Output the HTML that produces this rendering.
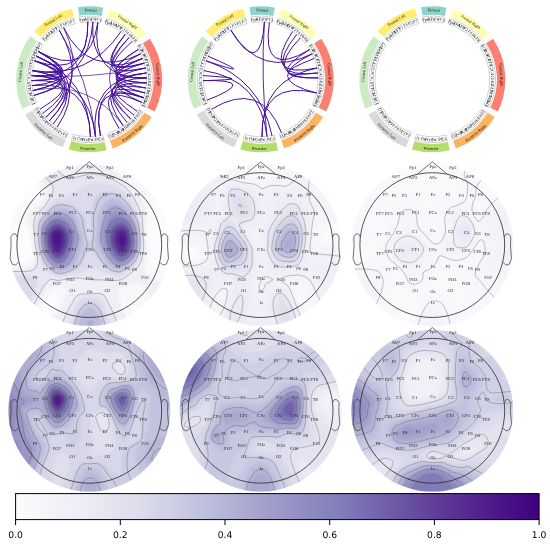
<!DOCTYPE html>
<html><head><meta charset="utf-8"><style>
html,body{margin:0;padding:0;background:#fff;}
svg{display:block;text-rendering:geometricPrecision;}
.gn{font-family:"Liberation Serif",serif;font-size:4.15px;fill:#111;text-anchor:middle;dominant-baseline:central;}
.cl{font-family:"Liberation Serif",serif;font-size:4.4px;fill:#000;text-anchor:middle;dominant-baseline:central;}
.ln{fill:none;stroke:#45109a;stroke-linecap:round;}
.el{font-family:"Liberation Serif",serif;font-size:4.6px;fill:#2a2a2a;text-anchor:middle;dominant-baseline:central;}
.cb{font-family:"DejaVu Sans","Liberation Sans",sans-serif;font-size:9.2px;fill:#000;text-anchor:middle;}
</style></head><body>
<svg width="550" height="545" viewBox="0 0 550 545">
<g><path d="M77.98,7.16A73.0,73.0 0 0 1 103.33,7.69L101.70,15.93A64.6,64.6 0 0 0 79.27,15.46Z" fill="#8dd3c7"/>
<path d="M79.47,16.75A63.3,63.3 0 0 1 101.45,17.21L100.30,22.99A57.4,57.4 0 0 0 80.37,22.58Z" fill="#fff" stroke="#9a9a9a" stroke-width="0.45"/>
<text x="90.60" y="10.12" class="gn" transform="rotate(1.2 90.60 10.12)">Frontal</text>
<text x="82.53" y="19.31" class="cl" transform="rotate(353.7 82.53 19.31)">Fpz</text>
<text x="87.78" y="18.97" class="cl" transform="rotate(358.7 87.78 18.97)">AFz</text>
<text x="93.04" y="19.08" class="cl" transform="rotate(3.7 93.04 19.08)">Fz</text>
<text x="98.28" y="19.64" class="cl" transform="rotate(8.7 98.28 19.64)">FCz</text>
<path d="M109.52,9.20A73.0,73.0 0 0 1 146.04,33.56L139.50,38.82A64.6,64.6 0 0 0 107.17,17.27Z" fill="#ffffb3"/>
<path d="M106.81,18.51A63.3,63.3 0 0 1 138.48,39.64L133.88,43.33A57.4,57.4 0 0 0 105.16,24.18Z" fill="#fff" stroke="#9a9a9a" stroke-width="0.45"/>
<text x="127.55" y="21.73" class="gn" transform="rotate(33.7 127.55 21.73)">Frontal Right</text>
<text x="108.50" y="22.14" class="cl" transform="rotate(18.7 108.50 22.14)">Fp2</text>
<text x="113.41" y="24.04" class="cl" transform="rotate(23.7 113.41 24.04)">AF4</text>
<text x="118.13" y="26.36" class="cl" transform="rotate(28.7 118.13 26.36)">AF8</text>
<text x="122.63" y="29.09" class="cl" transform="rotate(33.7 122.63 29.09)">F2</text>
<text x="126.88" y="32.20" class="cl" transform="rotate(38.7 126.88 32.20)">F4</text>
<text x="130.84" y="35.67" class="cl" transform="rotate(43.7 130.84 35.67)">F6</text>
<text x="134.49" y="39.47" class="cl" transform="rotate(48.7 134.49 39.47)">F8</text>
<path d="M149.81,38.69A73.0,73.0 0 0 1 154.65,111.53L147.11,107.82A64.6,64.6 0 0 0 142.83,43.36Z" fill="#fb8072"/>
<path d="M141.75,44.09A63.3,63.3 0 0 1 145.95,107.25L140.65,104.64A57.4,57.4 0 0 0 136.85,47.37Z" fill="#fff" stroke="#9a9a9a" stroke-width="0.45"/>
<text x="158.20" y="74.71" class="gn" transform="rotate(86.2 158.20 74.71)">Central Right</text>
<text x="140.72" y="47.95" class="cl" transform="rotate(58.7 140.72 47.95)">FC2</text>
<text x="143.25" y="52.56" class="cl" transform="rotate(63.7 143.25 52.56)">FC4</text>
<text x="145.38" y="57.38" class="cl" transform="rotate(68.7 145.38 57.38)">FC6</text>
<text x="147.07" y="62.36" class="cl" transform="rotate(73.7 147.07 62.36)">FT8</text>
<text x="148.33" y="67.47" class="cl" transform="rotate(78.7 148.33 67.47)">C2</text>
<text x="149.14" y="72.68" class="cl" transform="rotate(83.7 149.14 72.68)">C4</text>
<text x="149.48" y="77.93" class="cl" transform="rotate(88.7 149.48 77.93)">C6</text>
<text x="149.37" y="83.19" class="cl" transform="rotate(-86.3 149.37 83.19)">T8</text>
<text x="148.81" y="88.43" class="cl" transform="rotate(-81.3 148.81 88.43)">CP2</text>
<text x="147.78" y="93.59" class="cl" transform="rotate(-76.3 147.78 93.59)">CP4</text>
<text x="146.31" y="98.65" class="cl" transform="rotate(-71.3 146.31 98.65)">CP6</text>
<text x="144.41" y="103.56" class="cl" transform="rotate(-66.3 144.41 103.56)">TP8</text>
<path d="M151.59,117.12A73.0,73.0 0 0 1 112.68,148.41L109.97,140.45A64.6,64.6 0 0 0 144.41,112.76Z" fill="#fdb462"/>
<path d="M143.29,112.09A63.3,63.3 0 0 1 109.55,139.22L107.65,133.64A57.4,57.4 0 0 0 138.25,109.03Z" fill="#fff" stroke="#9a9a9a" stroke-width="0.45"/>
<text x="132.51" y="133.23" class="gn" transform="rotate(-38.8 132.51 133.23)">Posterior Right</text>
<text x="139.36" y="112.78" class="cl" transform="rotate(-56.3 139.36 112.78)">P2</text>
<text x="136.25" y="117.03" class="cl" transform="rotate(-51.3 136.25 117.03)">P4</text>
<text x="132.78" y="120.99" class="cl" transform="rotate(-46.3 132.78 120.99)">P6</text>
<text x="128.98" y="124.64" class="cl" transform="rotate(-41.3 128.98 124.64)">P8</text>
<text x="124.88" y="127.94" class="cl" transform="rotate(-36.3 124.88 127.94)">P10</text>
<text x="120.50" y="130.87" class="cl" transform="rotate(-31.3 120.50 130.87)">PO4</text>
<text x="115.89" y="133.40" class="cl" transform="rotate(-26.3 115.89 133.40)">PO8</text>
<text x="111.07" y="135.53" class="cl" transform="rotate(-21.3 111.07 135.53)">O2</text>
<path d="M106.56,150.19A73.0,73.0 0 0 1 68.78,149.40L71.13,141.33A64.6,64.6 0 0 0 104.56,142.04Z" fill="#b3de69"/>
<path d="M104.25,140.77A63.3,63.3 0 0 1 71.49,140.09L73.14,134.42A57.4,57.4 0 0 0 102.84,135.04Z" fill="#fff" stroke="#9a9a9a" stroke-width="0.45"/>
<text x="87.70" y="148.48" class="gn" transform="rotate(1.2 87.70 148.48)">Posterior</text>
<text x="100.98" y="138.48" class="cl" transform="rotate(-11.3 100.98 138.48)">Cz</text>
<text x="95.77" y="139.29" class="cl" transform="rotate(-6.3 95.77 139.29)">CPz</text>
<text x="90.52" y="139.63" class="cl" transform="rotate(-1.3 90.52 139.63)">Pz</text>
<text x="85.26" y="139.52" class="cl" transform="rotate(3.7 85.26 139.52)">POz</text>
<text x="80.02" y="138.96" class="cl" transform="rotate(8.7 80.02 138.96)">Oz</text>
<text x="74.86" y="137.93" class="cl" transform="rotate(13.7 74.86 137.93)">Iz</text>
<path d="M62.75,147.36A73.0,73.0 0 0 1 25.18,114.47L32.54,110.42A64.6,64.6 0 0 0 65.79,139.53Z" fill="#d9d9d9"/>
<path d="M66.26,138.32A63.3,63.3 0 0 1 33.68,109.80L38.85,106.95A57.4,57.4 0 0 0 68.39,132.82Z" fill="#fff" stroke="#9a9a9a" stroke-width="0.45"/>
<text x="43.57" y="131.37" class="gn" transform="rotate(41.2 43.57 131.37)">Posterior Left</text>
<text x="64.89" y="134.56" class="cl" transform="rotate(23.7 64.89 134.56)">P1</text>
<text x="60.17" y="132.24" class="cl" transform="rotate(28.7 60.17 132.24)">P3</text>
<text x="55.67" y="129.51" class="cl" transform="rotate(33.7 55.67 129.51)">P5</text>
<text x="51.42" y="126.40" class="cl" transform="rotate(38.7 51.42 126.40)">P7</text>
<text x="47.46" y="122.93" class="cl" transform="rotate(43.7 47.46 122.93)">P9</text>
<text x="43.81" y="119.13" class="cl" transform="rotate(48.7 43.81 119.13)">PO3</text>
<text x="40.51" y="115.03" class="cl" transform="rotate(53.7 40.51 115.03)">PO7</text>
<text x="37.58" y="110.65" class="cl" transform="rotate(58.7 37.58 110.65)">O1</text>
<path d="M22.36,108.76A73.0,73.0 0 0 1 30.24,36.19L37.02,41.15A64.6,64.6 0 0 0 30.04,105.37Z" fill="#ccebc5"/>
<path d="M31.23,104.84A63.3,63.3 0 0 1 38.07,41.91L42.83,45.40A57.4,57.4 0 0 0 36.63,102.46Z" fill="#fff" stroke="#9a9a9a" stroke-width="0.45"/>
<text x="20.35" y="71.83" class="gn" transform="rotate(276.2 20.35 71.83)">Central Left</text>
<text x="32.92" y="101.22" class="cl" transform="rotate(68.7 32.92 101.22)">FC1</text>
<text x="31.23" y="96.24" class="cl" transform="rotate(73.7 31.23 96.24)">FC3</text>
<text x="29.97" y="91.13" class="cl" transform="rotate(78.7 29.97 91.13)">FC5</text>
<text x="29.16" y="85.92" class="cl" transform="rotate(83.7 29.16 85.92)">FT7</text>
<text x="28.82" y="80.67" class="cl" transform="rotate(88.7 28.82 80.67)">C1</text>
<text x="28.93" y="75.41" class="cl" transform="rotate(273.7 28.93 75.41)">C3</text>
<text x="29.49" y="70.17" class="cl" transform="rotate(278.7 29.49 70.17)">C5</text>
<text x="30.52" y="65.01" class="cl" transform="rotate(283.7 30.52 65.01)">T7</text>
<text x="31.99" y="59.95" class="cl" transform="rotate(288.7 31.99 59.95)">CP1</text>
<text x="33.89" y="55.04" class="cl" transform="rotate(293.7 33.89 55.04)">CP3</text>
<text x="36.21" y="50.32" class="cl" transform="rotate(298.7 36.21 50.32)">CP5</text>
<text x="38.94" y="45.82" class="cl" transform="rotate(303.7 38.94 45.82)">TP7</text>
<path d="M34.22,31.22A73.0,73.0 0 0 1 71.74,8.41L73.74,16.56A64.6,64.6 0 0 0 40.54,36.75Z" fill="#ffed6f"/>
<path d="M41.52,37.60A63.3,63.3 0 0 1 74.05,17.83L75.46,23.56A57.4,57.4 0 0 0 45.96,41.49Z" fill="#fff" stroke="#9a9a9a" stroke-width="0.45"/>
<text x="53.20" y="20.17" class="gn" transform="rotate(328.7 53.20 20.17)">Frontal Left</text>
<text x="45.52" y="37.61" class="cl" transform="rotate(313.7 45.52 37.61)">Fp1</text>
<text x="49.32" y="33.96" class="cl" transform="rotate(318.7 49.32 33.96)">AF3</text>
<text x="53.42" y="30.66" class="cl" transform="rotate(323.7 53.42 30.66)">AF7</text>
<text x="57.80" y="27.73" class="cl" transform="rotate(328.7 57.80 27.73)">F1</text>
<text x="62.41" y="25.20" class="cl" transform="rotate(333.7 62.41 25.20)">F3</text>
<text x="67.23" y="23.07" class="cl" transform="rotate(338.7 67.23 23.07)">F5</text>
<text x="72.21" y="21.38" class="cl" transform="rotate(343.7 72.21 21.38)">F7</text>
<path d="M87.85,22.11Q89.15,79.30 32.07,75.61" class="ln" stroke-width="1.0"/>
<path d="M87.85,22.11Q89.15,79.30 34.97,60.96" class="ln" stroke-width="1.0"/>
<path d="M92.84,22.22Q89.15,79.30 33.06,90.51" class="ln" stroke-width="1.0"/>
<path d="M92.84,22.22Q89.15,79.30 144.05,63.25" class="ln" stroke-width="1.0"/>
<path d="M97.80,22.76Q89.15,79.30 146.34,78.00" class="ln" stroke-width="1.0"/>
<path d="M97.80,22.76Q89.15,79.30 38.98,51.83" class="ln" stroke-width="1.0"/>
<path d="M100.36,135.39Q89.15,79.30 146.23,82.99" class="ln" stroke-width="1.0"/>
<path d="M100.36,135.39Q89.15,79.30 143.33,97.64" class="ln" stroke-width="1.0"/>
<path d="M95.43,136.15Q89.15,79.30 32.61,70.65" class="ln" stroke-width="1.0"/>
<path d="M95.43,136.15Q89.15,79.30 146.00,73.02" class="ln" stroke-width="1.0"/>
<path d="M90.45,136.49Q89.15,79.30 32.30,85.58" class="ln" stroke-width="1.0"/>
<path d="M90.45,136.49Q89.15,79.30 36.77,56.31" class="ln" stroke-width="1.0"/>
<path d="M59.43,30.42Q89.15,79.30 49.63,120.65" class="ln" stroke-width="1.0"/>
<path d="M63.81,28.02Q89.15,79.30 140.43,53.96" class="ln" stroke-width="1.0"/>
<path d="M59.43,30.42Q89.15,79.30 95.43,136.15" class="ln" stroke-width="0.8"/>
<path d="M120.89,31.71Q89.15,79.30 32.61,70.65" class="ln" stroke-width="1.0"/>
<path d="M124.91,34.66Q89.15,79.30 142.44,58.52" class="ln" stroke-width="1.0"/>
<path d="M128.67,37.95Q89.15,79.30 144.05,63.25" class="ln" stroke-width="1.0"/>
<path d="M132.12,41.55Q89.15,79.30 145.24,68.09" class="ln" stroke-width="1.0"/>
<path d="M124.91,34.66Q89.15,79.30 146.34,78.00" class="ln" stroke-width="1.0"/>
<path d="M128.67,37.95Q89.15,79.30 130.50,118.82" class="ln" stroke-width="0.8"/>
<path d="M34.25,95.35Q89.15,79.30 34.97,60.96" class="ln" stroke-width="1.0"/>
<path d="M32.30,85.58Q89.15,79.30 36.77,56.31" class="ln" stroke-width="1.0"/>
<path d="M33.06,90.51Q89.15,79.30 38.98,51.83" class="ln" stroke-width="1.0"/>
<path d="M31.96,80.60Q89.15,79.30 36.77,56.31" class="ln" stroke-width="1.0"/>
<path d="M32.07,75.61Q89.15,79.30 34.25,95.35" class="ln" stroke-width="1.0"/>
<path d="M32.61,70.65Q89.15,79.30 38.98,51.83" class="ln" stroke-width="1.0"/>
<path d="M34.97,60.96Q89.15,79.30 31.96,80.60" class="ln" stroke-width="1.0"/>
<path d="M38.98,51.83Q89.15,79.30 32.07,75.61" class="ln" stroke-width="1.0"/>
<path d="M40.27,109.02Q89.15,79.30 31.96,80.60" class="ln" stroke-width="1.0"/>
<path d="M43.05,113.16Q89.15,79.30 32.07,75.61" class="ln" stroke-width="1.0"/>
<path d="M46.18,117.05Q89.15,79.30 34.97,60.96" class="ln" stroke-width="1.0"/>
<path d="M49.63,120.65Q89.15,79.30 36.77,56.31" class="ln" stroke-width="1.0"/>
<path d="M53.39,123.94Q89.15,79.30 32.61,70.65" class="ln" stroke-width="1.0"/>
<path d="M57.41,126.89Q89.15,79.30 38.98,51.83" class="ln" stroke-width="1.0"/>
<path d="M46.18,117.05Q89.15,79.30 63.81,28.02" class="ln" stroke-width="0.8"/>
<path d="M136.74,111.04Q89.15,79.30 145.69,87.95" class="ln" stroke-width="1.0"/>
<path d="M133.79,115.06Q89.15,79.30 144.72,92.85" class="ln" stroke-width="1.0"/>
<path d="M130.50,118.82Q89.15,79.30 143.33,97.64" class="ln" stroke-width="1.0"/>
<path d="M126.90,122.27Q89.15,79.30 146.00,73.02" class="ln" stroke-width="1.0"/>
<path d="M123.01,125.40Q89.15,79.30 146.34,78.00" class="ln" stroke-width="1.0"/>
<path d="M118.87,128.18Q89.15,79.30 141.53,102.29" class="ln" stroke-width="1.0"/>
<path d="M123.01,125.40Q89.15,79.30 33.06,90.51" class="ln" stroke-width="0.7"/>
<path d="M138.03,49.58Q89.15,79.30 145.69,87.95" class="ln" stroke-width="1.0"/>
<path d="M140.43,53.96Q89.15,79.30 144.72,92.85" class="ln" stroke-width="1.0"/>
<path d="M142.44,58.52Q89.15,79.30 143.33,97.64" class="ln" stroke-width="1.0"/>
<path d="M144.05,63.25Q89.15,79.30 146.23,82.99" class="ln" stroke-width="1.0"/>
<path d="M145.24,68.09Q89.15,79.30 141.53,102.29" class="ln" stroke-width="1.0"/>
<path d="M146.00,73.02Q89.15,79.30 143.33,97.64" class="ln" stroke-width="1.0"/>
<path d="M138.03,49.58Q89.15,79.30 146.34,78.00" class="ln" stroke-width="1.0"/>
<path d="M146.23,82.99Q89.15,79.30 142.44,58.52" class="ln" stroke-width="1.0"/>
<path d="M32.07,75.61Q89.15,79.30 145.24,68.09" class="ln" stroke-width="0.7"/></g>
<g><path d="M249.53,7.16A73.0,73.0 0 0 1 274.88,7.69L273.25,15.93A64.6,64.6 0 0 0 250.82,15.46Z" fill="#8dd3c7"/>
<path d="M251.02,16.75A63.3,63.3 0 0 1 273.00,17.21L271.85,22.99A57.4,57.4 0 0 0 251.92,22.58Z" fill="#fff" stroke="#9a9a9a" stroke-width="0.45"/>
<text x="262.15" y="10.12" class="gn" transform="rotate(1.2 262.15 10.12)">Frontal</text>
<text x="254.08" y="19.31" class="cl" transform="rotate(353.7 254.08 19.31)">Fpz</text>
<text x="259.33" y="18.97" class="cl" transform="rotate(358.7 259.33 18.97)">AFz</text>
<text x="264.59" y="19.08" class="cl" transform="rotate(3.7 264.59 19.08)">Fz</text>
<text x="269.83" y="19.64" class="cl" transform="rotate(8.7 269.83 19.64)">FCz</text>
<path d="M281.07,9.20A73.0,73.0 0 0 1 317.59,33.56L311.05,38.82A64.6,64.6 0 0 0 278.72,17.27Z" fill="#ffffb3"/>
<path d="M278.36,18.51A63.3,63.3 0 0 1 310.03,39.64L305.43,43.33A57.4,57.4 0 0 0 276.71,24.18Z" fill="#fff" stroke="#9a9a9a" stroke-width="0.45"/>
<text x="299.10" y="21.73" class="gn" transform="rotate(33.7 299.10 21.73)">Frontal Right</text>
<text x="280.05" y="22.14" class="cl" transform="rotate(18.7 280.05 22.14)">Fp2</text>
<text x="284.96" y="24.04" class="cl" transform="rotate(23.7 284.96 24.04)">AF4</text>
<text x="289.68" y="26.36" class="cl" transform="rotate(28.7 289.68 26.36)">AF8</text>
<text x="294.18" y="29.09" class="cl" transform="rotate(33.7 294.18 29.09)">F2</text>
<text x="298.43" y="32.20" class="cl" transform="rotate(38.7 298.43 32.20)">F4</text>
<text x="302.39" y="35.67" class="cl" transform="rotate(43.7 302.39 35.67)">F6</text>
<text x="306.04" y="39.47" class="cl" transform="rotate(48.7 306.04 39.47)">F8</text>
<path d="M321.36,38.69A73.0,73.0 0 0 1 326.20,111.53L318.66,107.82A64.6,64.6 0 0 0 314.38,43.36Z" fill="#fb8072"/>
<path d="M313.30,44.09A63.3,63.3 0 0 1 317.50,107.25L312.20,104.64A57.4,57.4 0 0 0 308.40,47.37Z" fill="#fff" stroke="#9a9a9a" stroke-width="0.45"/>
<text x="329.75" y="74.71" class="gn" transform="rotate(86.2 329.75 74.71)">Central Right</text>
<text x="312.27" y="47.95" class="cl" transform="rotate(58.7 312.27 47.95)">FC2</text>
<text x="314.80" y="52.56" class="cl" transform="rotate(63.7 314.80 52.56)">FC4</text>
<text x="316.93" y="57.38" class="cl" transform="rotate(68.7 316.93 57.38)">FC6</text>
<text x="318.62" y="62.36" class="cl" transform="rotate(73.7 318.62 62.36)">FT8</text>
<text x="319.88" y="67.47" class="cl" transform="rotate(78.7 319.88 67.47)">C2</text>
<text x="320.69" y="72.68" class="cl" transform="rotate(83.7 320.69 72.68)">C4</text>
<text x="321.03" y="77.93" class="cl" transform="rotate(88.7 321.03 77.93)">C6</text>
<text x="320.92" y="83.19" class="cl" transform="rotate(-86.3 320.92 83.19)">T8</text>
<text x="320.36" y="88.43" class="cl" transform="rotate(-81.3 320.36 88.43)">CP2</text>
<text x="319.33" y="93.59" class="cl" transform="rotate(-76.3 319.33 93.59)">CP4</text>
<text x="317.86" y="98.65" class="cl" transform="rotate(-71.3 317.86 98.65)">CP6</text>
<text x="315.96" y="103.56" class="cl" transform="rotate(-66.3 315.96 103.56)">TP8</text>
<path d="M323.14,117.12A73.0,73.0 0 0 1 284.23,148.41L281.52,140.45A64.6,64.6 0 0 0 315.96,112.76Z" fill="#fdb462"/>
<path d="M314.84,112.09A63.3,63.3 0 0 1 281.10,139.22L279.20,133.64A57.4,57.4 0 0 0 309.80,109.03Z" fill="#fff" stroke="#9a9a9a" stroke-width="0.45"/>
<text x="304.06" y="133.23" class="gn" transform="rotate(-38.8 304.06 133.23)">Posterior Right</text>
<text x="310.91" y="112.78" class="cl" transform="rotate(-56.3 310.91 112.78)">P2</text>
<text x="307.80" y="117.03" class="cl" transform="rotate(-51.3 307.80 117.03)">P4</text>
<text x="304.33" y="120.99" class="cl" transform="rotate(-46.3 304.33 120.99)">P6</text>
<text x="300.53" y="124.64" class="cl" transform="rotate(-41.3 300.53 124.64)">P8</text>
<text x="296.43" y="127.94" class="cl" transform="rotate(-36.3 296.43 127.94)">P10</text>
<text x="292.05" y="130.87" class="cl" transform="rotate(-31.3 292.05 130.87)">PO4</text>
<text x="287.44" y="133.40" class="cl" transform="rotate(-26.3 287.44 133.40)">PO8</text>
<text x="282.62" y="135.53" class="cl" transform="rotate(-21.3 282.62 135.53)">O2</text>
<path d="M278.11,150.19A73.0,73.0 0 0 1 240.33,149.40L242.68,141.33A64.6,64.6 0 0 0 276.11,142.04Z" fill="#b3de69"/>
<path d="M275.80,140.77A63.3,63.3 0 0 1 243.04,140.09L244.69,134.42A57.4,57.4 0 0 0 274.39,135.04Z" fill="#fff" stroke="#9a9a9a" stroke-width="0.45"/>
<text x="259.25" y="148.48" class="gn" transform="rotate(1.2 259.25 148.48)">Posterior</text>
<text x="272.53" y="138.48" class="cl" transform="rotate(-11.3 272.53 138.48)">Cz</text>
<text x="267.32" y="139.29" class="cl" transform="rotate(-6.3 267.32 139.29)">CPz</text>
<text x="262.07" y="139.63" class="cl" transform="rotate(-1.3 262.07 139.63)">Pz</text>
<text x="256.81" y="139.52" class="cl" transform="rotate(3.7 256.81 139.52)">POz</text>
<text x="251.57" y="138.96" class="cl" transform="rotate(8.7 251.57 138.96)">Oz</text>
<text x="246.41" y="137.93" class="cl" transform="rotate(13.7 246.41 137.93)">Iz</text>
<path d="M234.30,147.36A73.0,73.0 0 0 1 196.73,114.47L204.09,110.42A64.6,64.6 0 0 0 237.34,139.53Z" fill="#d9d9d9"/>
<path d="M237.81,138.32A63.3,63.3 0 0 1 205.23,109.80L210.40,106.95A57.4,57.4 0 0 0 239.94,132.82Z" fill="#fff" stroke="#9a9a9a" stroke-width="0.45"/>
<text x="215.12" y="131.37" class="gn" transform="rotate(41.2 215.12 131.37)">Posterior Left</text>
<text x="236.44" y="134.56" class="cl" transform="rotate(23.7 236.44 134.56)">P1</text>
<text x="231.72" y="132.24" class="cl" transform="rotate(28.7 231.72 132.24)">P3</text>
<text x="227.22" y="129.51" class="cl" transform="rotate(33.7 227.22 129.51)">P5</text>
<text x="222.97" y="126.40" class="cl" transform="rotate(38.7 222.97 126.40)">P7</text>
<text x="219.01" y="122.93" class="cl" transform="rotate(43.7 219.01 122.93)">P9</text>
<text x="215.36" y="119.13" class="cl" transform="rotate(48.7 215.36 119.13)">PO3</text>
<text x="212.06" y="115.03" class="cl" transform="rotate(53.7 212.06 115.03)">PO7</text>
<text x="209.13" y="110.65" class="cl" transform="rotate(58.7 209.13 110.65)">O1</text>
<path d="M193.91,108.76A73.0,73.0 0 0 1 201.79,36.19L208.57,41.15A64.6,64.6 0 0 0 201.59,105.37Z" fill="#ccebc5"/>
<path d="M202.78,104.84A63.3,63.3 0 0 1 209.62,41.91L214.38,45.40A57.4,57.4 0 0 0 208.18,102.46Z" fill="#fff" stroke="#9a9a9a" stroke-width="0.45"/>
<text x="191.90" y="71.83" class="gn" transform="rotate(276.2 191.90 71.83)">Central Left</text>
<text x="204.47" y="101.22" class="cl" transform="rotate(68.7 204.47 101.22)">FC1</text>
<text x="202.78" y="96.24" class="cl" transform="rotate(73.7 202.78 96.24)">FC3</text>
<text x="201.52" y="91.13" class="cl" transform="rotate(78.7 201.52 91.13)">FC5</text>
<text x="200.71" y="85.92" class="cl" transform="rotate(83.7 200.71 85.92)">FT7</text>
<text x="200.37" y="80.67" class="cl" transform="rotate(88.7 200.37 80.67)">C1</text>
<text x="200.48" y="75.41" class="cl" transform="rotate(273.7 200.48 75.41)">C3</text>
<text x="201.04" y="70.17" class="cl" transform="rotate(278.7 201.04 70.17)">C5</text>
<text x="202.07" y="65.01" class="cl" transform="rotate(283.7 202.07 65.01)">T7</text>
<text x="203.54" y="59.95" class="cl" transform="rotate(288.7 203.54 59.95)">CP1</text>
<text x="205.44" y="55.04" class="cl" transform="rotate(293.7 205.44 55.04)">CP3</text>
<text x="207.76" y="50.32" class="cl" transform="rotate(298.7 207.76 50.32)">CP5</text>
<text x="210.49" y="45.82" class="cl" transform="rotate(303.7 210.49 45.82)">TP7</text>
<path d="M205.77,31.22A73.0,73.0 0 0 1 243.29,8.41L245.29,16.56A64.6,64.6 0 0 0 212.09,36.75Z" fill="#ffed6f"/>
<path d="M213.07,37.60A63.3,63.3 0 0 1 245.60,17.83L247.01,23.56A57.4,57.4 0 0 0 217.51,41.49Z" fill="#fff" stroke="#9a9a9a" stroke-width="0.45"/>
<text x="224.75" y="20.17" class="gn" transform="rotate(328.7 224.75 20.17)">Frontal Left</text>
<text x="217.07" y="37.61" class="cl" transform="rotate(313.7 217.07 37.61)">Fp1</text>
<text x="220.87" y="33.96" class="cl" transform="rotate(318.7 220.87 33.96)">AF3</text>
<text x="224.97" y="30.66" class="cl" transform="rotate(323.7 224.97 30.66)">AF7</text>
<text x="229.35" y="27.73" class="cl" transform="rotate(328.7 229.35 27.73)">F1</text>
<text x="233.96" y="25.20" class="cl" transform="rotate(333.7 233.96 25.20)">F3</text>
<text x="238.78" y="23.07" class="cl" transform="rotate(338.7 238.78 23.07)">F5</text>
<text x="243.76" y="21.38" class="cl" transform="rotate(343.7 243.76 21.38)">F7</text>
<path d="M230.98,30.42Q260.70,79.30 264.39,22.22" class="ln" stroke-width="1.0"/>
<path d="M230.98,30.42Q260.70,79.30 311.98,53.96" class="ln" stroke-width="1.0"/>
<path d="M264.39,22.22Q260.70,79.30 266.98,136.15" class="ln" stroke-width="0.9"/>
<path d="M269.35,22.76Q260.70,79.30 309.58,49.58" class="ln" stroke-width="1.0"/>
<path d="M292.44,31.71Q260.70,79.30 316.79,68.09" class="ln" stroke-width="1.0"/>
<path d="M296.46,34.66Q260.70,79.30 317.55,73.02" class="ln" stroke-width="1.0"/>
<path d="M300.22,37.95Q260.70,79.30 317.89,78.00" class="ln" stroke-width="1.0"/>
<path d="M309.58,49.58Q260.70,79.30 317.89,78.00" class="ln" stroke-width="1.0"/>
<path d="M311.98,53.96Q260.70,79.30 316.27,92.85" class="ln" stroke-width="1.0"/>
<path d="M313.99,58.52Q260.70,79.30 317.55,73.02" class="ln" stroke-width="1.0"/>
<path d="M316.27,92.85Q260.70,79.30 262.00,136.49" class="ln" stroke-width="1.0"/>
<path d="M266.98,136.15Q260.70,79.30 204.16,70.65" class="ln" stroke-width="1.0"/>
<path d="M262.00,136.49Q260.70,79.30 316.79,68.09" class="ln" stroke-width="1.0"/>
<path d="M211.82,109.02Q260.70,79.30 281.48,132.59" class="ln" stroke-width="1.0"/>
<path d="M208.32,56.31Q260.70,79.30 206.52,60.96" class="ln" stroke-width="1.0"/>
<path d="M206.52,60.96Q260.70,79.30 271.91,135.39" class="ln" stroke-width="1.0"/>
<path d="M203.62,75.61Q260.70,79.30 203.51,80.60" class="ln" stroke-width="1.0"/>
<path d="M203.51,80.60Q260.70,79.30 207.41,100.08" class="ln" stroke-width="1.0"/></g>
<g><path d="M421.18,7.16A73.0,73.0 0 0 1 446.53,7.69L444.90,15.93A64.6,64.6 0 0 0 422.47,15.46Z" fill="#8dd3c7"/>
<path d="M422.67,16.75A63.3,63.3 0 0 1 444.65,17.21L443.50,22.99A57.4,57.4 0 0 0 423.57,22.58Z" fill="#fff" stroke="#9a9a9a" stroke-width="0.45"/>
<text x="433.80" y="10.12" class="gn" transform="rotate(1.2 433.80 10.12)">Frontal</text>
<text x="425.73" y="19.31" class="cl" transform="rotate(353.7 425.73 19.31)">Fpz</text>
<text x="430.98" y="18.97" class="cl" transform="rotate(358.7 430.98 18.97)">AFz</text>
<text x="436.24" y="19.08" class="cl" transform="rotate(3.7 436.24 19.08)">Fz</text>
<text x="441.48" y="19.64" class="cl" transform="rotate(8.7 441.48 19.64)">FCz</text>
<path d="M452.72,9.20A73.0,73.0 0 0 1 489.24,33.56L482.70,38.82A64.6,64.6 0 0 0 450.37,17.27Z" fill="#ffffb3"/>
<path d="M450.01,18.51A63.3,63.3 0 0 1 481.68,39.64L477.08,43.33A57.4,57.4 0 0 0 448.36,24.18Z" fill="#fff" stroke="#9a9a9a" stroke-width="0.45"/>
<text x="470.75" y="21.73" class="gn" transform="rotate(33.7 470.75 21.73)">Frontal Right</text>
<text x="451.70" y="22.14" class="cl" transform="rotate(18.7 451.70 22.14)">Fp2</text>
<text x="456.61" y="24.04" class="cl" transform="rotate(23.7 456.61 24.04)">AF4</text>
<text x="461.33" y="26.36" class="cl" transform="rotate(28.7 461.33 26.36)">AF8</text>
<text x="465.83" y="29.09" class="cl" transform="rotate(33.7 465.83 29.09)">F2</text>
<text x="470.08" y="32.20" class="cl" transform="rotate(38.7 470.08 32.20)">F4</text>
<text x="474.04" y="35.67" class="cl" transform="rotate(43.7 474.04 35.67)">F6</text>
<text x="477.69" y="39.47" class="cl" transform="rotate(48.7 477.69 39.47)">F8</text>
<path d="M493.01,38.69A73.0,73.0 0 0 1 497.85,111.53L490.31,107.82A64.6,64.6 0 0 0 486.03,43.36Z" fill="#fb8072"/>
<path d="M484.95,44.09A63.3,63.3 0 0 1 489.15,107.25L483.85,104.64A57.4,57.4 0 0 0 480.05,47.37Z" fill="#fff" stroke="#9a9a9a" stroke-width="0.45"/>
<text x="501.40" y="74.71" class="gn" transform="rotate(86.2 501.40 74.71)">Central Right</text>
<text x="483.92" y="47.95" class="cl" transform="rotate(58.7 483.92 47.95)">FC2</text>
<text x="486.45" y="52.56" class="cl" transform="rotate(63.7 486.45 52.56)">FC4</text>
<text x="488.58" y="57.38" class="cl" transform="rotate(68.7 488.58 57.38)">FC6</text>
<text x="490.27" y="62.36" class="cl" transform="rotate(73.7 490.27 62.36)">FT8</text>
<text x="491.53" y="67.47" class="cl" transform="rotate(78.7 491.53 67.47)">C2</text>
<text x="492.34" y="72.68" class="cl" transform="rotate(83.7 492.34 72.68)">C4</text>
<text x="492.68" y="77.93" class="cl" transform="rotate(88.7 492.68 77.93)">C6</text>
<text x="492.57" y="83.19" class="cl" transform="rotate(-86.3 492.57 83.19)">T8</text>
<text x="492.01" y="88.43" class="cl" transform="rotate(-81.3 492.01 88.43)">CP2</text>
<text x="490.98" y="93.59" class="cl" transform="rotate(-76.3 490.98 93.59)">CP4</text>
<text x="489.51" y="98.65" class="cl" transform="rotate(-71.3 489.51 98.65)">CP6</text>
<text x="487.61" y="103.56" class="cl" transform="rotate(-66.3 487.61 103.56)">TP8</text>
<path d="M494.79,117.12A73.0,73.0 0 0 1 455.88,148.41L453.17,140.45A64.6,64.6 0 0 0 487.61,112.76Z" fill="#fdb462"/>
<path d="M486.49,112.09A63.3,63.3 0 0 1 452.75,139.22L450.85,133.64A57.4,57.4 0 0 0 481.45,109.03Z" fill="#fff" stroke="#9a9a9a" stroke-width="0.45"/>
<text x="475.71" y="133.23" class="gn" transform="rotate(-38.8 475.71 133.23)">Posterior Right</text>
<text x="482.56" y="112.78" class="cl" transform="rotate(-56.3 482.56 112.78)">P2</text>
<text x="479.45" y="117.03" class="cl" transform="rotate(-51.3 479.45 117.03)">P4</text>
<text x="475.98" y="120.99" class="cl" transform="rotate(-46.3 475.98 120.99)">P6</text>
<text x="472.18" y="124.64" class="cl" transform="rotate(-41.3 472.18 124.64)">P8</text>
<text x="468.08" y="127.94" class="cl" transform="rotate(-36.3 468.08 127.94)">P10</text>
<text x="463.70" y="130.87" class="cl" transform="rotate(-31.3 463.70 130.87)">PO4</text>
<text x="459.09" y="133.40" class="cl" transform="rotate(-26.3 459.09 133.40)">PO8</text>
<text x="454.27" y="135.53" class="cl" transform="rotate(-21.3 454.27 135.53)">O2</text>
<path d="M449.76,150.19A73.0,73.0 0 0 1 411.98,149.40L414.33,141.33A64.6,64.6 0 0 0 447.76,142.04Z" fill="#b3de69"/>
<path d="M447.45,140.77A63.3,63.3 0 0 1 414.69,140.09L416.34,134.42A57.4,57.4 0 0 0 446.04,135.04Z" fill="#fff" stroke="#9a9a9a" stroke-width="0.45"/>
<text x="430.90" y="148.48" class="gn" transform="rotate(1.2 430.90 148.48)">Posterior</text>
<text x="444.18" y="138.48" class="cl" transform="rotate(-11.3 444.18 138.48)">Cz</text>
<text x="438.97" y="139.29" class="cl" transform="rotate(-6.3 438.97 139.29)">CPz</text>
<text x="433.72" y="139.63" class="cl" transform="rotate(-1.3 433.72 139.63)">Pz</text>
<text x="428.46" y="139.52" class="cl" transform="rotate(3.7 428.46 139.52)">POz</text>
<text x="423.22" y="138.96" class="cl" transform="rotate(8.7 423.22 138.96)">Oz</text>
<text x="418.06" y="137.93" class="cl" transform="rotate(13.7 418.06 137.93)">Iz</text>
<path d="M405.95,147.36A73.0,73.0 0 0 1 368.38,114.47L375.74,110.42A64.6,64.6 0 0 0 408.99,139.53Z" fill="#d9d9d9"/>
<path d="M409.46,138.32A63.3,63.3 0 0 1 376.88,109.80L382.05,106.95A57.4,57.4 0 0 0 411.59,132.82Z" fill="#fff" stroke="#9a9a9a" stroke-width="0.45"/>
<text x="386.77" y="131.37" class="gn" transform="rotate(41.2 386.77 131.37)">Posterior Left</text>
<text x="408.09" y="134.56" class="cl" transform="rotate(23.7 408.09 134.56)">P1</text>
<text x="403.37" y="132.24" class="cl" transform="rotate(28.7 403.37 132.24)">P3</text>
<text x="398.87" y="129.51" class="cl" transform="rotate(33.7 398.87 129.51)">P5</text>
<text x="394.62" y="126.40" class="cl" transform="rotate(38.7 394.62 126.40)">P7</text>
<text x="390.66" y="122.93" class="cl" transform="rotate(43.7 390.66 122.93)">P9</text>
<text x="387.01" y="119.13" class="cl" transform="rotate(48.7 387.01 119.13)">PO3</text>
<text x="383.71" y="115.03" class="cl" transform="rotate(53.7 383.71 115.03)">PO7</text>
<text x="380.78" y="110.65" class="cl" transform="rotate(58.7 380.78 110.65)">O1</text>
<path d="M365.56,108.76A73.0,73.0 0 0 1 373.44,36.19L380.22,41.15A64.6,64.6 0 0 0 373.24,105.37Z" fill="#ccebc5"/>
<path d="M374.43,104.84A63.3,63.3 0 0 1 381.27,41.91L386.03,45.40A57.4,57.4 0 0 0 379.83,102.46Z" fill="#fff" stroke="#9a9a9a" stroke-width="0.45"/>
<text x="363.55" y="71.83" class="gn" transform="rotate(276.2 363.55 71.83)">Central Left</text>
<text x="376.12" y="101.22" class="cl" transform="rotate(68.7 376.12 101.22)">FC1</text>
<text x="374.43" y="96.24" class="cl" transform="rotate(73.7 374.43 96.24)">FC3</text>
<text x="373.17" y="91.13" class="cl" transform="rotate(78.7 373.17 91.13)">FC5</text>
<text x="372.36" y="85.92" class="cl" transform="rotate(83.7 372.36 85.92)">FT7</text>
<text x="372.02" y="80.67" class="cl" transform="rotate(88.7 372.02 80.67)">C1</text>
<text x="372.13" y="75.41" class="cl" transform="rotate(273.7 372.13 75.41)">C3</text>
<text x="372.69" y="70.17" class="cl" transform="rotate(278.7 372.69 70.17)">C5</text>
<text x="373.72" y="65.01" class="cl" transform="rotate(283.7 373.72 65.01)">T7</text>
<text x="375.19" y="59.95" class="cl" transform="rotate(288.7 375.19 59.95)">CP1</text>
<text x="377.09" y="55.04" class="cl" transform="rotate(293.7 377.09 55.04)">CP3</text>
<text x="379.41" y="50.32" class="cl" transform="rotate(298.7 379.41 50.32)">CP5</text>
<text x="382.14" y="45.82" class="cl" transform="rotate(303.7 382.14 45.82)">TP7</text>
<path d="M377.42,31.22A73.0,73.0 0 0 1 414.94,8.41L416.94,16.56A64.6,64.6 0 0 0 383.74,36.75Z" fill="#ffed6f"/>
<path d="M384.72,37.60A63.3,63.3 0 0 1 417.25,17.83L418.66,23.56A57.4,57.4 0 0 0 389.16,41.49Z" fill="#fff" stroke="#9a9a9a" stroke-width="0.45"/>
<text x="396.40" y="20.17" class="gn" transform="rotate(328.7 396.40 20.17)">Frontal Left</text>
<text x="388.72" y="37.61" class="cl" transform="rotate(313.7 388.72 37.61)">Fp1</text>
<text x="392.52" y="33.96" class="cl" transform="rotate(318.7 392.52 33.96)">AF3</text>
<text x="396.62" y="30.66" class="cl" transform="rotate(323.7 396.62 30.66)">AF7</text>
<text x="401.00" y="27.73" class="cl" transform="rotate(328.7 401.00 27.73)">F1</text>
<text x="405.61" y="25.20" class="cl" transform="rotate(333.7 405.61 25.20)">F3</text>
<text x="410.43" y="23.07" class="cl" transform="rotate(338.7 410.43 23.07)">F5</text>
<text x="415.41" y="21.38" class="cl" transform="rotate(343.7 415.41 21.38)">F7</text></g>
<defs><clipPath id="cp0"><circle cx="89.30" cy="245.10" r="80.99"/></clipPath><clipPath id="cp1"><circle cx="260.60" cy="245.10" r="80.99"/></clipPath><clipPath id="cp2"><circle cx="432.30" cy="245.10" r="80.99"/></clipPath><clipPath id="cp3"><circle cx="89.30" cy="410.80" r="80.99"/></clipPath><clipPath id="cp4"><circle cx="260.60" cy="410.80" r="80.99"/></clipPath><clipPath id="cp5"><circle cx="432.30" cy="410.80" r="80.99"/></clipPath><filter id="blr" x="-10%" y="-10%" width="120%" height="120%"><feGaussianBlur stdDeviation="1.2"/></filter></defs><g clip-path="url(#cp0)"><g filter="url(#blr)"><rect x="6.3" y="162.1" width="166.0" height="166.0" fill="#fcfbfd"/><path d="M7.3,163.1L170.8,163.1L170.8,228.3L164.8,228.4L160.3,230.0L157.5,232.1L156.6,235.1L157.3,236.6L158.8,238.0L163.3,240.4L166.3,241.0L170.8,240.9L170.8,326.6L7.3,326.6ZM10.3,233.3L8.1,235.1L7.8,236.6L8.8,237.7L10.3,238.2L12.9,238.1L16.1,236.6L16.5,235.1L15.0,233.6L13.3,233.1Z" fill="#fcfbfd" fill-rule="evenodd"/><path d="M7.3,163.1L170.8,163.1L170.8,224.9L164.8,224.7L158.8,226.4L155.8,228.7L154.3,230.6L152.7,233.6L152.7,235.1L157.3,242.9L161.3,247.1L161.5,248.6L157.4,253.1L157.2,254.6L157.8,256.1L160.3,258.6L163.3,259.9L167.8,260.5L170.8,260.0L170.8,326.6L7.3,326.6L7.3,258.4L11.8,259.6L17.7,259.1L21.1,257.6L23.6,254.6L23.5,253.1L19.0,248.6L18.0,247.1L17.9,245.6L19.5,241.1L22.8,236.6L23.1,235.1L22.7,233.6L19.5,230.6L16.3,229.2L11.8,228.3L7.3,228.5ZM7.3,247.5L7.3,243.6L8.0,244.1L8.8,245.6L8.2,247.1Z" fill="#fcfbfd" fill-rule="evenodd"/><path d="M7.3,163.1L170.8,163.1L170.8,220.7L163.3,220.3L158.8,221.3L155.8,222.7L153.7,224.6L151.7,227.6L149.8,233.5L149.7,235.1L153.7,248.6L153.8,250.1L152.1,254.6L152.8,257.4L154.3,260.2L157.3,263.0L160.3,264.3L164.8,265.1L170.8,264.9L170.8,326.6L7.3,326.6L7.3,262.7L14.8,262.9L22.3,261.2L25.3,259.4L26.8,257.9L28.2,254.6L26.2,248.6L25.7,239.6L26.9,235.1L25.7,232.1L22.3,228.5L17.8,226.1L13.3,225.2L7.3,225.2Z" fill="#fcfbfd" fill-rule="evenodd"/><path d="M7.3,163.1L170.8,163.1L170.8,205.7L163.3,195.8L160.3,195.6L155.7,199.1L152.8,204.6L153.3,209.6L152.7,214.1L153.1,217.1L150.0,221.6L148.9,224.6L147.8,229.1L147.3,235.1L149.4,248.6L149.3,251.6L148.5,254.6L148.8,259.1L149.8,263.6L151.3,266.4L154.3,268.6L157.3,269.4L163.3,269.9L170.8,269.4L170.8,326.6L7.3,326.6L7.3,265.6L17.8,265.5L25.3,263.8L28.0,262.1L29.8,260.1L31.0,257.6L31.6,254.6L29.6,242.6L29.5,233.6L25.5,226.1L22.3,223.2L17.8,221.5L13.3,220.8L7.3,221.4ZM25.3,176.5L20.0,178.1L16.3,181.0L15.8,182.6L16.1,188.6L14.3,190.1L13.1,193.1L13.4,197.6L14.8,200.9L17.8,204.2L20.8,205.5L25.3,205.4L26.8,204.3L28.3,201.9L34.3,200.7L37.3,199.2L39.9,196.1L40.8,193.1L40.5,190.1L39.4,187.1L35.8,181.9L31.3,178.1L28.3,176.8ZM52.3,294.3L47.8,298.1L44.9,302.6L43.1,307.1L42.5,313.1L43.3,316.8L44.8,318.9L46.3,319.2L49.3,316.5L52.3,311.2L55.1,304.1L55.9,299.6L55.7,296.6L53.8,294.1ZM128.8,299.5L128.5,304.1L130.3,309.6L133.3,313.1L134.8,313.3L136.3,312.7L138.0,310.1L137.8,307.1L136.5,304.1L134.3,301.1L131.8,299.1L130.3,298.8ZM134.8,165.7L133.3,166.3L132.6,167.6L132.8,169.1L134.8,170.2L137.0,169.1L137.6,167.6L136.4,166.1Z" fill="#f8f7fa" fill-rule="evenodd"/><path d="M7.3,163.1L63.7,163.1L67.8,166.1L73.3,167.2L78.7,166.1L84.9,163.1L107.0,163.1L117.5,173.6L136.9,188.6L140.5,194.6L143.0,200.6L144.7,206.6L146.4,215.6L145.1,230.6L146.3,248.6L144.9,263.6L145.3,274.2L146.8,276.8L155.8,280.9L161.8,282.5L170.8,283.5L170.8,326.6L151.1,326.6L152.8,325.0L155.4,314.6L155.6,310.1L154.7,305.6L151.9,299.6L143.5,286.1L140.8,283.8L137.8,283.5L124.3,286.3L120.6,289.1L119.4,290.6L118.3,293.6L118.5,298.1L120.9,305.6L125.4,316.1L130.8,326.6L49.9,326.6L64.4,298.1L66.8,292.1L66.6,289.1L65.2,287.6L61.3,286.4L56.8,285.9L52.3,287.1L47.8,290.5L43.3,296.1L38.8,304.1L35.6,311.6L34.3,317.6L34.6,320.6L37.0,326.6L7.3,326.6L7.3,268.2L17.8,268.3L25.3,267.5L29.8,265.8L33.1,262.1L34.1,259.1L34.4,254.6L32.5,242.6L32.0,233.6L29.8,224.9L27.0,217.1L30.3,212.6L33.4,209.6L39.5,205.1L42.6,202.1L45.4,196.1L46.1,191.6L44.8,186.4L41.3,181.1L31.3,171.3L25.3,167.5L20.8,167.7L14.8,170.2L10.3,174.4L7.3,179.0ZM157.3,163.1L170.8,163.1L170.8,185.0L167.8,182.2Z" fill="#f1eff6" fill-rule="evenodd"/><path d="M7.3,163.1L8.8,163.1L20.1,163.1L7.3,175.8ZM35.4,163.1L53.1,163.1L61.3,172.8L65.8,175.9L68.8,176.9L74.8,176.5L91.3,172.9L95.8,173.0L100.3,173.9L110.8,177.9L124.3,185.9L130.1,191.6L133.5,196.1L138.6,206.6L141.9,215.6L142.7,221.6L143.7,242.6L143.3,253.1L141.5,260.6L138.6,266.6L135.8,269.6L130.3,274.1L121.3,280.3L112.3,281.1L92.8,280.9L80.8,278.8L74.8,278.4L70.3,278.7L58.3,280.9L52.3,280.0L50.8,280.3L47.8,282.5L44.8,285.6L40.3,292.9L29.0,316.1L26.6,322.1L25.7,326.6L7.3,326.6L7.3,271.1L28.3,270.9L32.8,269.6L35.6,266.6L36.8,263.6L37.2,259.1L34.4,238.1L33.5,224.6L34.0,218.6L36.4,214.1L45.1,205.1L50.4,196.1L52.2,191.6L52.2,188.6L50.4,184.1L48.4,181.1L40.5,173.6L36.7,169.1L35.4,166.1ZM158.2,163.1L170.8,163.1L170.8,175.9L165.6,170.6ZM85.1,293.6L100.3,293.2L103.3,293.6L104.8,295.0L112.3,309.0L119.9,326.6L60.3,326.6L66.5,311.6L74.8,297.2L77.8,294.4ZM158.1,326.6L170.8,313.9L170.8,326.6Z" fill="#e6e5f1" fill-rule="evenodd"/><path d="M94.8,182.6L103.3,183.1L110.8,184.9L115.3,186.5L123.7,191.6L130.3,199.4L137.2,212.6L140.5,221.6L141.8,238.1L141.9,245.6L141.4,251.6L139.7,257.6L137.4,262.1L134.2,266.6L121.3,276.0L116.8,276.3L110.8,275.5L101.8,272.3L95.8,268.8L92.8,268.0L88.3,269.0L81.8,272.6L79.3,273.4L71.8,274.6L59.8,277.4L55.3,276.4L49.3,273.0L45.7,269.6L42.8,265.1L39.3,256.1L37.7,248.6L36.2,235.1L36.5,224.6L37.9,218.6L39.9,215.6L53.8,200.0L58.3,198.0L70.7,194.6L76.3,192.0L88.3,184.4ZM13.5,275.6L25.3,275.2L34.3,276.7L36.9,278.6L37.6,280.1L37.8,283.1L36.5,289.1L34.3,295.1L29.8,304.5L26.8,309.3L22.3,313.4L14.8,315.5L10.3,316.1L7.3,313.5L7.3,276.9ZM83.3,298.1L95.8,297.7L97.7,298.1L100.3,300.1L102.2,302.6L104.4,307.1L110.9,326.6L68.6,326.6L72.5,314.6L76.3,305.2L79.3,300.8Z" fill="#dbdbec" fill-rule="evenodd"/><path d="M102.0,193.1L106.3,191.9L112.3,191.8L116.8,193.1L121.3,195.7L128.8,203.6L137.1,218.6L139.3,226.1L140.3,238.1L140.3,245.6L139.9,250.1L138.8,254.6L135.0,262.1L133.3,264.3L130.4,266.6L121.3,272.3L118.3,272.8L113.8,272.3L109.3,270.2L104.7,266.6L100.4,262.1L92.8,251.8L89.8,250.1L87.8,251.6L82.0,263.6L76.3,269.1L67.3,272.8L59.8,274.5L56.8,273.9L52.3,271.5L47.8,267.7L44.8,263.7L41.8,257.6L39.9,251.6L38.4,242.6L37.9,233.6L38.6,224.6L40.3,219.5L50.8,207.9L55.3,204.5L61.3,203.4L71.8,204.9L74.8,206.7L82.7,214.1L84.5,217.1L86.2,223.1L86.0,229.1L87.0,235.1L88.3,239.9L89.8,241.8L91.3,238.3L91.7,235.1L90.9,223.1L91.5,214.1L93.0,205.1L94.5,200.6L96.2,197.6L98.8,195.0ZM86.1,302.6L88.3,302.1L92.8,302.2L95.8,303.5L98.1,305.6L100.3,308.7L102.4,313.1L106.4,326.6L73.0,326.6L75.5,317.6L78.7,310.1L82.3,305.1Z" fill="#cbcbe3" fill-rule="evenodd"/><path d="M110.2,199.1L113.8,198.6L118.3,199.7L125.8,205.6L128.8,209.3L134.8,219.0L137.2,224.6L138.1,229.1L139.0,239.6L138.9,245.6L138.0,251.6L136.4,256.1L133.3,261.3L130.3,264.1L125.8,267.1L119.8,269.6L116.8,269.6L113.8,268.8L110.8,267.0L107.8,264.2L102.2,256.1L96.6,245.6L95.7,242.6L97.4,227.6L97.4,218.6L98.3,214.1L103.7,203.6L106.3,200.9ZM58.0,208.1L62.8,208.0L67.3,209.3L71.8,211.9L75.2,215.6L76.9,218.6L79.7,226.1L82.2,235.1L83.4,242.6L78.6,257.6L75.5,263.6L72.7,266.6L68.8,269.2L64.3,270.9L59.8,271.7L55.3,270.4L51.6,268.1L47.8,264.5L45.2,260.6L42.4,254.6L41.1,250.1L39.4,236.6L39.9,227.6L41.8,221.5L44.8,217.6L50.8,211.9L55.3,208.8ZM86.3,308.6L88.3,307.7L91.3,307.6L93.6,308.6L95.8,310.5L100.0,317.6L102.6,326.6L76.9,326.6L78.5,320.6L80.8,315.1L83.8,310.7Z" fill="#bbbbdb" fill-rule="evenodd"/><path d="M110.8,205.8L115.3,204.8L118.3,205.5L121.3,207.1L125.8,210.6L131.8,218.1L133.8,221.6L135.7,226.1L136.9,232.1L137.6,239.6L137.5,245.6L136.4,251.6L134.8,255.7L131.8,260.2L127.3,263.9L124.3,265.5L119.8,266.9L116.8,266.7L113.8,265.4L108.8,260.6L105.1,254.6L100.8,245.6L99.1,239.6L99.7,233.6L103.3,214.8L107.8,207.9ZM55.1,212.6L58.3,211.7L62.8,212.0L67.3,213.8L71.4,217.1L73.6,220.1L75.8,224.6L79.5,238.1L79.6,241.1L78.9,244.1L75.0,256.1L72.9,260.6L70.3,264.2L67.5,266.6L64.6,268.1L61.3,268.9L58.3,268.8L53.8,267.0L50.8,264.8L47.8,261.5L43.5,253.1L41.2,242.6L41.0,232.1L42.6,224.6L44.4,221.6L47.8,217.6ZM89.3,320.6L91.6,320.6L93.2,322.1L93.2,323.6L91.3,325.5L89.8,325.7L88.3,325.2L87.4,323.6L87.5,322.1Z" fill="#aaa8d0" fill-rule="evenodd"/><path d="M113.5,211.1L116.8,210.6L121.3,211.9L124.3,213.9L128.8,218.1L131.5,221.6L133.3,225.2L135.7,233.6L136.2,244.1L135.6,248.6L134.3,253.1L131.8,257.3L128.5,260.6L125.8,262.7L121.3,264.3L118.3,264.3L116.7,263.6L113.8,261.9L110.8,258.9L105.3,248.6L102.3,239.6L102.4,233.6L104.3,224.6L106.2,218.6L109.3,213.9ZM55.6,215.6L59.8,215.1L62.8,215.6L65.8,216.9L68.8,219.1L71.0,221.6L73.3,225.8L76.4,236.6L75.7,244.1L71.1,257.6L68.8,261.3L66.7,263.6L64.3,265.2L61.3,266.3L58.3,266.3L53.8,264.7L49.3,260.5L46.4,256.1L44.8,252.4L42.6,242.6L42.4,233.6L43.0,229.1L44.0,226.1L49.3,219.2Z" fill="#9a96c6" fill-rule="evenodd"/><path d="M118.3,215.6L124.3,217.5L127.3,219.9L130.1,223.1L133.5,230.6L134.7,238.1L134.6,245.6L132.5,253.1L130.3,256.4L127.3,259.4L124.3,261.4L121.3,262.2L118.3,261.7L116.5,260.6L113.2,257.6L111.0,254.6L106.7,245.6L104.9,238.1L105.0,233.6L106.0,229.1L108.6,221.6L112.3,217.3L115.3,215.9ZM51.7,220.1L56.8,218.1L61.3,218.7L64.3,219.8L67.3,221.9L71.3,227.6L73.6,235.1L73.7,239.6L72.9,244.1L69.6,254.6L65.6,260.6L62.8,262.9L59.8,264.0L56.8,263.6L53.8,262.3L49.3,257.6L46.1,251.6L43.9,242.6L43.8,233.6L45.4,227.6L49.3,222.0Z" fill="#8a86bf" fill-rule="evenodd"/><path d="M117.4,220.1L122.8,220.1L127.3,223.1L131.2,229.1L133.0,236.6L133.1,244.1L131.5,251.6L129.7,254.6L127.3,257.1L124.3,259.2L121.3,260.0L119.8,259.8L116.8,258.0L112.3,252.8L109.6,247.1L107.6,238.1L107.9,232.1L109.9,226.1L113.6,221.6ZM53.6,221.6L55.3,221.0L58.3,220.8L64.3,223.6L68.8,228.5L70.6,232.1L71.2,235.1L70.9,242.6L68.5,251.6L64.3,258.4L61.9,260.6L59.8,261.5L55.3,260.7L50.8,256.8L47.7,251.6L45.6,244.1L45.1,236.6L46.1,230.6L49.3,225.0Z" fill="#7b72b4" fill-rule="evenodd"/><path d="M53.0,224.6L56.8,223.3L61.3,224.6L66.5,229.1L68.7,233.6L69.3,239.6L67.5,248.6L64.3,254.7L61.8,257.6L59.8,258.8L58.3,259.1L55.3,258.2L52.3,255.8L49.5,251.6L47.4,245.6L46.6,238.1L47.4,232.1L49.3,228.2ZM116.3,224.6L118.3,223.6L121.3,223.1L125.2,224.6L129.1,229.1L131.2,235.1L131.6,242.6L130.3,250.1L127.3,254.6L122.8,257.5L119.8,257.2L115.3,253.5L112.3,248.6L110.4,242.6L109.8,236.6L110.4,232.1L112.9,227.6Z" fill="#6f5ba8" fill-rule="evenodd"/><path d="M55.8,226.1L59.8,226.5L64.3,229.7L66.4,233.6L67.3,239.6L66.4,245.6L64.6,250.1L61.3,254.6L58.3,256.3L55.3,255.5L51.6,251.6L49.3,246.2L48.4,241.1L48.6,235.1L49.3,232.1L52.3,228.0ZM117.0,227.6L121.3,226.3L124.3,227.2L127.6,230.6L129.3,235.1L129.8,242.6L128.8,248.6L127.3,251.6L125.9,253.1L122.8,254.9L119.8,254.4L116.8,251.8L113.9,247.1L112.5,242.6L112.0,238.1L112.7,233.6L113.9,230.6Z" fill="#63449d" fill-rule="evenodd"/><path d="M55.2,229.1L58.3,228.9L61.3,230.1L63.2,232.1L64.4,235.1L64.7,242.6L64.1,245.6L61.3,250.6L58.3,252.9L56.8,252.9L53.8,250.8L51.7,247.1L50.6,242.6L50.4,236.6L51.0,233.6L52.3,231.3ZM117.9,230.6L121.3,229.6L124.3,230.8L126.5,233.6L127.5,236.6L127.8,241.1L127.3,245.6L125.8,249.3L122.8,251.7L121.1,251.6L118.3,249.7L116.5,247.1L115.2,244.1L114.8,241.1L115.2,235.1L116.4,232.1Z" fill="#572c92" fill-rule="evenodd"/><path d="M56.3,232.1L58.3,232.0L60.6,233.6L61.5,235.1L61.9,238.1L60.5,245.6L58.3,248.1L56.8,248.4L55.3,247.3L54.2,245.6L52.6,239.6L53.2,235.1L54.1,233.6ZM119.3,235.1L121.3,233.9L122.8,234.2L124.7,236.6L125.3,239.6L125.1,242.6L124.3,245.2L122.8,246.8L121.3,246.5L120.2,245.6L118.7,242.6L118.2,238.1Z" fill="#4c1788" fill-rule="evenodd"/></g><path d="M53.0,164.1L54.6,166.1L55.1,166.7L57.1,169.2L57.2,169.3L59.2,171.8L59.7,172.5L61.8,174.4L62.3,174.9L64.9,176.6L65.8,177.0L67.4,177.9L70.0,178.2L72.6,178.0L75.2,177.5L76.9,177.0L77.7,176.8L80.3,176.2L82.9,175.6L85.4,175.0L87.7,174.4L88.0,174.3L90.6,173.8L93.2,173.7L95.7,173.9L98.3,174.3L98.7,174.4L100.9,174.8L103.4,175.5L106.0,176.4L107.3,177.0L108.6,177.5L111.2,178.7L112.7,179.5L113.7,180.0L116.3,181.5L117.4,182.1L118.9,183.0L121.4,184.5L121.6,184.7L124.0,186.3L125.1,187.2L126.6,188.6L127.8,189.8L129.2,191.2L130.2,192.4L131.7,194.3L132.3,195.0L133.8,197.5L134.3,198.5L135.1,200.1L136.3,202.7L136.9,203.9L137.6,205.2L138.7,207.8L139.4,209.6L139.8,210.4L140.7,213.0L141.6,215.5L142.0,217.5L142.2,218.1L142.5,220.7L142.6,223.2L142.7,225.8L142.8,228.4L143.0,231.0L143.1,233.5L143.3,236.1L143.4,238.7L143.6,241.2L143.7,243.8L143.7,246.4L143.6,249.0L143.4,251.5L142.9,254.1L142.3,256.7L142.0,257.9L141.6,259.2L140.8,261.8L139.5,264.4L139.4,264.6L137.9,267.0L136.9,268.1L135.4,269.5L134.3,270.5L132.2,272.1L131.7,272.5L129.2,274.5L128.9,274.7L126.6,276.3L125.3,277.2L124.0,278.2L121.4,279.8L121.4,279.8L118.9,280.2L116.3,280.4L113.7,280.5L111.2,280.5L108.6,280.3L106.0,280.1L103.4,280.0L100.9,279.9L98.3,279.8L97.3,279.8L95.7,279.8L93.2,279.7L90.6,279.6L88.0,279.3L85.4,279.0L82.9,278.6L80.3,278.3L77.7,278.1L75.2,278.0L72.6,278.1L70.0,278.4L67.4,278.9L64.9,279.4L62.6,279.8L62.3,279.9L59.7,280.4L57.2,280.5L54.6,279.9L54.3,279.8L52.0,279.4L49.7,279.8L49.4,279.9L46.9,282.4L46.9,282.4L44.6,285.0L44.3,285.3L42.9,287.5L41.7,289.4L41.4,290.1L40.0,292.7L39.2,294.2L38.6,295.2L37.3,297.8L36.6,299.3L36.1,300.4L34.8,303.0L34.0,304.6L33.5,305.5L32.3,308.1L31.4,310.0L31.1,310.7L29.9,313.2L28.9,315.5L28.7,315.8L27.6,318.4L26.5,321.0L26.3,321.7L25.5,323.5L24.9,326.1M8.3,271.5L10.9,271.6L13.4,271.6L16.0,271.6L18.6,271.5L21.2,271.5L23.7,271.5L26.3,271.4L28.9,271.3L31.4,270.7L33.8,269.5L34.0,269.4L36.0,267.0L36.6,265.5L37.2,264.4L37.6,261.8L37.5,259.2L37.3,256.7L36.9,254.1L36.6,252.1L36.5,251.5L36.0,249.0L35.6,246.4L35.2,243.8L34.9,241.2L34.6,238.7L34.5,236.1L34.3,233.5L34.1,231.0L34.0,229.1L34.0,228.4L33.8,225.8L33.8,223.2L34.0,220.9L34.0,220.7L34.6,218.1L35.7,215.5L36.6,214.5L37.8,213.0L39.2,211.7L40.5,210.4L41.7,209.2L43.2,207.8L44.3,206.7L45.3,205.2L46.9,202.8L47.0,202.7L48.6,200.1L49.4,198.5L50.1,197.5L51.6,195.0L52.0,193.8L52.8,192.4L53.3,189.8L53.0,187.2L52.0,185.3L51.7,184.7L50.1,182.1L49.4,181.5L47.8,179.5L46.9,178.7L44.9,177.0L44.3,176.5L42.0,174.4L41.7,174.1L39.6,171.8L39.2,171.1L37.8,169.2L36.8,166.7L36.7,164.1M61.2,326.1L62.2,323.5L62.3,323.2L63.1,321.0L64.2,318.4L64.9,316.8L65.3,315.8L66.5,313.2L67.4,311.3L67.8,310.7L69.2,308.1L70.0,306.7L70.6,305.5L72.2,303.0L72.6,302.4L73.5,300.4L75.1,297.8L75.2,297.7L77.5,295.2L77.7,295.1L80.3,294.3L82.9,294.0L85.4,293.9L88.0,293.8L90.6,293.7L93.2,293.6L95.7,293.5L98.3,293.5L100.9,293.7L103.4,294.7L104.0,295.2L105.7,297.8L106.0,298.5L107.1,300.4L108.2,303.0L108.6,303.9L109.5,305.5L110.9,308.1L111.2,308.5L112.2,310.7L113.4,313.2L113.7,313.9L114.6,315.8L115.7,318.4L116.3,319.8L116.8,321.0L117.8,323.5L118.8,326.1M74.2,326.1L74.8,323.5L75.2,322.3L75.6,321.0L76.4,318.4L77.3,315.8L77.7,314.9L78.5,313.2L79.8,310.7L80.3,309.9L81.6,308.1L82.9,306.6L84.2,305.5L85.4,304.7L88.0,303.7L90.6,303.4L93.2,304.0L95.7,305.4L95.8,305.5L98.3,308.1L98.3,308.1L99.9,310.7L100.9,312.5L101.2,313.2L102.2,315.8L103.1,318.4L103.4,319.3L103.9,321.0L104.6,323.5L105.2,326.1M106.0,194.7L108.6,194.0L111.2,193.8L113.7,194.0L116.3,194.7L116.8,195.0L118.9,195.8L121.3,197.5L121.4,197.6L124.0,200.0L124.1,200.1L126.6,202.5L126.7,202.7L128.7,205.2L129.2,205.9L130.3,207.8L131.7,210.3L131.8,210.4L133.2,213.0L134.3,214.7L134.7,215.5L136.1,218.1L136.9,219.7L137.3,220.7L138.2,223.2L138.7,225.8L139.1,228.4L139.4,231.0L139.4,231.9L139.6,233.5L139.8,236.1L140.0,238.7L140.0,241.2L140.0,243.8L139.9,246.4L139.6,249.0L139.4,250.0L139.2,251.5L138.5,254.1L137.4,256.7L136.9,257.8L136.1,259.2L134.5,261.8L134.3,262.2L132.2,264.4L131.7,264.8L129.2,266.7L128.8,267.0L126.6,268.4L124.6,269.5L124.0,269.9L121.4,271.3L118.9,271.9L116.3,271.7L113.7,271.2L111.2,270.1L110.3,269.5L108.6,268.3L106.9,267.0L106.0,266.0L104.4,264.4L103.4,263.2L102.3,261.8L100.9,259.7L100.5,259.2L98.8,256.7L98.3,255.6L97.3,254.1L95.8,251.5L95.7,251.3L94.0,249.0L93.2,247.7L92.3,246.4L92.2,243.8L92.6,241.2L93.1,238.7L93.2,238.3L93.4,236.1L93.5,233.5L93.8,231.0L93.7,228.4L93.3,225.8L93.3,223.2L93.4,220.7L93.5,218.1L93.7,215.5L94.2,213.0L95.1,210.4L95.7,208.7L96.0,207.8L96.7,205.2L97.7,202.7L98.3,201.5L99.1,200.1L100.9,197.9L101.2,197.5L103.4,195.9L105.3,195.0L106.0,194.7M59.7,204.9L62.3,204.8L64.9,205.2L65.0,205.2L67.4,205.7L70.0,206.4L72.6,207.6L72.9,207.8L75.2,209.8L75.8,210.4L77.7,212.3L78.4,213.0L80.3,215.3L80.5,215.5L81.8,218.1L82.6,220.7L82.9,223.2L82.9,223.2L83.1,225.8L83.6,228.4L84.3,231.0L84.9,233.5L85.4,236.1L85.4,236.6L86.0,238.7L86.7,241.2L87.1,243.8L87.1,246.4L85.6,249.0L85.4,249.2L84.4,251.5L83.7,254.1L83.0,256.7L82.9,256.9L82.1,259.2L80.9,261.8L80.3,262.7L79.2,264.4L77.7,265.9L76.7,267.0L75.2,268.1L72.8,269.5L72.6,269.6L70.0,270.8L67.4,271.8L66.7,272.1L64.9,272.7L62.3,273.3L59.7,273.6L57.2,273.2L54.9,272.1L54.6,272.0L52.0,270.4L50.9,269.5L49.4,268.4L48.1,267.0L46.9,265.6L46.0,264.4L44.4,261.8L44.3,261.6L43.1,259.2L42.0,256.7L41.7,255.9L41.1,254.1L40.4,251.5L39.8,249.0L39.4,246.4L39.2,244.9L39.0,243.8L38.7,241.2L38.5,238.7L38.3,236.1L38.3,233.5L38.4,231.0L38.6,228.4L39.0,225.8L39.2,224.9L39.5,223.2L40.5,220.7L41.7,218.8L42.3,218.1L44.3,215.8L44.5,215.5L46.9,213.1L47.0,213.0L49.4,210.5L49.5,210.4L52.0,208.0L52.3,207.8L54.6,206.2L57.2,205.3L57.8,205.2L59.7,204.9M111.2,209.0L113.7,208.1L116.3,207.9L118.9,208.4L121.4,209.7L122.5,210.4L124.0,211.4L125.6,213.0L126.6,213.8L128.0,215.5L129.2,216.7L130.3,218.1L131.7,220.0L132.1,220.7L133.5,223.2L134.3,225.2L134.6,225.8L135.4,228.4L136.0,231.0L136.4,233.5L136.7,236.1L136.9,238.4L136.9,238.7L137.0,241.2L136.9,243.8L136.9,244.5L136.7,246.4L136.3,249.0L135.7,251.5L134.7,254.1L134.3,254.9L133.3,256.7L131.7,258.8L131.4,259.2L129.2,261.2L128.5,261.8L126.6,263.3L124.4,264.4L124.0,264.6L121.4,265.4L118.9,265.7L116.3,264.9L115.2,264.4L113.7,263.6L111.6,261.8L111.2,261.3L109.5,259.2L108.6,257.8L107.8,256.7L106.4,254.1L106.0,253.2L105.2,251.5L104.0,249.0L103.4,247.6L102.8,246.4L101.8,243.8L101.0,241.2L100.9,240.1L100.6,238.7L100.7,236.1L100.9,235.2L101.1,233.5L101.6,231.0L102.1,228.4L102.6,225.8L103.1,223.2L103.4,222.0L103.8,220.7L104.5,218.1L105.5,215.5L106.0,214.6L107.1,213.0L108.6,211.0L109.3,210.4L111.2,209.0M54.6,214.5L57.2,213.6L59.7,213.4L62.3,213.7L64.9,214.6L66.6,215.5L67.4,216.0L70.0,218.1L70.0,218.1L72.1,220.7L72.6,221.4L73.6,223.2L74.7,225.8L75.2,227.1L75.6,228.4L76.4,231.0L77.1,233.5L77.7,236.1L77.7,236.1L78.0,238.7L77.8,241.2L77.7,241.6L77.3,243.8L76.5,246.4L75.6,249.0L75.2,250.3L74.8,251.5L74.0,254.1L73.1,256.7L72.6,257.7L71.9,259.2L70.3,261.8L70.0,262.1L68.0,264.4L67.4,264.8L64.9,266.5L63.6,267.0L62.3,267.4L59.7,267.7L57.2,267.2L56.6,267.0L54.6,266.2L52.0,264.5L51.8,264.4L49.4,262.1L49.2,261.8L47.4,259.2L46.9,258.5L45.9,256.7L44.7,254.1L44.3,253.1L43.7,251.5L43.0,249.0L42.5,246.4L42.1,243.8L41.8,241.2L41.7,240.7L41.6,238.7L41.6,236.1L41.6,233.5L41.7,232.5L41.9,231.0L42.3,228.4L43.2,225.8L44.3,223.6L44.5,223.2L46.5,220.7L46.9,220.3L49.0,218.1L49.4,217.7L52.0,215.9L52.8,215.5L54.6,214.5M54.6,220.5L57.2,220.0L59.7,220.4L60.5,220.7L62.3,221.4L64.9,222.9L65.3,223.2L67.4,225.2L67.9,225.8L69.6,228.4L70.0,229.1L70.8,231.0L71.6,233.5L72.0,236.1L72.0,238.7L71.8,241.2L71.4,243.8L70.8,246.4L70.1,249.0L70.0,249.2L69.2,251.5L68.0,254.1L67.4,255.0L66.4,256.7L64.9,258.7L64.4,259.2L62.3,261.2L60.9,261.8L59.7,262.2L57.2,262.0L56.6,261.8L54.6,261.0L52.4,259.2L52.0,258.9L50.2,256.7L49.4,255.7L48.5,254.1L47.2,251.5L46.9,250.7L46.3,249.0L45.6,246.4L45.1,243.8L44.8,241.2L44.6,238.7L44.7,236.1L45.0,233.5L45.5,231.0L46.5,228.4L46.9,227.7L48.1,225.8L49.4,224.0L50.2,223.2L52.0,221.8L54.2,220.7L54.6,220.5M113.7,220.1L116.3,219.0L118.9,218.7L121.4,218.9L124.0,219.7L125.3,220.7L126.6,221.5L128.2,223.2L129.2,224.3L130.1,225.8L131.4,228.4L131.7,229.1L132.4,231.0L133.0,233.5L133.4,236.1L133.6,238.7L133.7,241.2L133.6,243.8L133.3,246.4L132.8,249.0L132.0,251.5L131.7,252.1L130.6,254.1L129.2,255.9L128.4,256.7L126.6,258.3L125.2,259.2L124.0,259.9L121.4,260.6L118.9,260.1L117.4,259.2L116.3,258.4L114.6,256.7L113.7,255.7L112.5,254.1L111.2,252.0L110.9,251.5L109.6,249.0L108.7,246.4L108.6,245.9L107.9,243.8L107.3,241.2L106.9,238.7L106.7,236.1L106.9,233.5L107.4,231.0L108.1,228.4L108.6,226.9L109.1,225.8L110.5,223.2L111.2,222.3L112.9,220.7L113.7,220.1M57.2,225.8L57.4,225.8L59.7,226.3L62.3,227.7L63.1,228.4L64.9,230.2L65.4,231.0L66.6,233.5L67.0,236.1L67.4,238.7L67.3,241.2L66.9,243.8L66.3,246.4L65.3,249.0L64.9,249.9L63.9,251.5L62.3,253.8L62.0,254.1L59.7,256.0L57.2,256.4L54.6,255.2L53.4,254.1L52.0,252.5L51.4,251.5L50.2,249.0L49.4,247.1L49.2,246.4L48.7,243.8L48.4,241.2L48.3,238.7L48.4,236.1L48.8,233.5L49.4,231.6L49.8,231.0L51.7,228.4L52.0,228.0L54.6,226.3L56.9,225.8L57.2,225.8M116.3,227.8L118.9,226.4L121.4,226.1L124.0,226.8L125.9,228.4L126.6,229.0L127.9,231.0L129.1,233.5L129.2,233.9L129.6,236.1L129.9,238.7L130.0,241.2L129.9,243.8L129.5,246.4L129.2,247.8L128.8,249.0L127.5,251.5L126.6,252.6L124.8,254.1L124.0,254.6L121.4,255.1L119.0,254.1L118.9,254.0L116.3,251.5L116.3,251.5L114.6,249.0L113.7,247.1L113.4,246.4L112.6,243.8L112.1,241.2L111.9,238.7L112.1,236.1L112.5,233.5L113.5,231.0L113.7,230.6L115.7,228.4L116.3,227.8" fill="none" stroke="#555" stroke-width="0.42" stroke-opacity="0.85"/></g>
<circle cx="89.30" cy="245.10" r="72.4" fill="none" stroke="#2a2a2a" stroke-width="0.8"/>
<path d="M74.14,174.31L89.30,161.84L104.46,174.31M161.27,237.06L163.15,233.88L164.31,233.76L166.03,234.30L167.77,237.06L167.49,245.90L168.51,258.60L166.33,264.11L163.15,265.14L160.11,262.46M17.33,237.06L15.45,233.88L14.29,233.76L12.57,234.30L10.83,237.06L11.11,245.90L10.09,258.60L12.27,264.11L15.45,265.14L18.49,262.46" fill="none" stroke="#3a3a3a" stroke-width="0.7" stroke-linejoin="round"/>
<text x="69.9" y="167.0" class="el">Fp1</text>
<text x="109.9" y="167.0" class="el">Fp2</text>
<text x="89.9" y="166.0" class="el">Fpz</text>
<text x="52.9" y="176.5" class="el">AF7</text>
<text x="126.9" y="176.5" class="el">AF8</text>
<text x="69.9" y="177.5" class="el">AF3</text>
<text x="109.9" y="177.5" class="el">AF4</text>
<text x="89.9" y="177.5" class="el">AFz</text>
<text x="42.4" y="194.5" class="el">F7</text>
<text x="137.4" y="194.5" class="el">F8</text>
<text x="50.9" y="195.5" class="el">F5</text>
<text x="128.9" y="195.5" class="el">F6</text>
<text x="61.4" y="195.0" class="el">F3</text>
<text x="118.4" y="195.0" class="el">F4</text>
<text x="74.9" y="194.5" class="el">F1</text>
<text x="104.9" y="194.5" class="el">F2</text>
<text x="89.9" y="194.2" class="el">Fz</text>
<text x="36.9" y="213.5" class="el">FT7</text>
<text x="142.9" y="213.5" class="el">FT8</text>
<text x="45.9" y="213.5" class="el">FC5</text>
<text x="133.9" y="213.5" class="el">FC6</text>
<text x="57.4" y="213.0" class="el">FC3</text>
<text x="122.4" y="213.0" class="el">FC4</text>
<text x="72.9" y="212.5" class="el">FC1</text>
<text x="106.9" y="212.5" class="el">FC2</text>
<text x="89.9" y="212.0" class="el">FCz</text>
<text x="35.9" y="234.2" class="el">T7</text>
<text x="143.9" y="234.2" class="el">T8</text>
<text x="44.9" y="233.2" class="el">C5</text>
<text x="134.9" y="233.2" class="el">C6</text>
<text x="55.9" y="232.1" class="el">C3</text>
<text x="123.9" y="232.1" class="el">C4</text>
<text x="71.9" y="231.5" class="el">C1</text>
<text x="107.9" y="231.5" class="el">C2</text>
<text x="89.9" y="230.7" class="el">Cz</text>
<text x="36.9" y="253.3" class="el">TP7</text>
<text x="142.9" y="253.3" class="el">TP8</text>
<text x="45.4" y="251.2" class="el">CP5</text>
<text x="134.4" y="251.2" class="el">CP6</text>
<text x="56.9" y="250.1" class="el">CP3</text>
<text x="122.9" y="250.1" class="el">CP4</text>
<text x="72.4" y="249.6" class="el">CP1</text>
<text x="107.4" y="249.6" class="el">CP2</text>
<text x="89.9" y="249.4" class="el">CPz</text>
<text x="34.9" y="277.8" class="el">P9</text>
<text x="144.9" y="277.8" class="el">P10</text>
<text x="45.4" y="269.7" class="el">P7</text>
<text x="134.4" y="269.7" class="el">P8</text>
<text x="52.4" y="268.0" class="el">P5</text>
<text x="127.4" y="268.0" class="el">P6</text>
<text x="61.9" y="266.9" class="el">P3</text>
<text x="117.9" y="266.9" class="el">P4</text>
<text x="74.9" y="266.2" class="el">P1</text>
<text x="104.9" y="266.2" class="el">P2</text>
<text x="89.9" y="266.2" class="el">Pz</text>
<text x="56.9" y="283.2" class="el">PO7</text>
<text x="122.9" y="283.2" class="el">PO8</text>
<text x="70.4" y="279.7" class="el">PO3</text>
<text x="109.4" y="279.7" class="el">PO4</text>
<text x="89.9" y="278.9" class="el">POz</text>
<text x="72.4" y="290.9" class="el">O1</text>
<text x="107.4" y="290.9" class="el">O2</text>
<text x="89.9" y="291.4" class="el">Oz</text>
<text x="89.9" y="302.8" class="el">Iz</text>
<g clip-path="url(#cp1)"><g filter="url(#blr)"><rect x="177.6" y="162.1" width="166.0" height="166.0" fill="#fbfafc"/><path d="M178.6,163.1L342.1,163.1L342.1,225.5L334.6,225.7L327.6,227.6L323.4,230.6L321.3,233.6L321.1,235.1L322.6,238.2L327.2,241.1L333.1,242.3L342.1,242.4L342.1,326.6L178.6,326.6L178.6,258.2L184.6,259.5L190.6,258.9L194.4,257.6L196.6,256.2L197.8,254.6L197.9,253.1L195.1,250.4L190.6,248.5L184.6,247.9L178.6,248.3Z" fill="#f8f7fb" fill-rule="evenodd"/><path d="M178.6,163.1L342.1,163.1L342.1,218.9L331.6,219.8L325.6,221.1L322.6,222.4L319.6,224.8L317.6,227.6L315.9,232.1L315.4,236.6L316.6,241.7L318.1,243.5L321.1,245.4L328.6,246.7L342.1,246.6L342.1,326.6L178.6,326.6L178.6,262.8L189.1,262.6L196.6,260.9L199.6,259.4L201.7,257.6L203.4,254.6L203.4,253.1L201.1,248.0L199.6,246.4L196.6,244.7L189.1,243.6L178.6,244.2ZM244.6,167.3L240.1,168.8L238.6,170.4L237.1,173.6L237.4,175.1L238.7,176.6L243.1,178.4L250.6,179.0L261.1,177.5L271.6,178.5L277.6,178.5L282.1,177.0L283.7,175.1L283.6,172.9L282.1,169.9L279.1,167.6L276.1,166.4L271.6,166.2L261.1,167.8L249.1,166.9ZM297.1,282.9L295.6,283.3L294.1,284.5L293.8,287.6L295.6,296.4L298.6,304.3L301.6,309.4L304.6,312.8L309.1,315.4L313.6,316.1L315.3,314.6L315.3,310.1L313.6,304.1L309.8,295.1L306.1,288.8L303.1,285.4L300.1,283.3Z" fill="#f6f4f9" fill-rule="evenodd"/><path d="M178.6,163.1L209.4,163.1L212.7,167.6L216.2,170.6L230.2,178.1L241.6,181.7L255.1,183.4L259.6,186.1L262.6,186.9L268.6,184.6L277.6,184.4L283.6,185.3L286.6,184.3L293.0,179.6L301.6,169.5L308.6,163.1L342.1,163.1L342.1,183.5L340.6,179.2L336.1,174.6L327.1,168.4L324.1,168.0L321.1,169.8L318.1,172.6L313.6,178.6L310.8,185.6L310.0,193.1L310.6,197.4L312.1,201.2L317.9,208.1L318.0,209.6L317.3,214.1L313.6,222.0L312.1,228.9L310.5,245.6L311.6,250.1L313.6,251.4L316.6,252.0L342.1,254.5L342.1,326.6L327.7,326.6L327.5,322.1L326.0,317.6L310.6,283.9L307.9,280.1L306.1,278.7L297.1,275.7L288.1,277.2L285.3,278.6L284.3,280.1L284.1,281.6L289.6,286.9L297.1,307.0L301.6,317.3L306.1,323.4L311.7,326.6L178.6,326.6L178.6,265.8L192.1,265.2L201.1,263.1L204.1,261.3L206.0,259.1L207.2,256.1L207.5,253.1L206.9,247.1L205.8,242.6L204.1,239.4L202.6,238.2L198.7,236.6L197.5,235.1L193.6,234.0L187.6,233.5L178.6,233.6ZM222.1,290.1L219.1,292.5L216.1,296.4L211.7,305.6L211.1,311.6L212.7,314.6L214.6,316.1L216.1,316.4L217.6,316.0L220.6,312.8L225.1,302.2L226.3,296.6L226.4,292.1L225.1,289.9Z" fill="#f3f1f7" fill-rule="evenodd"/><path d="M178.6,163.1L191.8,163.1L187.5,167.6L187.6,168.9L193.6,170.3L198.1,172.5L204.8,178.1L209.8,184.1L212.1,188.6L213.0,191.6L213.8,197.6L214.3,211.1L214.6,213.2L216.1,215.4L219.1,211.9L220.5,208.1L221.7,202.1L222.9,190.1L224.3,185.6L226.6,182.0L229.6,181.8L235.6,182.8L252.1,186.7L254.7,188.6L259.6,193.7L262.6,195.6L265.6,195.4L268.6,193.5L271.6,190.7L274.6,189.8L279.1,189.8L286.6,191.2L298.6,187.0L300.1,187.6L301.6,189.3L304.7,196.1L306.0,208.1L309.0,217.1L309.8,221.6L309.3,236.6L307.3,253.1L307.6,261.3L308.9,265.1L308.7,268.1L306.8,269.6L304.6,270.4L295.6,272.0L286.6,272.6L280.6,273.8L277.6,273.9L269.0,271.1L265.6,267.6L262.6,265.7L261.1,266.6L256.3,277.1L254.3,283.1L254.5,286.1L253.7,290.6L254.7,293.6L258.5,301.1L255.2,311.6L254.9,314.6L255.1,316.0L256.6,317.9L258.1,317.9L259.6,315.9L260.7,311.6L261.5,302.6L268.6,290.6L270.1,287.0L274.6,285.4L279.1,285.0L282.1,285.5L285.1,286.8L288.1,290.3L291.1,296.2L302.8,326.6L216.3,326.6L219.1,323.4L223.6,313.9L227.8,302.6L230.1,293.6L230.5,289.1L229.6,285.4L227.2,283.1L223.6,281.9L220.6,283.1L216.1,288.6L208.6,303.2L204.2,314.6L203.8,317.6L204.5,320.6L207.1,323.2L212.5,326.6L178.6,326.6L178.6,268.3L198.1,267.7L204.1,266.7L208.6,264.8L210.1,265.1L211.1,263.6L211.2,262.1L210.5,254.6L210.4,241.1L210.6,239.6L214.6,233.6L216.0,227.6L216.3,221.6L216.1,216.7L214.6,216.5L211.3,218.6L208.5,221.6L202.6,223.6L193.6,224.4L178.6,223.9ZM250.6,227.6L248.2,229.1L247.8,230.6L253.6,243.0L259.8,251.6L261.1,250.7L262.5,241.1L262.2,235.1L261.1,230.9L259.6,229.2L258.1,228.5L253.6,227.5ZM329.3,163.1L342.1,163.1L342.1,175.9L337.6,171.4ZM317.1,265.1L321.1,263.9L325.6,263.8L342.1,266.5L342.1,308.4L325.6,291.3L316.6,278.7L314.3,274.1L313.4,271.1L314.1,268.1ZM329.4,326.6L342.1,313.3L342.1,326.6Z" fill="#f0eef6" fill-rule="evenodd"/><path d="M228.8,185.6L231.1,185.1L237.1,185.8L247.6,188.7L250.6,190.1L254.5,194.6L257.5,199.1L259.4,203.6L260.3,208.1L259.1,215.6L255.9,223.1L253.6,224.2L247.6,224.9L245.7,226.1L244.7,227.6L244.4,229.1L244.6,230.6L247.5,236.6L254.7,248.6L255.1,254.6L256.1,257.6L256.5,262.1L256.2,265.1L254.5,271.1L248.6,284.6L249.0,290.6L250.5,295.1L250.4,299.6L248.2,311.6L244.0,326.6L220.8,326.6L233.1,295.1L234.8,289.1L235.3,284.6L234.9,283.1L231.1,279.2L226.6,278.1L223.6,276.4L220.6,274.1L218.0,271.1L215.3,265.1L212.7,254.6L212.6,242.6L216.6,233.6L219.4,220.1L223.6,216.0L224.6,214.1L225.7,205.1L225.4,194.6L226.8,188.6ZM178.6,187.7L183.1,185.8L190.6,187.6L196.6,190.6L203.2,196.1L206.3,200.6L207.9,206.6L207.1,212.2L204.5,215.6L199.6,218.0L193.6,219.2L186.1,219.4L178.6,218.8ZM278.0,197.6L280.6,197.2L286.6,197.8L295.6,196.2L298.6,197.0L300.1,198.6L300.9,200.6L306.4,220.1L307.5,227.6L307.5,236.6L304.2,259.1L302.0,265.1L300.1,267.1L297.1,268.4L282.1,270.4L276.1,269.7L273.1,268.4L269.5,265.1L267.5,262.1L266.4,259.1L264.8,250.1L265.5,230.6L268.0,221.6L274.7,211.1L275.7,200.6L276.3,199.1ZM178.6,271.1L193.6,270.9L207.1,272.1L212.7,278.6L213.3,280.1L212.2,286.1L208.4,296.6L198.1,319.0L193.9,326.6L190.6,326.3L178.6,314.5ZM275.3,289.1L279.1,288.4L282.1,288.7L283.6,289.4L286.6,292.6L289.6,297.6L292.6,304.2L300.7,326.6L273.3,326.6L268.8,308.6L268.1,301.1L268.5,298.1L270.0,295.1L273.1,291.1Z" fill="#edebf4" fill-rule="evenodd"/><path d="M230.7,188.6L234.1,188.0L238.6,188.6L247.6,192.0L252.5,197.6L254.2,200.6L255.6,205.1L255.6,214.1L253.6,219.2L252.1,220.7L243.6,223.1L241.6,224.6L240.9,226.1L241.6,229.1L243.1,232.1L252.6,248.6L252.7,257.6L253.3,260.6L252.9,265.1L251.4,269.6L247.6,275.6L243.1,279.5L241.6,279.6L240.1,278.9L232.6,274.9L226.6,274.8L222.1,272.0L219.8,269.6L218.0,266.6L215.8,260.6L214.4,254.6L214.0,247.1L214.4,244.1L218.2,233.6L220.6,223.2L227.4,217.1L229.0,214.1L227.6,196.1L228.6,191.6L229.6,189.4ZM287.5,203.6L289.6,202.5L294.1,202.5L297.1,203.3L298.6,204.9L303.9,218.6L305.0,223.1L306.0,230.6L305.8,239.6L304.0,251.6L302.5,257.6L300.8,262.1L298.7,265.1L297.1,266.1L292.6,267.0L280.6,267.7L276.1,266.5L272.5,263.6L270.7,260.6L267.6,253.1L266.8,248.6L267.4,244.1L267.7,233.6L269.6,227.6L275.8,217.1L282.1,208.4ZM185.1,274.1L193.6,274.2L200.9,275.6L205.6,278.4L207.4,281.6L207.8,284.6L207.3,289.1L204.1,298.8L201.1,305.2L198.1,310.0L196.6,311.7L193.6,313.2L184.6,313.2L178.6,311.8L178.6,275.1ZM239.7,292.1L241.6,291.0L243.1,291.7L244.5,295.1L244.9,298.1L244.3,307.1L241.6,318.5L240.1,322.5L237.7,326.6L228.8,326.6L227.7,325.1L227.0,322.1L228.1,315.7L234.1,301.1L237.1,295.5ZM277.8,292.1L280.6,291.7L282.1,292.2L285.1,294.7L288.1,298.9L294.1,312.0L297.1,320.6L298.3,326.6L277.5,326.6L273.3,313.1L272.0,304.1L272.4,299.6L273.4,296.6L275.6,293.6Z" fill="#e8e7f2" fill-rule="evenodd"/><path d="M232.4,191.6L237.1,191.0L241.6,192.0L246.0,194.6L249.8,199.1L252.0,205.1L252.5,211.1L251.5,215.6L249.1,218.2L243.1,219.6L240.1,219.7L237.1,218.7L233.8,215.6L230.7,206.6L229.7,200.6L230.3,194.6L231.1,192.8ZM287.7,208.1L289.6,207.1L292.6,207.0L295.6,207.8L297.4,209.6L303.1,221.6L304.7,230.6L304.8,238.1L302.4,253.1L300.5,259.1L298.6,262.7L297.1,264.2L294.1,265.0L289.6,265.5L282.1,265.5L277.6,264.6L276.0,263.6L273.1,260.1L269.4,253.1L268.4,248.6L269.3,242.6L269.6,235.1L271.4,229.1L275.8,221.6L282.1,213.3ZM229.3,220.1L231.1,220.2L232.6,221.0L235.6,223.9L246.2,239.6L250.8,248.6L251.0,253.1L249.9,265.1L248.6,268.1L246.3,271.1L243.1,273.2L234.1,271.6L228.1,272.0L225.1,271.4L220.6,267.7L218.4,263.6L216.9,259.1L215.7,253.1L215.6,247.1L221.0,227.6L222.3,224.6ZM188.1,280.1L192.1,279.9L196.6,281.2L200.4,284.6L202.0,287.6L201.7,292.1L200.0,296.6L198.1,299.5L195.1,301.5L190.6,302.1L186.4,301.1L181.8,296.6L179.7,292.1L179.3,287.6L180.6,284.6L184.1,281.6ZM278.4,296.6L280.6,295.6L283.6,297.0L286.6,300.4L289.6,305.6L294.1,317.6L294.8,322.1L294.1,326.6L280.6,326.5L277.0,316.1L275.5,307.1L275.9,301.1L277.2,298.1Z" fill="#e4e3f0" fill-rule="evenodd"/><path d="M234.5,194.6L237.1,193.9L240.4,194.6L244.7,197.6L247.6,201.5L248.9,205.1L249.3,209.6L247.9,214.1L246.1,215.4L243.1,216.1L240.1,215.7L237.6,214.1L235.6,211.0L233.0,205.1L232.2,200.6L232.6,196.9ZM289.8,211.1L292.6,210.9L295.6,212.4L301.6,221.6L303.7,232.1L303.3,242.6L300.9,254.6L299.1,259.1L297.1,262.2L295.6,263.0L291.1,263.9L282.1,263.6L279.1,263.0L276.1,261.2L273.1,257.1L270.4,251.6L269.9,247.1L271.5,235.1L273.6,229.1L279.1,220.5L285.1,214.1ZM223.6,226.3L228.1,223.5L231.1,223.4L235.6,226.9L244.8,239.6L248.8,247.1L249.3,253.1L247.9,262.1L246.1,266.2L243.1,268.6L228.1,269.5L225.1,269.0L221.8,266.6L219.1,261.9L217.2,254.6L217.0,247.1L218.7,239.6L222.1,229.1ZM282.1,301.1L283.6,301.7L286.6,305.1L289.6,311.5L290.4,314.6L290.8,317.6L290.2,320.6L289.4,322.1L286.6,323.9L285.1,323.9L283.6,323.0L282.1,321.0L279.5,313.1L279.1,305.4L280.6,301.7Z" fill="#e0dfee" fill-rule="evenodd"/><path d="M237.6,199.1L240.1,199.5L241.6,200.4L244.6,204.4L245.2,208.1L244.6,210.1L243.1,211.3L241.6,211.2L240.1,210.4L236.9,206.6L235.6,202.1L235.8,200.6ZM283.6,218.5L289.6,214.7L292.6,214.5L294.1,215.0L297.1,217.7L301.1,224.6L302.5,232.1L302.4,242.6L301.0,250.1L299.2,256.1L296.6,260.6L294.1,261.9L291.1,262.4L282.1,261.8L277.6,260.1L273.3,254.6L271.9,251.6L271.3,248.6L273.3,235.1L274.9,230.6L280.7,221.6ZM227.9,226.1L231.1,226.0L235.6,229.2L244.6,241.6L247.3,247.1L247.7,253.1L246.2,260.6L244.6,263.7L241.6,265.5L229.6,267.4L225.1,267.1L222.1,264.4L219.5,259.1L217.9,250.1L219.4,241.1L223.6,229.5L225.1,227.7Z" fill="#dcdcec" fill-rule="evenodd"/><path d="M287.1,218.6L289.6,217.6L292.6,217.5L295.6,219.0L299.5,224.6L301.4,232.1L301.5,242.6L298.7,254.6L297.1,258.0L295.6,259.6L291.1,260.9L283.6,260.4L279.1,259.0L277.3,257.6L275.0,254.6L273.4,251.6L272.6,248.6L272.9,244.1L276.0,232.1L281.9,223.1ZM226.6,229.1L229.6,228.0L231.1,228.2L234.7,230.6L244.6,244.1L245.9,247.1L246.3,250.1L245.3,257.6L243.1,261.5L238.6,263.7L228.1,265.8L225.1,265.4L222.3,262.1L219.9,256.1L218.9,250.1L219.7,244.1L221.0,239.6L224.1,232.1L225.1,230.3Z" fill="#d6d6e9" fill-rule="evenodd"/><path d="M286.7,221.6L291.1,220.2L294.1,220.7L295.6,221.8L297.8,224.6L300.1,230.8L300.5,242.6L299.0,250.1L297.5,254.6L295.8,257.6L292.6,259.2L286.6,259.2L282.1,258.3L279.1,257.0L275.7,253.1L274.0,248.6L274.4,242.6L277.8,232.1L282.1,225.6ZM228.0,230.6L231.1,230.4L234.1,232.4L243.0,244.1L244.4,247.1L244.8,250.1L243.8,256.1L241.6,259.5L238.6,261.2L232.6,263.5L226.6,264.3L225.1,263.7L222.9,260.6L220.6,254.6L219.9,250.1L220.7,244.1L222.1,239.6L225.1,233.2Z" fill="#cfd0e6" fill-rule="evenodd"/><path d="M285.1,225.5L291.1,222.6L294.1,223.3L296.8,226.1L298.8,230.6L299.6,238.1L298.8,247.1L296.3,254.6L294.1,257.1L289.6,258.0L283.6,257.0L279.1,254.9L275.8,250.1L275.1,245.6L276.9,238.1L280.6,230.5ZM226.8,233.6L229.6,232.4L231.1,232.7L234.1,234.9L241.5,244.1L242.9,247.1L243.3,250.1L242.3,254.6L240.1,257.6L232.6,261.9L228.1,262.9L225.4,262.1L223.6,259.7L221.6,254.6L220.9,250.1L222.1,242.6L224.7,236.6Z" fill="#cacae3" fill-rule="evenodd"/><path d="M287.7,226.1L289.6,225.3L292.6,225.2L295.6,227.3L297.4,230.6L298.5,236.6L298.1,245.6L295.8,253.1L294.1,255.2L289.6,256.6L285.1,255.9L280.6,253.8L277.6,250.5L276.5,247.1L276.8,242.6L279.1,236.3L282.5,230.6ZM227.9,235.1L229.6,234.7L231.1,235.0L234.1,237.2L240.0,244.1L241.4,247.1L241.8,250.1L240.1,254.5L237.1,257.6L232.6,260.4L228.1,261.5L226.6,261.3L224.6,259.1L222.7,254.6L221.9,250.1L222.4,245.6L223.9,241.1L226.2,236.6Z" fill="#c3c4e0" fill-rule="evenodd"/><path d="M289.2,227.6L292.6,227.6L295.6,230.4L297.2,235.1L297.4,241.1L296.2,248.6L294.2,253.1L291.1,254.8L288.1,255.1L283.6,253.8L280.6,251.7L278.5,248.6L277.9,245.6L279.1,240.0L283.5,232.1L286.4,229.1ZM227.0,238.1L228.1,237.2L229.6,236.8L232.6,238.1L238.3,244.1L240.3,248.6L240.0,251.6L237.1,255.7L232.6,258.8L228.1,260.0L226.6,259.6L225.0,257.6L223.6,254.0L222.9,250.1L224.0,244.1Z" fill="#bebedd" fill-rule="evenodd"/><path d="M287.8,230.6L291.1,229.7L293.1,230.6L295.3,233.6L296.3,238.1L296.0,244.1L294.2,250.1L292.6,252.2L289.6,253.5L286.6,253.3L283.0,251.6L280.4,248.6L279.7,245.6L280.1,242.6L281.4,239.6L285.1,233.3ZM228.0,239.6L229.6,239.1L231.1,239.5L235.6,243.3L238.3,247.1L238.8,250.1L237.5,253.1L234.4,256.1L231.1,257.8L228.1,258.3L226.6,257.7L225.6,256.1L224.1,250.1L225.2,244.1L226.6,241.0Z" fill="#b7b7d9" fill-rule="evenodd"/><path d="M288.2,233.6L291.1,232.7L292.6,233.5L294.4,236.6L294.9,241.1L294.1,246.0L292.6,249.2L291.1,251.0L288.1,251.7L284.1,250.1L282.8,248.6L282.0,245.6L283.3,241.1ZM227.7,242.6L229.6,241.6L231.1,242.0L235.5,245.6L237.1,248.6L237.1,250.2L235.6,253.1L232.6,255.4L229.6,256.5L228.1,256.5L226.6,255.1L225.5,251.6L225.7,247.1Z" fill="#b0afd4" fill-rule="evenodd"/><path d="M290.9,238.1L292.0,239.6L292.0,242.6L289.6,248.1L287.5,248.6L285.7,247.1L285.3,245.6L285.7,244.1L289.6,238.5ZM228.1,245.6L229.6,244.7L234.1,247.1L235.1,250.1L234.5,251.6L232.6,253.4L229.6,254.2L228.1,253.9L227.6,253.1L226.9,250.1Z" fill="#aba9d0" fill-rule="evenodd"/></g><path d="M205.6,164.1L207.7,166.7L207.9,166.9L210.4,169.2L210.5,169.3L213.0,171.3L213.7,171.8L215.6,173.1L217.8,174.4L218.2,174.6L220.7,175.9L223.3,176.8L223.7,177.0L225.9,177.5L228.5,178.3L231.0,179.3L231.5,179.5L233.6,180.1L236.2,180.7L238.7,181.4L240.8,182.1L241.3,182.3L243.9,182.7L246.5,183.1L249.0,183.4L251.6,183.7L254.2,184.1L255.6,184.7L256.7,185.5L259.1,187.2L259.3,187.4L261.9,188.6L264.5,188.3L266.2,187.2L267.0,186.8L269.6,185.8L272.2,185.5L274.7,185.4L277.3,185.5L279.9,185.7L282.5,186.3L285.0,186.4L287.6,185.4L288.9,184.7L290.2,183.9L292.6,182.1L292.7,182.0L295.3,179.8L295.7,179.5L297.9,177.4L298.4,177.0L300.5,175.0L301.2,174.4L303.0,172.8L304.6,171.8L305.6,171.1L308.2,169.7L309.3,169.2L310.7,168.6L313.3,168.1L315.7,169.2L314.2,171.8L313.3,173.3L312.6,174.4L311.2,177.0L310.7,177.9L310.0,179.5L309.2,182.1L308.7,184.7L308.5,187.2L308.4,189.8L308.5,192.4L308.7,195.0L309.0,197.5L309.5,200.1L310.4,202.7L310.7,203.4L311.6,205.2L312.9,207.8L313.3,208.9L314.0,210.4L314.3,213.0L314.1,215.5L313.5,218.1L313.3,218.6L312.9,220.7L312.5,223.2L312.1,225.8L311.7,228.4L311.4,231.0L311.2,233.5L311.2,236.1L310.9,238.7L310.7,239.3L310.5,241.2L310.2,243.8L310.0,246.4L310.1,249.0L310.5,251.5L310.7,252.4L313.3,253.9L315.9,254.0L318.5,254.1L318.8,254.1L321.0,254.3L323.6,254.5L326.2,254.7L328.7,255.0L331.3,255.2L333.9,255.5L336.5,255.8L339.0,256.1L341.6,256.4M179.6,266.3L182.2,266.3L184.7,266.2L187.3,266.1L189.9,266.0L192.5,265.7L195.0,265.4L197.6,265.0L200.0,264.4L200.2,264.3L202.7,263.3L204.9,261.8L205.3,261.5L206.9,259.2L207.9,256.7L207.9,256.6L208.2,254.1L208.1,251.5L208.0,249.0L207.9,246.4L207.9,246.3L207.6,243.8L207.1,241.2L206.6,238.7L206.2,236.1L207.9,233.9L209.4,233.5L210.5,233.2L211.3,231.0L210.5,229.0L208.9,231.0L207.9,232.9L205.3,231.9L202.7,231.0L202.6,231.0L200.2,230.6L197.6,230.4L195.0,230.3L192.5,230.3L189.9,230.4L187.3,230.5L184.7,230.7L182.2,230.9L182.0,231.0L179.6,231.1M332.2,322.6L331.8,321.0L331.3,319.5L330.9,318.4L329.6,315.8L328.7,314.4L328.1,313.2L326.4,310.7L326.2,310.3L324.8,308.1L323.6,306.3L323.2,305.5L321.6,303.0L321.0,302.1L320.2,300.4L318.9,297.8L318.5,297.1L317.6,295.2L316.4,292.7L315.9,291.6L315.2,290.1L314.0,287.5L313.3,286.1L312.7,285.0L311.3,282.4L310.7,281.6L309.5,279.8L308.2,278.7L305.8,277.2L305.6,277.1L303.0,276.1L300.5,275.5L298.0,274.7L297.9,274.6L297.8,274.7L295.3,275.3L292.7,275.4L290.2,275.5L287.6,276.1L285.0,276.7L283.3,277.2L282.5,278.0L280.5,279.8L282.5,281.6L282.8,282.4L285.0,283.6L286.7,285.0L287.6,285.6L289.1,287.5L290.2,289.6L290.4,290.1L291.4,292.7L292.4,295.2L292.7,296.1L293.4,297.8L294.3,300.4L295.2,303.0L295.3,303.3L296.2,305.5L297.2,308.1L297.9,310.1L298.2,310.7L299.4,313.2L300.3,315.8L300.5,316.3L301.7,318.4L302.9,321.0L303.0,321.3L304.7,323.5L305.6,324.9L307.1,326.1M264.5,276.8L263.5,277.2L261.9,278.6L261.3,279.8L260.4,282.4L259.3,284.9L259.3,285.0L259.0,287.5L259.1,290.1L259.3,290.5L261.9,291.6L263.1,290.1L264.5,287.7L264.5,287.5L264.9,285.0L267.0,282.8L269.0,282.4L269.6,282.0L272.2,280.3L273.0,279.8L272.2,279.3L269.6,277.5L269.2,277.2L267.0,276.7L264.5,276.8M220.7,289.4L220.1,290.1L218.2,292.0L217.7,292.7L215.8,295.2L215.6,295.5L214.3,297.8L213.0,300.1L212.9,300.4L211.8,303.0L210.7,305.5L210.5,306.2L209.9,308.1L209.5,310.7L209.6,313.2L210.5,315.4L210.8,315.8L213.0,317.8L214.3,318.4L215.6,318.8L216.5,318.4L218.2,317.7L219.5,315.8L220.7,314.4L221.2,313.2L222.5,310.7L223.3,309.1L223.7,308.1L224.5,305.5L225.5,303.0L225.9,301.7L226.2,300.4L226.8,297.8L227.1,295.2L227.3,292.7L226.8,290.1L225.9,288.4L223.3,288.2L220.7,289.4M179.6,276.9L182.2,276.2L184.7,275.7L187.3,275.4L189.9,275.4L192.5,275.5L195.0,275.8L197.6,276.2L200.2,277.0L200.8,277.2L202.7,278.6L204.2,279.8L205.3,281.4L205.8,282.4L206.2,285.0L206.1,287.5L205.8,290.1L205.3,292.0L205.1,292.7L204.2,295.2L203.3,297.8L202.7,299.1L202.1,300.4L200.8,303.0L200.2,304.2L199.1,305.5L197.6,307.7L197.0,308.1L195.0,309.5L192.5,310.0L189.9,310.0L187.3,309.9L184.7,309.7L182.2,309.2L179.8,308.1L179.6,308.0M278.3,326.1L277.3,323.5L277.3,323.4L276.4,321.0L275.7,318.4L274.9,315.8L274.7,315.0L274.3,313.2L273.7,310.7L273.3,308.1L273.1,305.5L273.1,303.0L273.4,300.4L274.2,297.8L274.7,296.8L275.8,295.2L277.3,293.9L279.9,292.8L282.5,293.6L284.4,295.2L285.0,295.8L286.5,297.8L287.6,299.3L288.2,300.4L289.6,303.0L290.2,304.0L290.8,305.5L292.0,308.1L292.7,309.9L293.0,310.7L294.0,313.2L294.9,315.8L295.3,316.9L295.8,318.4L296.4,321.0L297.0,323.5L297.2,326.1M231.0,189.6L233.6,189.0L236.2,189.1L238.7,189.4L240.0,189.8L241.3,190.2L243.9,191.3L246.4,192.4L246.5,192.5L249.0,194.6L249.3,195.0L251.3,197.5L251.6,198.0L252.8,200.1L253.8,202.7L254.2,204.3L254.4,205.2L254.7,207.8L254.8,210.4L254.7,213.0L254.2,215.3L254.1,215.5L252.9,218.1L251.6,219.6L249.0,220.6L248.7,220.7L246.5,221.0L243.9,221.8L241.3,222.8L239.9,223.2L239.4,225.8L240.5,228.4L241.3,229.8L241.9,231.0L243.3,233.5L243.9,234.3L245.0,236.1L246.5,238.5L246.6,238.7L248.2,241.2L249.0,242.7L249.7,243.8L251.1,246.4L251.6,247.8L252.1,249.0L252.3,251.5L252.2,254.1L252.0,256.7L252.1,259.2L252.4,261.8L252.2,264.4L251.6,266.1L251.3,267.0L250.3,269.5L249.0,271.5L248.6,272.1L246.6,274.7L246.5,274.8L243.9,276.8L241.3,276.9L238.7,275.9L236.2,274.8L235.9,274.7L233.6,274.0L231.0,273.7L228.5,274.0L225.9,273.6L223.4,272.1L223.3,272.0L220.7,269.8L220.5,269.5L218.8,267.0L218.2,265.7L217.6,264.4L216.6,261.8L215.9,259.2L215.6,257.8L215.3,256.7L214.8,254.1L214.6,251.5L214.5,249.0L214.6,246.4L215.1,243.8L215.6,242.6L216.0,241.2L216.8,238.7L217.8,236.1L218.2,235.0L218.6,233.5L219.2,231.0L219.8,228.4L220.4,225.8L220.7,224.6L221.5,223.2L223.3,221.5L224.6,220.7L225.9,219.7L227.9,218.1L228.5,217.4L230.4,215.5L230.2,213.0L229.8,210.4L229.3,207.8L228.9,205.2L228.5,202.7L228.5,202.2L228.3,200.1L228.2,197.5L228.5,195.3L228.5,195.0L229.2,192.4L230.8,189.8L231.0,189.6M287.6,205.1L290.2,203.8L292.7,203.9L295.3,204.3L296.8,205.2L297.9,206.0L298.8,207.8L299.8,210.4L300.5,211.8L300.9,213.0L301.9,215.5L303.0,217.8L303.2,218.1L304.0,220.7L304.6,223.2L305.0,225.8L305.4,228.4L305.6,231.0L305.6,231.6L305.7,233.5L305.7,236.1L305.6,237.1L305.5,238.7L305.3,241.2L304.9,243.8L304.6,246.4L304.1,249.0L303.7,251.5L303.0,254.0L303.0,254.1L302.4,256.7L301.6,259.2L300.5,261.4L300.3,261.8L298.6,264.4L297.9,265.1L295.3,266.0L292.7,266.4L290.2,266.7L287.6,266.9L285.7,267.0L285.0,267.0L282.5,267.0L281.6,267.0L279.9,266.8L277.3,266.2L274.7,264.5L274.6,264.4L272.4,261.8L272.2,261.4L270.9,259.2L269.8,256.7L269.6,256.2L268.6,254.1L267.6,251.5L267.3,249.0L267.7,246.4L267.9,243.8L268.0,241.2L268.0,238.7L268.1,236.1L268.4,233.5L269.0,231.0L269.6,229.5L270.1,228.4L271.4,225.8L272.2,224.4L272.9,223.2L274.5,220.7L274.7,220.3L276.1,218.1L277.3,216.4L278.0,215.5L279.9,213.0L279.9,212.9L281.9,210.4L282.5,209.7L284.3,207.8L285.0,207.1L287.4,205.2L287.6,205.1M241.3,295.0L241.5,295.2L242.5,297.8L242.9,300.4L243.0,303.0L242.7,305.5L242.4,308.1L241.9,310.7L241.3,313.2L241.3,313.3L240.3,315.8L239.3,318.4L238.7,319.7L237.6,321.0L236.2,322.6L233.6,323.0L231.0,321.6L230.6,321.0L230.0,318.4L230.1,315.8L230.5,313.2L231.0,311.1L231.2,310.7L232.4,308.1L233.3,305.5L233.6,304.8L234.7,303.0L235.9,300.4L236.2,299.8L237.7,297.8L238.7,296.3L240.9,295.2L241.3,295.0M238.7,204.6L241.3,204.7L241.6,205.2L241.3,207.0L238.7,205.3L238.7,205.2L238.7,204.6M287.6,216.7L290.2,215.8L292.7,215.8L295.3,217.1L296.2,218.1L297.9,220.0L298.3,220.7L299.8,223.2L300.5,224.6L300.9,225.8L301.5,228.4L301.9,231.0L302.1,233.5L302.2,236.1L302.2,238.7L302.1,241.2L301.8,243.8L301.4,246.4L300.9,249.0L300.5,250.7L300.2,251.5L299.5,254.1L298.5,256.7L297.9,257.9L296.9,259.2L295.3,260.8L292.7,261.5L290.2,261.7L287.6,261.6L285.0,261.5L282.5,261.1L279.9,260.5L277.8,259.2L277.3,258.9L275.4,256.7L274.7,255.8L273.7,254.1L272.5,251.5L272.2,250.2L271.9,249.0L271.9,246.4L272.2,244.6L272.3,243.8L272.9,241.2L273.4,238.7L273.8,236.1L274.4,233.5L274.7,232.8L275.5,231.0L276.9,228.4L277.3,227.8L278.6,225.8L279.9,223.9L280.4,223.2L282.5,220.8L282.6,220.7L285.0,218.4L285.6,218.1L287.6,216.7M225.9,228.2L228.5,226.9L231.0,226.9L233.6,228.3L233.7,228.4L236.2,230.8L236.3,231.0L238.0,233.5L238.7,234.7L239.7,236.1L241.3,238.1L241.7,238.7L243.7,241.2L243.9,241.5L245.3,243.8L246.5,246.4L246.5,246.4L247.1,249.0L247.2,251.5L247.0,254.1L246.6,256.7L246.5,257.1L245.8,259.2L244.6,261.8L243.9,262.8L241.3,264.3L241.2,264.4L238.7,265.1L236.2,265.5L233.6,265.9L231.0,266.4L228.5,266.7L225.9,266.6L223.3,264.9L222.9,264.4L221.2,261.8L220.7,260.7L220.2,259.2L219.3,256.7L218.8,254.1L218.4,251.5L218.4,249.0L218.7,246.4L219.2,243.8L219.8,241.2L220.7,238.7L220.7,238.5L221.7,236.1L222.7,233.5L223.3,231.7L223.7,231.0L225.7,228.4L225.9,228.2M287.6,225.1L290.2,224.0L292.7,224.0L295.3,225.6L295.4,225.8L297.1,228.4L297.9,230.0L298.2,231.0L298.7,233.5L298.9,236.1L299.0,238.7L299.0,241.2L298.7,243.8L298.4,246.4L297.9,248.7L297.8,249.0L296.9,251.5L295.8,254.1L295.3,255.0L292.9,256.7L292.7,256.7L290.2,257.2L287.6,257.1L285.5,256.7L285.0,256.6L282.5,255.7L279.9,254.3L279.7,254.1L277.4,251.5L277.3,251.4L276.3,249.0L275.8,246.4L276.0,243.8L276.6,241.2L277.3,238.7L277.3,238.7L278.6,236.1L279.8,233.5L279.9,233.4L281.4,231.0L282.5,229.5L283.5,228.4L285.0,226.9L286.5,225.8L287.6,225.1M225.9,235.9L228.5,233.8L231.0,233.9L233.6,235.6L234.0,236.1L236.2,238.5L236.3,238.7L238.6,241.2L238.7,241.4L240.5,243.8L241.3,245.4L241.8,246.4L242.5,249.0L242.3,251.5L241.3,254.1L241.3,254.1L239.4,256.7L238.7,257.3L236.2,259.1L236.0,259.2L233.6,260.7L231.0,261.7L230.4,261.8L228.5,262.1L226.6,261.8L225.9,261.7L224.1,259.2L223.3,257.7L222.9,256.7L222.1,254.1L221.6,251.5L221.5,249.0L221.8,246.4L222.4,243.8L223.3,241.2L223.3,241.1L224.4,238.7L225.8,236.1L225.9,235.9M287.6,232.8L290.2,231.5L292.7,232.3L293.6,233.5L294.9,236.1L295.3,237.6L295.4,238.7L295.5,241.2L295.3,243.0L295.2,243.8L294.4,246.4L293.4,249.0L292.7,250.3L291.4,251.5L290.2,252.1L287.6,252.3L285.0,251.6L284.9,251.5L282.5,249.4L282.1,249.0L281.2,246.4L281.3,243.8L282.2,241.2L282.5,240.7L283.9,238.7L285.0,236.6L285.3,236.1L286.9,233.5L287.6,232.8M228.5,240.9L231.0,241.0L231.3,241.2L233.6,243.0L234.4,243.8L236.2,245.5L236.8,246.4L237.7,249.0L237.3,251.5L236.2,253.2L235.3,254.1L233.6,255.5L231.2,256.7L231.0,256.8L228.5,257.2L227.7,256.7L225.9,254.7L225.7,254.1L225.1,251.5L225.0,249.0L225.4,246.4L225.9,244.8L226.4,243.8L228.2,241.2L228.5,240.9" fill="none" stroke="#555" stroke-width="0.42" stroke-opacity="0.85"/></g>
<circle cx="260.60" cy="245.10" r="72.4" fill="none" stroke="#2a2a2a" stroke-width="0.8"/>
<path d="M245.44,174.31L260.60,161.84L275.76,174.31M332.57,237.06L334.45,233.88L335.61,233.76L337.33,234.30L339.07,237.06L338.79,245.90L339.81,258.60L337.63,264.11L334.45,265.14L331.41,262.46M188.63,237.06L186.75,233.88L185.59,233.76L183.87,234.30L182.13,237.06L182.41,245.90L181.39,258.60L183.57,264.11L186.75,265.14L189.79,262.46" fill="none" stroke="#3a3a3a" stroke-width="0.7" stroke-linejoin="round"/>
<text x="241.2" y="167.0" class="el">Fp1</text>
<text x="281.2" y="167.0" class="el">Fp2</text>
<text x="261.2" y="166.0" class="el">Fpz</text>
<text x="224.2" y="176.5" class="el">AF7</text>
<text x="298.2" y="176.5" class="el">AF8</text>
<text x="241.2" y="177.5" class="el">AF3</text>
<text x="281.2" y="177.5" class="el">AF4</text>
<text x="261.2" y="177.5" class="el">AFz</text>
<text x="213.7" y="194.5" class="el">F7</text>
<text x="308.7" y="194.5" class="el">F8</text>
<text x="222.2" y="195.5" class="el">F5</text>
<text x="300.2" y="195.5" class="el">F6</text>
<text x="232.7" y="195.0" class="el">F3</text>
<text x="289.7" y="195.0" class="el">F4</text>
<text x="246.2" y="194.5" class="el">F1</text>
<text x="276.2" y="194.5" class="el">F2</text>
<text x="261.2" y="194.2" class="el">Fz</text>
<text x="208.2" y="213.5" class="el">FT7</text>
<text x="314.2" y="213.5" class="el">FT8</text>
<text x="217.2" y="213.5" class="el">FC5</text>
<text x="305.2" y="213.5" class="el">FC6</text>
<text x="228.7" y="213.0" class="el">FC3</text>
<text x="293.7" y="213.0" class="el">FC4</text>
<text x="244.2" y="212.5" class="el">FC1</text>
<text x="278.2" y="212.5" class="el">FC2</text>
<text x="261.2" y="212.0" class="el">FCz</text>
<text x="207.2" y="234.2" class="el">T7</text>
<text x="315.2" y="234.2" class="el">T8</text>
<text x="216.2" y="233.2" class="el">C5</text>
<text x="306.2" y="233.2" class="el">C6</text>
<text x="227.2" y="232.1" class="el">C3</text>
<text x="295.2" y="232.1" class="el">C4</text>
<text x="243.2" y="231.5" class="el">C1</text>
<text x="279.2" y="231.5" class="el">C2</text>
<text x="261.2" y="230.7" class="el">Cz</text>
<text x="208.2" y="253.3" class="el">TP7</text>
<text x="314.2" y="253.3" class="el">TP8</text>
<text x="216.7" y="251.2" class="el">CP5</text>
<text x="305.7" y="251.2" class="el">CP6</text>
<text x="228.2" y="250.1" class="el">CP3</text>
<text x="294.2" y="250.1" class="el">CP4</text>
<text x="243.7" y="249.6" class="el">CP1</text>
<text x="278.7" y="249.6" class="el">CP2</text>
<text x="261.2" y="249.4" class="el">CPz</text>
<text x="206.2" y="277.8" class="el">P9</text>
<text x="316.2" y="277.8" class="el">P10</text>
<text x="216.7" y="269.7" class="el">P7</text>
<text x="305.7" y="269.7" class="el">P8</text>
<text x="223.7" y="268.0" class="el">P5</text>
<text x="298.7" y="268.0" class="el">P6</text>
<text x="233.2" y="266.9" class="el">P3</text>
<text x="289.2" y="266.9" class="el">P4</text>
<text x="246.2" y="266.2" class="el">P1</text>
<text x="276.2" y="266.2" class="el">P2</text>
<text x="261.2" y="266.2" class="el">Pz</text>
<text x="228.2" y="283.2" class="el">PO7</text>
<text x="294.2" y="283.2" class="el">PO8</text>
<text x="241.7" y="279.7" class="el">PO3</text>
<text x="280.7" y="279.7" class="el">PO4</text>
<text x="261.2" y="278.9" class="el">POz</text>
<text x="243.7" y="290.9" class="el">O1</text>
<text x="278.7" y="290.9" class="el">O2</text>
<text x="261.2" y="291.4" class="el">Oz</text>
<text x="261.2" y="302.8" class="el">Iz</text>
<g clip-path="url(#cp2)"><g filter="url(#blr)"><rect x="349.3" y="162.1" width="166.0" height="166.0" fill="#faf9fc"/><path d="M350.3,163.1L513.8,163.1L513.8,326.6L407.5,326.6L411.8,320.4L413.3,316.9L415.6,308.6L416.3,302.8L416.0,299.6L414.8,297.3L413.3,296.6L410.3,297.4L405.8,299.7L402.8,302.3L400.4,305.6L396.4,314.6L393.6,326.6L350.3,326.6L350.3,258.7L357.8,260.0L366.3,259.1L370.6,257.6L372.8,256.1L373.9,254.6L374.0,253.1L371.3,249.8L366.8,247.8L359.3,246.8L350.3,247.0ZM383.3,221.5L382.7,224.6L382.8,227.6L383.3,229.7L384.8,230.9L386.3,230.3L387.0,229.1L387.4,224.6L386.3,221.7L384.8,221.0ZM395.3,272.0L394.0,272.6L395.3,274.6L396.4,274.1ZM492.8,181.0L488.3,184.5L485.3,188.6L483.8,191.6L483.0,194.6L484.0,197.6L485.3,198.1L486.8,197.8L491.3,195.4L497.8,190.1L501.5,185.6L501.8,184.1L501.4,182.6L499.7,181.1L495.8,180.3Z" fill="#faf8fb" fill-rule="evenodd"/><path d="M350.3,163.1L363.7,163.1L350.3,176.5L350.3,175.1ZM453.9,170.6L456.8,163.1L513.8,163.1L513.8,326.6L412.9,326.6L418.7,308.6L421.5,295.1L422.3,294.4L432.8,293.1L444.8,292.7L447.8,293.2L453.8,298.8L464.3,306.3L467.3,307.9L468.8,307.0L469.4,302.6L469.2,295.1L468.7,287.6L467.5,281.6L472.2,265.1L479.3,253.1L479.3,250.5L477.8,249.7L474.8,254.0L472.1,260.6L470.3,263.4L467.3,263.7L459.8,266.7L449.3,265.7L446.3,266.0L437.9,272.6L432.0,278.6L423.8,288.3L419.3,290.2L413.3,290.3L407.3,289.1L404.3,287.7L402.8,286.3L401.0,283.1L399.6,274.1L397.2,269.6L395.3,268.1L392.3,266.8L387.8,267.1L387.3,269.6L388.3,274.1L392.6,281.6L390.3,287.6L384.6,299.6L381.9,307.1L380.5,317.6L380.0,326.6L350.3,326.6L350.3,263.8L360.8,263.6L371.3,262.2L376.4,260.6L380.5,257.6L381.0,256.1L380.7,250.1L379.2,239.6L380.3,237.6L386.3,236.0L387.8,234.7L389.5,232.1L390.8,224.6L390.2,211.1L390.5,205.1L391.9,202.1L395.3,198.6L407.3,197.1L411.8,197.0L416.3,197.3L419.7,199.1L424.9,205.1L429.1,212.6L430.1,230.6L432.8,233.6L435.8,234.1L437.3,233.4L438.2,232.1L438.4,230.6L437.0,226.1L436.4,214.1L438.3,208.1L437.6,203.6L438.9,199.1L440.3,197.5L443.3,196.7L446.3,197.6L449.3,197.7L453.8,199.4L456.8,199.5L460.6,197.6L462.8,193.4L463.0,190.1L462.1,187.1L460.2,184.1L454.7,178.1L454.1,176.6L453.6,173.6ZM494.3,174.9L491.3,176.9L486.8,181.5L481.5,190.1L475.5,208.1L475.7,212.6L476.3,214.1L477.8,215.4L479.3,215.1L480.8,213.5L483.5,205.1L501.0,190.1L505.5,185.6L507.6,182.6L507.8,181.1L507.2,179.6L503.3,176.4L498.8,174.5L497.3,174.3ZM350.3,187.1L353.3,184.6L354.8,184.5L357.8,185.2L363.8,187.8L376.8,196.1L380.3,200.6L381.0,203.6L380.7,206.6L378.6,211.1L375.6,214.1L367.2,220.1L364.8,223.1L364.7,224.6L366.8,227.6L375.9,235.1L377.0,238.1L375.5,239.6L365.3,241.3L350.3,241.9Z" fill="#f8f7fb" fill-rule="evenodd"/><path d="M350.3,163.1L362.9,163.1L350.3,175.7L350.3,175.1ZM460.4,170.6L464.5,163.1L513.8,163.1L513.8,176.5L506.3,168.9L503.3,166.5L498.8,166.9L495.8,168.2L488.3,175.6L482.6,182.6L479.1,188.6L478.0,191.6L477.2,197.6L474.1,205.1L473.5,209.6L474.2,214.1L476.3,217.5L477.8,218.7L479.3,218.4L482.1,215.6L484.5,209.6L487.9,205.1L513.8,180.7L513.8,326.6L493.9,326.6L488.1,310.1L484.4,301.1L474.7,281.6L472.3,278.6L472.0,275.6L474.4,268.1L481.3,256.1L482.5,253.1L482.6,247.1L482.2,245.6L480.8,243.6L479.3,243.8L477.8,245.2L468.8,258.9L462.8,261.7L456.8,263.2L450.8,262.3L444.8,260.4L442.8,260.6L439.6,265.1L435.4,269.6L432.8,271.8L428.1,274.1L426.8,275.4L426.7,278.6L424.7,281.6L419.3,285.5L414.8,287.1L410.3,285.9L405.6,283.1L404.7,281.6L403.6,277.1L399.6,269.6L393.8,264.7L389.3,262.4L386.9,259.1L384.9,254.6L383.8,247.1L383.8,242.6L384.7,241.1L387.8,238.7L391.4,233.6L395.3,221.6L395.5,214.1L396.1,211.1L398.3,206.8L401.3,205.3L410.3,203.7L413.3,204.0L416.3,205.2L420.1,209.6L422.4,214.1L423.0,218.6L422.6,226.1L423.3,229.1L424.3,230.6L429.8,236.6L432.8,239.1L435.8,239.9L437.3,239.6L440.3,237.4L442.0,235.1L443.1,232.1L441.6,220.1L442.0,215.6L443.9,211.1L446.8,206.6L449.3,203.8L450.8,203.3L455.3,203.3L458.9,202.1L462.8,199.8L464.6,196.1L465.5,191.6L465.6,187.1L464.3,183.5L460.6,178.1L459.8,173.6ZM350.3,266.9L375.8,266.0L378.8,266.1L380.0,266.6L382.2,269.6L387.1,280.1L386.6,284.6L385.2,289.1L374.3,314.6L370.5,326.6L350.3,326.6ZM428.3,298.1L440.3,297.2L442.6,298.1L444.4,299.6L447.4,304.1L456.5,326.6L415.4,326.6L423.8,303.5L426.0,299.6Z" fill="#f8f6fa" fill-rule="evenodd"/><path d="M465.7,170.6L469.8,163.1L492.2,163.1L492.3,164.6L491.0,167.6L478.7,182.6L475.8,187.1L475.4,196.1L472.4,203.6L471.8,209.6L472.6,214.1L476.3,220.4L477.8,221.7L479.3,221.6L481.1,220.1L483.4,217.1L488.4,208.1L497.3,198.6L506.3,191.7L510.8,189.7L513.8,189.4L513.8,314.3L504.8,322.3L500.8,307.1L497.3,299.4L494.3,295.1L486.8,288.0L480.4,280.1L476.5,277.1L475.7,275.6L475.5,272.6L476.4,269.6L483.2,257.6L485.0,253.1L485.4,248.6L484.9,244.1L483.8,240.6L482.3,239.1L480.8,239.1L479.3,240.0L468.8,255.3L467.3,256.6L462.8,258.8L456.8,260.1L453.8,260.1L449.3,258.8L441.8,255.5L438.8,255.0L436.0,262.1L433.9,265.1L430.4,268.1L424.2,271.1L422.7,272.6L422.5,278.6L421.8,280.1L417.9,283.1L414.8,284.0L411.8,283.6L408.6,281.6L404.3,272.6L400.6,268.1L389.8,259.1L386.9,253.1L386.0,247.1L386.3,245.2L390.8,237.3L393.6,233.6L397.3,226.1L400.2,215.6L402.8,211.9L407.3,210.1L411.8,210.7L414.6,212.6L415.8,215.6L416.5,223.1L419.1,229.1L431.3,242.3L434.3,244.5L435.8,244.8L438.8,244.4L440.3,243.1L443.3,238.7L445.4,233.6L445.8,229.1L445.0,220.1L445.8,215.6L447.1,212.6L449.3,209.1L450.8,207.8L464.3,202.1L466.8,197.6L467.6,191.6L467.8,184.1L464.7,175.1ZM350.3,269.6L365.3,269.4L375.8,270.9L379.1,272.6L382.8,280.1L382.4,286.1L380.8,292.1L377.3,301.1L372.8,310.5L369.8,315.9L366.8,320.0L360.8,323.6L357.8,321.5L350.3,314.3ZM429.7,302.6L431.3,301.8L435.8,301.2L438.8,302.1L441.8,304.4L443.8,307.1L446.3,312.3L450.4,326.6L417.7,326.6L423.8,310.7L426.8,305.6Z" fill="#f6f5f9" fill-rule="evenodd"/><path d="M475.3,164.6L477.8,163.5L479.3,163.4L482.3,164.5L484.0,166.1L484.4,169.1L483.0,172.1L479.3,176.2L476.3,178.6L473.3,179.9L471.8,179.6L470.7,178.1L470.1,173.6L471.8,168.8ZM470.9,187.1L471.8,186.1L472.2,191.6L471.8,195.0L470.3,190.1ZM506.0,196.1L509.3,195.3L513.8,195.3L513.8,287.6L506.3,285.2L482.3,276.1L479.9,274.1L479.4,272.6L479.5,271.1L480.8,268.4L485.3,262.9L488.6,250.1L488.7,247.1L487.9,242.6L484.3,233.6L483.2,229.1L483.3,226.1L485.0,220.1L488.1,212.6L492.8,206.0L500.3,199.2ZM464.8,205.1L468.8,201.5L469.7,202.1L470.4,211.1L472.0,215.6L477.8,225.0L480.8,225.1L481.5,226.1L480.3,233.6L475.0,244.1L467.3,254.0L461.3,256.9L456.8,257.4L452.3,257.1L446.9,254.6L442.2,251.6L440.9,250.1L440.8,248.6L444.8,241.1L447.4,233.6L448.4,217.1L450.4,212.6L452.3,210.7L458.3,207.2ZM402.5,223.1L404.3,222.0L407.3,222.9L420.8,234.2L428.4,242.6L431.4,247.1L432.7,250.1L432.9,256.1L431.1,260.6L427.0,265.1L419.8,269.6L418.4,272.6L416.9,278.6L414.8,279.9L413.3,279.9L411.8,279.0L406.1,271.1L395.3,262.1L390.3,256.1L388.4,251.6L388.4,247.1L391.2,239.6L395.8,233.6ZM350.3,272.9L362.3,272.3L369.8,273.4L374.9,275.6L376.6,277.1L378.3,280.1L378.8,283.1L378.5,287.6L375.8,297.1L372.8,303.6L369.8,308.5L368.3,310.1L365.3,312.0L356.3,313.0L350.3,312.0ZM431.2,307.1L434.3,306.4L435.8,306.6L438.8,308.4L440.3,309.9L444.4,317.6L446.9,326.6L420.8,326.6L422.5,320.6L425.3,314.1L428.3,309.5Z" fill="#f5f4f9" fill-rule="evenodd"/><path d="M506.7,200.6L513.8,200.4L513.8,272.0L507.8,272.9L501.8,272.9L494.3,271.5L492.0,269.6L490.7,266.6L490.3,262.1L490.9,254.6L492.7,250.1L493.3,245.6L492.4,241.1L487.8,230.6L487.3,224.6L488.9,217.1L490.1,214.1L492.8,210.1L498.8,204.2L503.3,201.6ZM462.6,208.1L467.6,208.1L469.8,214.1L473.8,220.1L477.2,227.6L478.0,230.6L477.6,235.1L476.0,239.6L473.6,244.1L467.3,251.7L464.3,253.6L461.3,254.7L456.8,255.0L452.3,254.3L447.3,251.6L445.7,250.1L445.1,248.6L445.3,245.6L449.3,232.8L450.7,218.6L452.3,214.1L453.8,212.2L458.3,209.3ZM402.9,229.1L405.8,228.0L408.8,228.5L416.8,233.6L424.1,241.1L429.1,248.6L429.5,250.1L427.4,256.1L424.8,260.6L420.1,265.1L414.8,269.1L411.8,270.5L410.3,270.4L407.3,269.0L396.8,262.2L392.1,256.1L390.0,251.6L390.2,247.1L392.7,239.6ZM355.0,277.1L360.8,276.3L366.9,277.1L369.8,278.7L372.7,283.1L373.9,287.6L372.8,293.6L369.8,299.1L366.8,301.5L362.3,302.8L357.8,302.6L353.3,299.9L350.3,296.4L350.3,280.7L352.3,278.6ZM435.2,314.6L437.3,315.0L440.3,319.1L441.6,323.6L441.8,326.6L427.9,326.6L427.4,323.6L428.6,319.1L431.3,316.2Z" fill="#f4f3f8" fill-rule="evenodd"/><path d="M508.5,205.1L513.8,205.6L513.8,265.5L506.3,266.2L501.8,265.5L498.8,263.8L497.3,262.0L496.1,259.1L495.3,256.1L495.8,253.4L500.9,247.1L502.1,244.1L502.1,242.6L500.4,239.6L495.9,235.1L492.6,229.1L491.5,226.1L491.3,223.1L493.0,215.6L495.8,211.4L501.8,207.0ZM459.1,211.1L461.3,210.4L464.3,210.5L465.8,210.9L467.3,212.4L473.5,221.6L475.8,227.6L476.8,232.1L474.6,239.6L469.9,247.1L467.3,249.7L464.3,251.6L461.3,252.6L458.3,252.8L453.8,252.0L450.2,250.1L448.8,248.6L448.2,245.6L453.4,217.1L455.3,213.7ZM404.6,232.1L407.3,231.7L410.3,232.3L416.3,235.3L423.0,242.6L427.1,248.6L427.4,250.1L426.4,253.1L421.0,260.6L416.3,264.8L411.8,266.5L407.3,266.4L402.8,264.6L398.3,262.0L393.5,256.1L391.4,251.6L391.5,247.1L393.8,240.4L399.8,234.6Z" fill="#f3f2f8" fill-rule="evenodd"/><path d="M503.3,211.1L509.3,210.2L513.8,211.5L513.8,222.6L509.3,225.6L506.3,226.5L503.3,226.4L500.3,225.4L498.8,224.4L497.5,221.6L497.8,215.6L498.5,214.1ZM462.3,212.6L465.8,213.7L472.4,221.6L475.3,229.1L475.7,233.6L472.4,241.1L468.2,247.1L465.8,249.1L462.8,250.2L458.3,250.6L453.8,249.1L451.7,247.1L450.9,244.1L451.0,241.1L452.1,232.1L455.1,218.6L456.7,215.6L458.2,214.1ZM402.8,235.1L405.8,234.2L408.8,234.2L414.8,236.0L420.2,241.1L423.7,245.6L425.2,248.6L425.2,251.6L422.3,256.3L417.8,261.4L413.3,264.0L408.8,264.7L401.3,262.5L397.0,259.1L393.1,253.1L392.5,248.6L394.1,242.6L395.3,240.8L398.3,237.9ZM506.0,251.6L510.8,250.7L513.8,251.0L513.8,258.4L512.3,259.2L509.3,259.5L506.3,258.9L503.9,257.6L502.8,256.1L502.6,254.6L503.5,253.1Z" fill="#f2f0f7" fill-rule="evenodd"/><path d="M460.9,215.6L462.8,215.3L465.8,215.8L470.2,220.1L473.3,225.5L474.9,232.1L474.3,235.1L473.0,238.1L467.3,246.6L465.8,247.7L459.8,248.2L456.3,247.1L453.9,244.1L453.2,232.1L456.8,220.1L458.3,217.6ZM403.8,236.6L408.8,235.9L414.8,237.7L418.7,241.1L423.0,247.1L423.7,250.1L422.7,253.1L417.8,259.1L413.3,262.1L408.8,262.9L401.3,261.1L398.3,259.1L394.4,253.1L393.8,248.6L395.3,243.1L399.8,238.7Z" fill="#f1f0f6" fill-rule="evenodd"/><path d="M459.8,220.2L464.3,217.6L465.8,217.6L468.8,220.0L472.0,224.6L473.9,230.6L473.9,233.6L472.1,238.1L468.8,243.5L465.8,246.4L458.3,244.1L456.4,241.1L454.3,233.6L454.6,230.6L458.3,222.5ZM404.3,238.1L408.8,237.5L414.8,239.4L418.5,242.6L421.4,247.1L422.0,250.1L420.8,253.1L416.3,258.4L411.8,260.9L408.8,261.0L401.3,259.7L398.3,257.4L395.2,251.6L395.3,247.1L396.8,243.4L401.1,239.6Z" fill="#f0eef6" fill-rule="evenodd"/><path d="M463.1,220.1L465.8,219.3L468.8,221.5L471.7,226.1L473.1,230.6L473.1,233.6L471.4,238.1L468.8,242.4L465.8,245.2L464.3,245.1L462.7,244.1L459.2,241.1L455.2,233.6L455.6,230.6L457.9,226.1L460.0,223.1ZM404.7,239.6L407.3,239.2L414.8,241.1L417.8,243.8L419.7,247.1L420.2,250.1L419.3,252.4L416.3,256.2L413.3,258.4L410.3,259.2L401.3,258.2L398.8,256.1L397.0,253.1L396.3,250.1L397.1,245.6L399.8,242.5Z" fill="#efedf5" fill-rule="evenodd"/><path d="M463.4,221.6L465.8,220.9L468.8,223.1L470.7,226.1L472.3,230.6L472.3,233.6L470.6,238.1L467.3,243.1L465.8,244.0L464.3,243.9L460.8,241.1L457.5,236.6L456.2,233.6L456.5,230.6L458.1,227.6L461.3,223.3ZM405.5,241.1L413.3,242.3L416.1,244.1L417.8,246.7L418.4,248.6L417.7,251.6L415.5,254.6L413.3,256.3L407.3,257.2L402.8,256.8L399.8,255.3L398.5,253.1L397.7,250.1L398.3,246.8L401.3,243.3Z" fill="#eeecf5" fill-rule="evenodd"/><path d="M463.5,223.1L465.8,222.5L467.3,223.1L469.7,226.1L471.4,230.6L471.5,233.6L470.5,236.6L468.0,241.1L465.8,242.8L464.3,242.7L461.3,240.4L458.4,236.6L457.1,233.6L457.1,232.1L458.3,229.0L461.3,224.9ZM402.9,244.1L405.8,243.2L410.3,243.5L413.3,244.4L414.9,245.6L416.3,248.5L415.4,251.6L413.3,253.7L408.8,255.3L404.3,255.3L401.3,254.1L399.6,251.6L399.6,248.6L401.3,245.6Z" fill="#ecebf4" fill-rule="evenodd"/><path d="M463.7,224.6L465.8,224.1L467.3,224.7L469.4,227.6L470.7,232.1L470.3,235.1L469.1,238.1L467.3,240.7L465.8,241.6L464.3,241.5L461.3,239.1L459.4,236.6L458.1,233.6L458.1,232.1L459.3,229.1L461.3,226.5ZM406.5,245.6L410.3,245.6L412.7,247.1L413.5,248.6L413.3,250.1L412.1,251.6L409.3,253.1L407.3,253.5L404.3,253.2L402.0,251.6L401.5,250.1L402.8,247.2Z" fill="#ebe9f3" fill-rule="evenodd"/><path d="M463.9,226.1L465.8,225.7L467.3,226.5L469.0,229.1L469.8,232.1L468.8,236.9L467.3,239.3L465.8,240.3L464.3,240.2L462.8,239.3L460.5,236.6L459.2,233.6L459.2,232.1L460.5,229.1ZM407.3,250.1L407.3,249.9L407.4,250.1Z" fill="#e9e8f2" fill-rule="evenodd"/><path d="M462.8,228.4L465.8,227.5L467.3,228.6L468.8,232.1L467.9,236.6L465.8,238.9L464.3,238.8L462.8,237.8L461.3,236.0L460.3,233.6L461.3,230.1Z" fill="#e8e6f2" fill-rule="evenodd"/><path d="M462.7,230.6L464.3,229.6L465.8,229.8L467.3,231.6L467.4,235.1L465.8,237.1L464.3,237.0L462.3,235.1L461.8,233.6Z" fill="#e6e5f1" fill-rule="evenodd"/></g><path d="M493.1,164.1L492.7,164.9L492.1,166.7L490.3,169.2L490.2,169.4L488.2,171.8L487.6,172.6L486.1,174.4L485.0,175.6L483.9,177.0L482.4,178.7L481.7,179.5L479.9,181.8L479.6,182.1L477.7,184.7L477.3,185.4L476.2,187.2L475.8,189.8L475.8,192.4L475.7,195.0L475.2,197.5L474.7,198.8L474.0,200.1L472.9,202.7L472.3,205.2L472.2,206.7L472.0,207.8L472.0,210.4L472.2,211.1L472.5,213.0L473.6,215.5L474.7,217.2L475.5,218.1L477.0,220.7L477.3,221.2L479.9,220.9L480.1,220.7L482.4,218.1L482.5,218.1L484.1,215.5L485.0,213.4L485.2,213.0L486.5,210.4L487.6,208.9L488.3,207.8L490.2,205.6L490.4,205.2L492.7,202.7L492.8,202.7L495.3,200.2L495.4,200.1L497.9,197.8L498.2,197.5L500.4,195.6L501.3,195.0L503.0,193.6L504.8,192.4L505.6,191.8L508.2,190.3L509.3,189.8L510.7,189.2L513.3,188.7M351.3,269.3L353.9,269.1L356.4,269.1L359.0,269.0L361.6,269.0L364.2,269.0L366.7,269.1L369.3,269.3L371.5,269.5L371.9,269.6L374.4,270.0L377.0,270.7L379.3,272.1L379.6,272.4L380.8,274.7L382.1,277.2L382.2,277.4L383.2,279.8L383.2,282.4L383.0,285.0L382.4,287.5L382.2,288.5L381.8,290.1L380.9,292.7L380.0,295.2L379.6,296.3L379.0,297.8L377.9,300.4L377.0,302.4L376.8,303.0L375.6,305.5L374.4,307.9L374.4,308.1L373.0,310.7L371.9,313.0L371.7,313.2L370.2,315.8L369.3,317.5L368.6,318.4L366.8,321.0L366.7,321.0L364.2,322.9L363.0,323.5L362.2,324.1M503.5,323.1L503.0,321.2L503.0,321.0L502.4,318.4L501.8,315.8L501.2,313.2L500.6,310.7L500.4,310.2L499.8,308.1L498.9,305.5L497.9,303.2L497.8,303.0L496.4,300.4L495.3,298.7L494.7,297.8L492.7,295.4L492.6,295.2L490.2,293.0L489.9,292.7L487.6,290.3L487.4,290.1L485.2,287.5L485.0,287.3L483.2,285.0L482.4,284.0L481.3,282.4L479.9,280.5L479.3,279.8L477.3,278.4L476.1,277.2L475.1,274.7L475.4,272.1L476.2,269.5L477.3,267.1L477.4,267.0L478.8,264.4L479.9,262.6L480.4,261.8L481.9,259.2L482.4,258.4L483.5,256.7L484.5,254.1L485.0,251.5L485.0,250.4L485.1,249.0L485.0,247.8L484.9,246.4L484.5,243.8L483.5,241.2L482.4,239.8L479.9,240.0L479.0,241.2L477.3,243.1L476.9,243.8L475.3,246.4L474.7,247.1L473.4,249.0L472.2,250.7L471.5,251.5L469.9,254.1L469.6,254.6L467.5,256.7L467.0,257.0L464.4,258.4L462.3,259.2L461.9,259.4L459.3,260.1L456.7,260.5L454.2,260.4L451.6,259.9L449.7,259.2L449.0,259.0L446.4,257.8L443.9,256.7L443.9,256.7L441.3,255.8L438.7,256.2L438.5,256.7L437.7,259.2L436.7,261.8L436.2,262.7L435.1,264.4L433.6,266.1L432.7,267.0L431.0,268.3L428.8,269.5L428.4,269.7L425.9,270.8L423.7,272.1L423.3,272.8L422.8,274.7L423.0,277.2L422.5,279.8L420.7,281.5L419.6,282.4L418.2,283.3L415.6,284.2L413.0,284.2L410.4,283.2L409.0,282.4L407.9,281.0L407.3,279.8L406.5,277.2L405.4,274.7L405.3,274.6L403.3,272.1L402.7,271.5L401.6,269.5L400.2,268.1L399.0,267.0L397.6,266.0L395.6,264.4L395.0,263.9L392.6,261.8L392.4,261.6L389.9,259.6L389.6,259.2L388.0,256.7L387.3,254.8L387.0,254.1L386.3,251.5L385.9,249.0L385.9,246.4L386.6,243.8L387.3,242.9L388.2,241.2L389.9,238.7L389.9,238.7L391.5,236.1L392.4,234.9L393.4,233.5L394.6,231.0L395.0,229.7L395.7,228.4L397.0,225.8L397.6,224.4L398.0,223.2L398.6,220.7L399.1,218.1L399.7,215.5L400.2,214.1L400.9,213.0L402.7,211.2L404.2,210.4L405.3,209.9L407.9,209.5L410.4,209.6L412.8,210.4L413.0,210.5L415.6,212.6L415.8,213.0L416.6,215.5L416.9,218.1L416.9,220.7L417.2,223.2L418.0,225.8L418.2,226.1L419.1,228.4L420.7,230.6L421.0,231.0L423.3,233.2L423.7,233.5L425.9,235.8L426.2,236.1L428.4,238.7L428.4,238.7L430.8,241.2L431.0,241.5L433.6,243.6L434.6,243.8L436.2,244.3L438.2,243.8L438.7,243.7L441.3,241.3L441.3,241.2L442.9,238.7L443.9,236.9L444.2,236.1L445.1,233.5L445.5,231.0L445.5,228.4L445.1,225.8L444.8,223.2L444.6,220.7L444.9,218.1L445.4,215.5L446.4,213.1L446.5,213.0L448.0,210.4L449.0,209.0L450.4,207.8L451.6,207.1L454.2,206.3L456.7,205.4L457.0,205.2L459.3,204.2L461.9,203.1L462.8,202.7L464.4,201.5L465.4,200.1L466.5,197.5L467.0,195.1L467.0,195.0L467.4,192.4L467.5,189.8L467.6,187.2L467.6,184.7L467.0,182.1L467.0,182.0L465.7,179.5L464.5,177.0L464.4,176.5L464.2,174.4L464.4,173.3L464.8,171.8L465.8,169.2L467.0,166.8L467.1,166.7L468.6,164.1M417.7,326.1L418.2,324.5L418.5,323.5L419.4,321.0L420.3,318.4L420.7,317.1L421.3,315.8L422.3,313.2L423.3,311.0L423.5,310.7L424.9,308.1L425.9,306.3L426.5,305.5L428.4,303.1L428.6,303.0L431.0,301.5L433.6,301.1L436.2,300.8L438.7,301.5L441.0,303.0L441.3,303.2L443.3,305.5L443.9,306.3L444.9,308.1L446.1,310.7L446.4,311.5L447.1,313.2L447.9,315.8L448.7,318.4L449.0,319.5L449.4,321.0L450.1,323.5L450.7,326.1M459.3,217.0L461.9,215.6L464.4,215.8L467.0,216.8L468.1,218.1L469.6,219.6L470.5,220.7L472.2,223.2L472.2,223.2L473.3,225.8L474.1,228.4L474.7,231.0L474.6,233.5L473.9,236.1L472.6,238.7L472.2,239.5L471.2,241.2L469.6,243.5L469.3,243.8L467.4,246.4L467.0,246.8L464.4,247.7L461.9,247.8L459.3,247.8L456.7,246.9L456.0,246.4L454.2,243.9L454.1,243.8L453.7,241.2L453.7,238.7L453.8,236.1L453.3,233.5L453.5,231.0L454.2,229.2L454.5,228.4L455.2,225.8L456.0,223.2L456.7,220.9L456.8,220.7L458.4,218.1L459.3,217.0M407.9,236.1L408.1,236.1L410.4,236.3L413.0,237.3L415.6,238.3L415.9,238.7L418.2,240.6L418.7,241.2L420.7,243.8L420.8,243.8L422.4,246.4L423.3,248.6L423.4,249.0L423.3,250.6L423.2,251.5L421.8,254.1L420.7,255.6L419.8,256.7L418.2,258.5L417.4,259.2L415.6,260.8L413.5,261.8L413.0,262.1L410.4,262.7L407.9,262.5L405.3,261.9L404.8,261.8L402.7,261.5L400.2,260.3L398.8,259.2L397.6,258.0L396.6,256.7L395.0,254.1L395.0,254.1L394.0,251.5L393.9,249.0L394.4,246.4L395.0,244.1L395.1,243.8L397.1,241.2L397.6,240.7L400.1,238.7L400.2,238.6L402.7,237.2L405.3,236.4L407.7,236.1L407.9,236.1" fill="none" stroke="#555" stroke-width="0.42" stroke-opacity="0.85"/></g>
<circle cx="432.30" cy="245.10" r="72.4" fill="none" stroke="#2a2a2a" stroke-width="0.8"/>
<path d="M417.14,174.31L432.30,161.84L447.46,174.31M504.27,237.06L506.15,233.88L507.31,233.76L509.03,234.30L510.77,237.06L510.49,245.90L511.51,258.60L509.33,264.11L506.15,265.14L503.11,262.46M360.33,237.06L358.45,233.88L357.29,233.76L355.57,234.30L353.83,237.06L354.11,245.90L353.09,258.60L355.27,264.11L358.45,265.14L361.49,262.46" fill="none" stroke="#3a3a3a" stroke-width="0.7" stroke-linejoin="round"/>
<text x="412.9" y="167.0" class="el">Fp1</text>
<text x="452.9" y="167.0" class="el">Fp2</text>
<text x="432.9" y="166.0" class="el">Fpz</text>
<text x="395.9" y="176.5" class="el">AF7</text>
<text x="469.9" y="176.5" class="el">AF8</text>
<text x="412.9" y="177.5" class="el">AF3</text>
<text x="452.9" y="177.5" class="el">AF4</text>
<text x="432.9" y="177.5" class="el">AFz</text>
<text x="385.4" y="194.5" class="el">F7</text>
<text x="480.4" y="194.5" class="el">F8</text>
<text x="393.9" y="195.5" class="el">F5</text>
<text x="471.9" y="195.5" class="el">F6</text>
<text x="404.4" y="195.0" class="el">F3</text>
<text x="461.4" y="195.0" class="el">F4</text>
<text x="417.9" y="194.5" class="el">F1</text>
<text x="447.9" y="194.5" class="el">F2</text>
<text x="432.9" y="194.2" class="el">Fz</text>
<text x="379.9" y="213.5" class="el">FT7</text>
<text x="485.9" y="213.5" class="el">FT8</text>
<text x="388.9" y="213.5" class="el">FC5</text>
<text x="476.9" y="213.5" class="el">FC6</text>
<text x="400.4" y="213.0" class="el">FC3</text>
<text x="465.4" y="213.0" class="el">FC4</text>
<text x="415.9" y="212.5" class="el">FC1</text>
<text x="449.9" y="212.5" class="el">FC2</text>
<text x="432.9" y="212.0" class="el">FCz</text>
<text x="378.9" y="234.2" class="el">T7</text>
<text x="486.9" y="234.2" class="el">T8</text>
<text x="387.9" y="233.2" class="el">C5</text>
<text x="477.9" y="233.2" class="el">C6</text>
<text x="398.9" y="232.1" class="el">C3</text>
<text x="466.9" y="232.1" class="el">C4</text>
<text x="414.9" y="231.5" class="el">C1</text>
<text x="450.9" y="231.5" class="el">C2</text>
<text x="432.9" y="230.7" class="el">Cz</text>
<text x="379.9" y="253.3" class="el">TP7</text>
<text x="485.9" y="253.3" class="el">TP8</text>
<text x="388.4" y="251.2" class="el">CP5</text>
<text x="477.4" y="251.2" class="el">CP6</text>
<text x="399.9" y="250.1" class="el">CP3</text>
<text x="465.9" y="250.1" class="el">CP4</text>
<text x="415.4" y="249.6" class="el">CP1</text>
<text x="450.4" y="249.6" class="el">CP2</text>
<text x="432.9" y="249.4" class="el">CPz</text>
<text x="377.9" y="277.8" class="el">P9</text>
<text x="487.9" y="277.8" class="el">P10</text>
<text x="388.4" y="269.7" class="el">P7</text>
<text x="477.4" y="269.7" class="el">P8</text>
<text x="395.4" y="268.0" class="el">P5</text>
<text x="470.4" y="268.0" class="el">P6</text>
<text x="404.9" y="266.9" class="el">P3</text>
<text x="460.9" y="266.9" class="el">P4</text>
<text x="417.9" y="266.2" class="el">P1</text>
<text x="447.9" y="266.2" class="el">P2</text>
<text x="432.9" y="266.2" class="el">Pz</text>
<text x="399.9" y="283.2" class="el">PO7</text>
<text x="465.9" y="283.2" class="el">PO8</text>
<text x="413.4" y="279.7" class="el">PO3</text>
<text x="452.4" y="279.7" class="el">PO4</text>
<text x="432.9" y="278.9" class="el">POz</text>
<text x="415.4" y="290.9" class="el">O1</text>
<text x="450.4" y="290.9" class="el">O2</text>
<text x="432.9" y="291.4" class="el">Oz</text>
<text x="432.9" y="302.8" class="el">Iz</text>
<g clip-path="url(#cp3)"><g filter="url(#blr)"><rect x="6.3" y="327.8" width="166.0" height="166.0" fill="#e6e5f1"/><path d="M7.3,328.8L170.8,328.8L170.8,492.3L7.3,492.3ZM100.3,412.8L97.2,414.3L95.8,415.8L95.6,417.3L100.1,429.3L101.8,431.2L104.8,432.5L106.3,431.8L108.5,427.8L109.1,424.8L108.8,420.3L107.8,417.0L106.3,414.2L103.3,412.6ZM116.8,361.5L113.4,363.3L112.3,365.6L112.6,367.8L118.3,373.7L121.3,374.7L122.8,374.5L124.3,373.1L125.3,370.8L125.4,367.8L124.9,366.3L121.3,362.3L119.8,361.6Z" fill="#dfdfed" fill-rule="evenodd"/><path d="M7.3,328.8L70.4,328.8L77.7,331.8L80.8,332.2L83.8,331.2L85.4,328.8L170.8,328.8L170.8,492.3L55.9,492.3L59.8,487.9L64.3,480.8L68.5,471.3L69.9,465.3L69.5,462.3L65.8,455.0L64.5,453.3L61.3,452.0L58.3,454.2L56.8,456.6L54.2,462.3L52.4,468.3L51.8,474.3L52.8,486.3L52.0,492.3L7.3,492.3ZM88.3,349.2L83.8,353.4L74.8,364.4L73.7,366.3L72.9,369.3L73.2,372.3L75.3,376.8L85.3,388.0L88.3,390.6L89.8,391.2L91.3,390.6L97.3,382.0L101.8,379.0L107.8,377.5L118.3,378.8L122.8,378.7L125.8,377.7L128.6,375.3L129.9,370.8L129.1,364.8L125.8,357.3L122.8,354.0L119.8,352.7L116.8,352.3L107.8,353.0L91.3,348.9ZM97.3,411.2L91.9,414.3L90.9,415.8L90.4,418.8L90.3,424.8L92.5,439.8L92.5,447.3L89.7,450.3L88.1,453.3L88.4,454.8L91.3,455.8L95.8,455.6L101.8,454.5L107.8,454.9L109.3,454.4L113.4,450.3L115.6,445.8L115.5,441.3L113.3,432.3L112.3,423.3L108.8,414.3L106.6,411.3L104.8,410.2L101.8,409.9Z" fill="#d7d7e9" fill-rule="evenodd"/><path d="M7.3,328.8L53.8,328.8L55.5,340.8L58.2,346.8L59.0,355.8L58.3,360.3L55.9,364.8L56.8,366.3L61.3,366.6L75.6,384.3L82.8,396.3L85.4,406.8L85.7,412.8L82.5,415.8L80.6,418.8L81.4,424.8L80.7,435.3L77.8,442.8L76.5,444.3L74.8,445.1L71.8,444.5L70.3,443.1L67.3,437.5L65.8,436.3L62.9,435.3L52.3,436.5L50.8,437.0L49.8,438.3L49.9,442.8L50.8,447.3L50.3,450.3L44.8,464.3L36.9,492.3L7.3,492.3ZM44.8,370.1L40.0,375.3L39.8,376.8L40.3,377.5L41.8,377.7L43.3,377.0L46.3,374.2L47.5,370.8L46.3,369.3ZM104.1,328.8L170.8,328.8L170.8,492.3L131.3,492.3L127.3,489.8L126.3,492.3L68.4,492.3L76.3,469.4L79.3,464.0L81.4,462.3L97.3,461.9L100.3,462.4L103.3,464.1L107.8,469.1L118.3,475.9L119.8,476.6L120.8,475.8L122.4,457.8L124.8,448.8L128.5,445.8L138.1,441.3L139.7,439.8L140.8,437.0L141.1,426.3L140.0,418.8L140.1,412.8L139.5,411.3L134.8,420.2L130.3,433.0L125.8,440.0L124.3,440.8L121.3,437.9L118.3,432.9L112.0,417.3L107.8,409.7L104.8,407.6L100.3,407.5L99.0,406.8L98.3,399.3L99.0,394.8L102.0,388.8L105.5,384.3L107.8,382.5L109.3,382.1L121.3,381.5L130.3,379.8L132.9,378.3L134.2,376.8L134.8,373.8L133.6,366.3L128.8,351.8L127.3,348.9L124.3,345.9L110.8,342.5L107.4,340.8L103.4,334.8Z" fill="#cdcde4" fill-rule="evenodd"/><path d="M7.3,328.8L46.0,328.8L49.6,343.8L49.6,348.3L48.8,354.3L47.2,358.8L45.1,361.8L37.3,368.1L33.8,372.3L32.4,376.8L32.9,381.3L34.3,383.3L38.8,384.9L44.8,381.4L52.3,374.4L53.8,373.8L61.3,374.5L70.3,381.6L75.6,388.8L79.4,396.3L82.1,408.3L82.0,409.8L76.3,416.0L72.8,423.3L70.5,426.3L62.8,430.2L58.3,431.3L53.8,431.8L52.3,431.4L48.0,427.8L43.3,420.3L40.3,416.9L35.8,415.3L32.7,415.8L32.0,418.8L34.3,426.5L37.3,431.7L42.7,438.3L45.8,444.3L46.4,447.3L45.7,451.8L43.7,457.8L28.7,492.3L7.3,492.3ZM144.8,330.3L149.1,328.8L170.8,328.8L170.8,492.3L157.6,492.3L158.8,490.6L155.8,490.1L147.1,483.3L143.0,478.8L140.2,474.3L135.8,460.8L135.1,454.8L136.1,450.3L138.8,445.8L142.3,443.0L143.4,441.3L148.1,427.8L148.7,423.3L148.4,409.8L150.9,397.8L150.1,394.8L142.3,388.9L140.8,388.9L139.3,392.1L137.2,403.8L133.7,414.3L128.4,427.8L127.3,429.9L125.8,431.1L124.3,431.1L121.3,429.9L118.3,427.2L109.3,409.3L106.3,405.7L102.5,403.8L102.2,402.3L102.3,397.8L103.4,393.3L106.3,388.2L109.3,385.4L122.8,383.1L130.3,382.4L131.8,382.4L134.8,383.4L136.9,382.8L138.5,381.3L139.2,379.8L139.3,376.8L134.4,357.3L133.8,352.8L134.0,348.3L135.3,343.8L140.8,333.6ZM86.4,466.8L94.3,466.6L97.3,467.8L100.3,470.2L103.2,474.3L105.2,478.8L109.1,492.3L72.7,492.3L76.3,480.8L79.3,473.9L82.3,469.6Z" fill="#c2c3df" fill-rule="evenodd"/><path d="M7.3,341.2L19.8,328.8L40.7,328.8L43.3,333.8L44.8,339.3L45.1,348.3L43.3,355.5L41.0,358.8L31.3,368.6L29.4,372.3L28.4,379.8L29.8,386.6L31.3,387.7L35.8,388.2L38.8,390.0L40.3,390.0L41.9,387.3L47.8,381.7L52.3,378.8L55.3,377.5L58.3,377.5L61.3,378.3L67.3,381.9L72.4,387.3L76.9,396.3L79.1,405.3L78.5,408.3L68.9,421.8L62.8,427.0L58.3,428.6L53.8,428.8L52.3,427.9L48.4,423.3L43.3,415.4L38.8,411.8L34.3,411.0L31.3,411.5L29.0,412.8L28.4,415.8L29.9,421.8L34.3,432.4L42.1,444.3L42.6,445.8L42.5,450.3L39.4,460.8L32.3,475.8L25.3,487.4L20.8,491.6L19.3,491.3L17.8,490.1L7.3,480.0ZM151.7,337.8L155.8,337.2L166.3,338.6L167.8,339.1L170.8,341.7L170.8,411.5L166.3,408.1L161.8,403.1L157.3,395.6L157.2,391.8L156.6,390.3L151.0,385.8L148.4,382.8L143.8,372.8L139.6,360.3L139.3,354.3L141.0,348.3L145.3,342.3L148.3,339.7ZM112.3,387.4L124.3,384.6L130.3,384.5L131.8,385.5L132.9,387.3L135.4,393.3L135.2,400.8L132.3,412.8L127.3,424.3L125.8,426.3L124.3,426.8L121.3,425.9L118.5,423.3L109.3,406.7L105.1,400.8L105.7,394.8L107.8,390.4L109.2,388.8ZM166.0,435.3L170.8,435.9L170.8,470.7L167.8,473.3L164.8,474.9L160.3,476.5L155.8,477.3L152.8,475.7L151.3,473.8L146.6,465.3L144.7,457.8L145.0,451.8L146.8,447.3L149.2,444.3L152.8,441.1L160.3,436.5ZM87.0,472.8L89.8,472.0L92.8,472.4L97.3,475.6L99.6,478.8L101.7,483.3L104.2,492.3L76.4,492.3L78.1,486.3L80.8,480.0L83.8,475.5Z" fill="#b8b8d9" fill-rule="evenodd"/><path d="M20.4,331.8L28.3,331.5L33.5,333.3L35.8,335.1L37.8,337.8L39.5,343.8L39.2,348.3L37.5,352.8L28.3,364.7L25.9,369.3L25.0,375.3L24.9,381.3L25.3,385.9L26.5,390.3L28.3,391.4L35.8,392.5L38.8,394.6L40.3,395.0L41.8,393.8L43.2,390.3L49.2,382.8L55.3,380.2L59.8,380.3L65.8,383.2L70.3,387.4L74.3,394.8L76.5,403.8L76.3,405.4L74.1,409.8L70.7,415.8L67.3,420.3L61.3,425.4L56.8,426.5L53.8,426.1L52.3,424.8L48.8,420.3L43.3,410.8L40.3,407.8L35.8,406.8L29.8,408.3L26.3,409.8L25.4,411.3L25.3,412.8L26.2,417.3L32.8,434.4L38.5,444.3L39.1,447.3L39.0,451.8L37.6,457.8L34.7,465.3L31.3,472.1L26.8,479.4L23.8,482.6L22.3,483.5L14.8,486.1L7.3,479.4L7.3,342.2L14.8,334.8L17.8,332.8ZM152.7,346.8L157.3,346.2L160.9,346.8L163.3,348.0L166.3,350.8L170.8,352.3L170.8,385.5L166.3,383.8L158.8,378.7L152.8,372.0L148.3,364.4L146.9,360.3L146.0,354.3L148.3,349.7ZM119.8,387.3L125.8,386.1L128.8,386.2L130.3,387.0L132.1,390.3L133.6,396.3L133.1,403.8L131.1,411.3L127.3,419.5L125.8,422.0L124.3,423.1L121.3,422.5L118.9,420.3L111.5,408.3L107.6,399.3L108.2,394.8L110.2,391.8L112.3,390.4ZM87.0,483.3L91.3,482.4L94.3,482.9L95.8,484.7L97.0,487.8L97.4,490.8L96.9,492.3L84.4,492.3L83.7,490.8L83.8,487.6L85.3,484.5Z" fill="#aeacd2" fill-rule="evenodd"/><path d="M7.3,477.1L7.3,355.4L8.8,355.3L13.3,355.6L16.7,357.3L17.8,359.2L18.4,361.8L17.3,367.8L17.5,370.8L20.8,381.6L23.0,393.3L24.7,394.8L31.6,396.3L34.0,397.8L34.8,399.3L34.7,400.8L33.6,402.3L29.8,404.7L23.8,407.3L22.7,408.3L22.3,409.8L23.6,415.8L30.5,435.3L35.1,445.8L35.7,450.3L35.0,456.3L31.3,466.2L26.8,473.6L25.3,475.1L22.3,476.9L14.8,478.0L10.3,477.8ZM49.3,384.6L55.3,382.0L58.3,382.1L62.8,383.6L66.3,385.8L68.8,388.2L71.2,391.8L73.1,396.3L74.2,400.8L74.1,403.8L73.1,406.8L68.7,415.8L62.8,422.2L58.3,424.2L55.3,424.3L53.8,423.5L50.8,420.2L47.1,414.3L42.5,402.3L42.6,399.3L45.1,391.8ZM119.7,388.8L124.3,387.6L128.8,388.2L131.0,391.8L132.3,397.8L130.9,406.8L128.9,412.8L125.8,417.9L124.3,419.4L122.8,419.7L121.3,419.4L119.8,418.1L113.8,410.1L110.6,403.8L109.6,399.3L110.0,396.3L112.3,393.5Z" fill="#a3a0cb" fill-rule="evenodd"/><path d="M7.3,464.1L7.3,374.1L11.2,378.3L14.8,383.9L17.8,390.1L19.9,397.8L23.2,399.3L24.8,400.8L24.7,402.3L19.3,406.3L19.2,408.3L22.1,418.8L24.8,435.3L26.3,439.8L30.4,447.3L31.8,451.8L31.3,457.1L28.3,464.4L24.5,468.3L19.3,469.8L16.3,469.9L13.3,469.2L10.3,467.4ZM52.8,384.3L55.3,383.5L58.3,383.8L65.8,387.7L68.3,390.3L70.3,393.3L72.3,399.3L72.3,402.3L71.3,406.8L67.9,414.3L62.8,420.0L58.3,422.2L54.9,421.8L50.8,417.6L47.3,411.3L45.1,403.8L45.0,397.8L46.8,391.8L49.3,386.6ZM119.5,390.3L124.3,389.1L127.3,389.5L129.4,391.8L130.9,396.3L130.9,400.8L127.7,411.3L125.8,414.5L122.8,416.6L119.8,415.2L115.3,410.1L112.8,405.3L111.2,399.3L111.2,397.8L113.0,394.8L115.3,392.8Z" fill="#9a96c6" fill-rule="evenodd"/><path d="M52.6,385.8L56.8,384.9L62.0,387.3L67.3,391.8L70.6,397.8L70.6,403.8L69.3,408.3L67.3,412.5L62.8,417.9L58.3,420.2L55.3,419.8L50.8,415.1L48.1,409.8L46.5,403.8L46.2,399.3L47.5,393.3L49.3,388.8L50.8,386.8ZM7.3,431.7L7.3,385.8L10.6,390.3L13.4,396.3L15.0,402.3L15.3,411.3L14.8,418.5L13.3,424.6L10.3,429.7ZM119.3,391.8L122.8,390.8L125.8,390.9L127.5,391.8L129.6,396.3L129.7,400.8L128.4,405.3L125.5,411.3L122.8,413.8L119.8,412.3L117.4,409.8L115.6,406.8L112.7,399.3L113.4,396.3L114.7,394.8ZM7.3,438.3L8.8,437.8L11.8,438.7L16.3,441.3L17.8,442.8L20.0,450.3L19.3,453.1L17.8,453.6L16.3,453.1L7.3,443.9Z" fill="#8f8cc1" fill-rule="evenodd"/><path d="M52.4,387.3L56.8,386.3L59.8,387.3L65.8,392.3L69.4,397.8L68.9,405.3L66.4,411.3L62.8,415.8L58.3,418.2L55.3,417.6L52.3,414.8L49.5,409.8L48.2,405.3L47.3,399.3L47.7,396.3L49.8,390.3L50.8,388.6ZM119.1,393.3L122.8,392.4L125.8,392.7L127.3,394.3L128.5,397.8L128.5,400.8L127.2,405.3L124.3,410.6L122.8,411.5L121.3,410.9L117.7,406.8L115.2,402.3L114.2,399.3L115.1,396.3Z" fill="#8582bc" fill-rule="evenodd"/><path d="M52.4,388.8L55.3,387.7L56.8,387.6L59.8,388.7L65.4,393.3L68.2,397.8L67.5,405.3L65.8,409.7L62.8,413.7L59.8,415.7L58.3,416.2L55.3,415.4L52.3,412.3L50.8,409.4L48.8,402.3L48.4,399.3L49.1,394.8L50.8,390.6ZM119.1,394.8L121.3,394.1L124.3,394.2L125.8,395.1L127.1,397.8L127.3,400.8L126.1,405.3L124.3,408.4L122.8,409.2L121.3,408.7L119.8,407.2L116.1,400.8L116.0,397.8L117.0,396.3Z" fill="#7c75b6" fill-rule="evenodd"/><path d="M52.6,390.3L55.3,389.0L56.8,388.9L59.8,390.0L64.3,393.5L67.1,397.8L67.0,400.8L64.3,409.2L61.3,412.7L58.3,414.0L56.8,414.2L53.8,411.3L51.4,406.8L49.8,402.3L49.3,399.3L49.7,396.3L50.8,393.0ZM119.7,396.3L121.3,395.8L124.0,396.3L125.3,397.8L125.8,399.3L125.3,403.8L124.3,405.8L122.8,406.8L121.3,406.2L119.8,404.7L117.8,400.8L118.1,397.8Z" fill="#7566ae" fill-rule="evenodd"/><path d="M56.7,390.3L59.8,391.2L62.8,393.3L65.4,396.3L66.2,399.3L64.8,403.8L62.4,408.3L59.5,411.3L56.8,412.5L55.3,411.4L53.2,408.3L51.2,403.8L50.3,399.3L50.7,396.3L52.3,392.5L53.8,391.0ZM120.5,399.3L121.3,398.5L122.8,398.6L123.4,399.3L123.9,400.8L122.8,403.3L121.0,402.3L120.4,400.8Z" fill="#6d57a6" fill-rule="evenodd"/><path d="M55.8,391.8L58.3,392.0L61.3,393.4L64.2,396.3L65.1,399.3L64.3,402.3L61.8,406.8L58.3,410.5L56.8,410.8L55.3,409.8L53.4,406.8L51.7,402.3L51.3,399.3L52.4,394.8L53.8,392.7Z" fill="#65489f" fill-rule="evenodd"/><path d="M56.1,393.3L58.3,393.3L61.3,394.8L62.8,396.3L63.9,399.3L63.2,402.3L61.3,405.7L58.3,408.8L56.8,409.1L55.3,408.1L53.6,405.3L52.3,399.3L53.8,394.8Z" fill="#5e3a98" fill-rule="evenodd"/><path d="M55.3,395.4L58.3,394.8L61.2,396.3L62.6,399.3L61.9,402.3L60.1,405.3L58.3,407.0L56.8,407.3L54.8,405.3L53.4,400.8L53.8,397.5Z" fill="#562b91" fill-rule="evenodd"/><path d="M55.3,397.8L56.8,396.7L58.3,396.5L60.4,397.8L61.0,399.3L60.4,402.3L58.3,404.9L56.8,405.2L55.3,403.7L54.7,400.8Z" fill="#4f1d8b" fill-rule="evenodd"/></g><path d="M113.7,363.0L113.4,363.2L112.2,365.8L113.1,368.4L113.7,368.8L115.3,370.9L116.3,371.9L118.0,373.5L118.9,373.9L121.4,374.6L124.0,373.6L124.1,373.5L125.1,370.9L125.3,368.4L124.5,365.8L124.0,364.9L122.3,363.2L121.4,362.4L118.9,361.4L116.3,361.7L113.7,363.0M98.3,413.8L96.8,414.7L95.7,416.8L95.6,417.2L95.7,417.7L96.5,419.8L97.5,422.4L98.3,424.6L98.4,424.9L99.3,427.5L100.7,430.1L100.9,430.4L103.4,432.3L106.0,432.2L107.3,430.1L108.6,427.8L108.7,427.5L109.1,424.9L109.1,422.4L108.7,419.8L108.6,419.4L107.8,417.2L106.5,414.7L106.0,414.0L103.4,412.7L100.9,412.7L98.3,413.8M50.5,329.8L51.0,332.4L51.5,334.9L51.9,337.5L52.0,338.1L52.4,340.1L53.0,342.7L53.4,345.2L53.8,347.8L54.0,350.4L53.9,352.9L53.5,355.5L52.8,358.1L52.0,359.6L51.6,360.7L49.9,363.2L49.4,363.7L46.9,365.5L46.3,365.8L44.3,367.0L42.9,368.4L41.7,369.5L39.4,370.9L39.2,371.1L37.0,373.5L36.6,374.2L36.0,376.1L36.2,378.7L36.6,379.2L39.2,380.5L41.7,380.2L44.3,378.9L44.6,378.7L46.9,376.4L47.2,376.1L48.8,373.5L49.4,372.2L50.5,370.9L52.0,368.9L54.6,370.0L57.2,370.6L59.7,370.2L61.6,370.9L62.3,371.2L64.8,373.5L64.9,373.6L67.2,376.1L67.4,376.3L69.6,378.7L70.0,379.0L72.1,381.2L72.6,381.8L74.1,383.8L75.2,385.4L75.9,386.4L77.5,388.9L77.7,389.3L79.2,391.5L80.3,393.7L80.5,394.1L81.6,396.7L82.3,399.2L82.9,401.8L82.9,401.9L83.6,404.4L84.1,406.9L84.5,409.5L84.0,412.1L82.9,413.2L81.1,414.7L80.3,415.5L78.8,417.2L77.7,419.5L77.6,419.8L77.1,422.4L76.8,424.9L76.5,427.5L75.8,430.1L75.2,432.0L74.6,432.7L72.6,434.2L70.0,433.6L67.4,433.2L64.9,433.1L62.3,433.2L59.7,433.7L57.2,434.2L54.6,434.5L52.0,434.3L49.4,433.8L47.3,432.7L46.9,432.2L45.1,430.1L44.3,428.5L43.8,427.5L42.4,424.9L41.7,423.8L40.6,422.4L39.2,420.8L37.1,419.8L36.6,419.6L36.4,419.8L35.8,422.4L36.4,424.9L36.6,425.4L38.0,427.5L39.2,429.2L40.2,430.1L41.7,431.7L43.1,432.7L44.3,434.0L45.2,435.2L46.3,437.8L46.9,439.6L47.1,440.4L48.0,442.9L48.9,445.5L49.1,448.1L48.6,450.7L47.9,453.2L46.9,455.7L46.8,455.8L45.8,458.4L44.7,460.9L44.3,461.7L43.6,463.5L42.6,466.1L41.7,468.1L41.5,468.7L40.8,471.2L40.0,473.8L39.2,476.4L39.2,476.4L38.4,478.9L37.6,481.5L36.8,484.1L36.6,484.8L36.0,486.7L35.2,489.2L34.2,491.8M70.4,491.8L71.1,489.2L71.9,486.7L72.6,484.8L72.8,484.1L73.6,481.5L74.4,478.9L75.2,476.9L75.3,476.4L76.3,473.8L77.4,471.2L77.7,470.4L78.7,468.7L80.3,466.3L80.5,466.1L82.9,464.1L85.4,463.7L88.0,463.8L90.6,463.8L93.2,463.6L95.3,463.5L95.7,463.5L96.0,463.5L98.3,463.9L100.9,465.3L101.9,466.1L103.4,467.7L104.2,468.7L105.8,471.2L106.0,471.6L107.6,473.8L108.6,475.7L109.4,476.4L111.2,478.2L111.9,478.9L113.7,481.3L113.9,481.5L115.5,484.1L116.3,485.9L116.7,486.7L117.6,489.2L118.1,491.8M141.5,491.8L139.4,490.2L138.3,489.2L136.9,487.9L135.7,486.7L134.3,485.0L133.5,484.1L131.8,481.5L131.7,481.3L130.4,478.9L129.3,476.4L129.2,475.8L128.5,473.8L127.8,471.2L127.3,468.7L127.0,466.1L126.9,463.5L126.9,460.9L127.1,458.4L127.4,455.8L127.8,453.2L128.4,450.7L129.2,449.1L129.6,448.1L131.7,446.6L132.8,445.5L134.3,444.8L136.9,443.6L137.9,442.9L139.4,442.0L141.0,440.4L141.9,437.8L142.0,436.8L142.2,435.2L142.5,432.7L142.7,430.1L142.9,427.5L143.0,424.9L143.1,422.4L142.9,419.8L143.0,417.2L143.3,414.7L143.7,412.1L144.3,409.5L144.6,408.1L144.8,406.9L145.1,404.4L145.0,401.8L144.6,401.0L142.0,401.4L141.9,401.8L140.3,404.4L139.4,405.6L138.9,406.9L137.8,409.5L136.9,411.2L136.6,412.1L135.7,414.7L134.6,417.2L134.3,417.8L133.7,419.8L132.8,422.4L131.9,424.9L131.7,425.6L131.0,427.5L129.9,430.1L129.2,431.8L128.6,432.7L126.6,435.1L125.9,435.2L124.0,435.9L123.2,435.2L121.4,434.2L120.3,432.7L118.9,431.3L118.2,430.1L116.9,427.5L116.3,426.3L115.8,424.9L114.8,422.4L113.7,419.9L113.7,419.8L112.5,417.2L111.3,414.7L111.2,414.5L109.9,412.1L108.6,409.9L108.3,409.5L106.0,407.3L104.9,406.9L103.4,406.5L100.9,405.8L100.0,404.4L99.8,401.8L99.8,399.2L100.0,396.7L100.8,394.1L100.9,394.0L101.9,391.5L103.4,388.9L103.4,388.9L105.2,386.4L106.0,385.5L108.1,383.8L108.6,383.5L111.2,383.0L113.7,382.8L116.3,382.6L118.9,382.6L121.4,382.2L124.0,381.7L126.6,381.5L128.8,381.2L129.2,381.1L131.7,380.4L134.3,379.5L135.3,378.7L136.2,376.1L136.2,373.5L135.9,370.9L135.3,368.4L134.6,365.8L134.3,364.9L133.7,363.2L132.9,360.7L132.2,358.1L131.7,356.5L131.4,355.5L130.7,352.9L130.1,350.4L129.2,347.8L129.2,347.5L128.4,345.2L126.7,342.7L126.6,342.5L124.0,340.8L122.4,340.1L121.4,339.7L118.9,338.8L116.3,338.0L114.9,337.5L113.7,337.0L111.2,335.2L110.9,334.9L109.7,332.4L109.6,329.8M33.3,329.8L34.0,330.2L36.6,332.1L36.9,332.4L39.0,334.9L39.2,335.2L40.3,337.5L41.1,340.1L41.6,342.7L41.7,344.9L41.7,345.2L41.7,345.4L41.5,347.8L40.8,350.4L39.8,352.9L39.2,354.2L38.3,355.5L36.6,357.7L36.3,358.1L34.0,360.6L34.0,360.7L31.7,363.2L31.4,363.6L29.7,365.8L28.9,366.8L27.9,368.4L27.0,370.9L26.4,373.5L26.3,374.6L26.1,376.1L26.0,378.7L26.0,381.2L26.2,383.8L26.3,384.8L26.6,386.4L27.5,388.9L28.9,390.1L31.4,390.4L34.0,390.7L36.6,391.4L36.8,391.5L39.2,393.3L41.7,391.7L41.8,391.5L43.2,388.9L44.3,387.8L45.4,386.4L46.9,384.7L47.5,383.8L49.4,382.1L51.2,381.2L52.0,380.7L54.6,379.6L57.2,379.2L59.7,379.5L62.3,380.5L63.6,381.2L64.9,381.9L67.4,383.7L67.5,383.8L70.0,386.2L70.2,386.4L72.0,388.9L72.6,390.0L73.5,391.5L74.6,394.1L75.2,395.6L75.6,396.7L76.3,399.2L76.9,401.8L77.3,404.4L76.7,406.9L75.2,409.3L75.1,409.5L73.6,412.1L72.6,413.6L72.0,414.7L70.5,417.2L70.0,417.9L68.6,419.8L67.4,421.0L66.1,422.4L64.9,423.5L63.1,424.9L62.3,425.6L59.7,426.7L57.2,427.1L54.6,427.2L52.0,425.5L51.6,424.9L49.6,422.4L49.4,422.2L47.8,419.8L46.9,418.3L46.2,417.2L44.7,414.7L44.3,413.7L42.9,412.1L41.7,410.5L40.1,409.5L39.2,408.9L36.6,408.1L34.0,408.3L31.4,408.9L29.4,409.5L28.9,409.7L26.3,412.0L26.3,412.1L26.3,414.7L26.3,414.7L26.9,417.2L27.7,419.8L28.6,422.4L28.9,423.1L29.6,424.9L30.6,427.5L31.4,429.7L31.6,430.1L32.8,432.7L34.0,435.2L34.0,435.4L35.5,437.8L36.6,439.5L37.3,440.4L38.8,442.9L39.2,443.7L40.0,445.5L40.2,448.1L40.1,450.7L39.7,453.2L39.2,455.4L39.1,455.8L38.3,458.4L37.3,460.9L36.6,462.8L36.3,463.5L35.2,466.1L34.0,468.5L34.0,468.7L32.6,471.2L31.4,473.5L31.3,473.8L29.8,476.4L28.9,478.0L28.2,478.9L26.5,481.5L26.3,481.8L24.2,484.1L23.7,484.6L21.2,486.0L19.4,486.7L18.6,487.0L17.1,487.7M170.3,391.3L167.7,390.1L165.7,388.9L165.2,388.7L162.6,387.0L161.8,386.4L160.0,385.0L158.6,383.8L157.4,382.8L155.9,381.2L154.9,380.1L153.7,378.7L152.3,376.9L151.7,376.1L150.1,373.5L149.7,373.0L148.7,370.9L147.3,368.4L147.2,368.1L146.1,365.8L145.0,363.2L144.6,362.1L144.2,360.7L143.6,358.1L143.4,355.5L143.8,352.9L144.6,350.9L144.8,350.4L146.6,347.8L147.2,347.1L149.4,345.2L149.7,344.9L152.3,343.8L154.9,343.4L157.4,343.4L160.0,343.7L162.6,344.2L165.2,344.9L166.2,345.2L167.7,346.2L170.3,347.5M80.2,491.8L80.3,491.0L80.6,489.2L81.5,486.7L82.5,484.1L82.9,483.2L84.1,481.5L85.4,479.6L86.6,478.9L88.0,478.2L90.6,478.0L93.2,478.1L94.1,478.9L95.7,480.3L96.6,481.5L98.0,484.1L98.3,484.6L99.1,486.7L99.7,489.2L100.2,491.8M121.4,386.2L124.0,385.7L126.6,385.6L129.2,385.7L130.3,386.4L131.7,388.1L132.2,388.9L133.3,391.5L133.8,394.1L134.1,396.7L134.2,399.2L133.9,401.8L133.4,404.4L132.9,406.9L132.2,409.5L131.7,410.9L131.3,412.1L130.4,414.7L129.2,417.2L129.1,417.2L127.8,419.8L126.6,422.2L126.4,422.4L124.0,424.2L121.4,423.6L120.0,422.4L118.9,421.4L118.0,419.8L116.4,417.2L116.3,417.0L114.9,414.7L113.7,412.9L113.2,412.1L111.8,409.5L111.2,408.4L110.3,406.9L109.0,404.4L108.6,403.3L107.5,401.8L106.7,399.2L107.0,396.7L107.7,394.1L108.6,392.4L109.3,391.5L111.2,390.0L113.7,389.0L113.8,388.9L116.3,388.2L118.9,387.2L121.1,386.4L121.4,386.2M157.4,449.5L160.0,448.6L162.6,448.8L164.8,450.7L165.2,451.3L165.7,453.2L165.5,455.8L165.2,456.8L164.4,458.4L162.6,460.9L162.6,460.9L160.0,462.8L158.1,463.5L157.4,463.7L154.9,463.8L154.4,463.5L152.3,461.7L152.1,460.9L151.8,458.4L152.3,455.9L152.3,455.8L153.7,453.2L154.9,451.6L155.8,450.7L157.4,449.5M8.3,375.5L8.8,376.1L10.9,378.4L11.1,378.7L12.9,381.2L13.4,382.1L14.4,383.8L15.8,386.4L16.0,386.8L17.0,388.9L17.9,391.5L18.5,394.1L18.6,394.4L19.1,396.7L21.2,398.7L22.4,399.2L23.7,400.7L24.5,401.8L23.7,402.4L21.6,404.4L21.2,404.6L19.0,406.9L19.3,409.5L19.9,412.1L20.8,414.7L21.2,415.7L21.5,417.2L21.9,419.8L22.3,422.4L22.6,424.9L23.0,427.5L23.4,430.1L23.7,432.1L23.8,432.7L24.4,435.2L25.1,437.8L26.3,440.3L26.3,440.4L27.9,442.9L28.9,444.8L29.3,445.5L30.4,448.1L31.4,450.7L31.4,451.2L31.6,453.2L31.4,455.5L31.4,455.8L30.6,458.4L29.7,460.9L28.9,462.9L28.5,463.5L26.6,466.1L26.3,466.5L23.7,468.4L22.8,468.7L21.2,469.1L18.6,469.5L16.0,469.4L13.4,468.8L13.1,468.7L10.9,467.2L9.6,466.1L8.3,464.7M54.6,383.8L57.2,383.5L58.0,383.8L59.7,384.4L62.3,385.7L63.6,386.4L64.9,387.1L67.0,388.9L67.4,389.4L69.1,391.5L70.0,393.0L70.6,394.1L71.6,396.7L72.2,399.2L72.3,401.8L72.0,404.4L71.3,406.9L70.2,409.5L70.0,409.9L69.0,412.1L67.6,414.7L67.4,414.9L65.6,417.2L64.9,418.1L62.9,419.8L62.3,420.3L59.7,421.8L57.2,422.2L54.6,421.6L52.7,419.8L52.0,419.1L50.6,417.2L49.4,415.5L49.0,414.7L47.7,412.1L46.9,410.1L46.6,409.5L45.7,406.9L45.1,404.4L44.8,401.8L44.8,399.2L45.1,396.7L45.8,394.1L46.9,392.0L47.0,391.5L48.1,388.9L49.4,386.4L49.5,386.4L52.0,384.7L54.5,383.8L54.6,383.8M118.9,390.6L121.4,389.7L124.0,389.2L126.6,389.4L129.2,391.4L129.2,391.5L130.3,394.1L130.9,396.7L131.0,399.2L130.6,401.8L130.0,404.4L129.2,406.7L129.1,406.9L128.3,409.5L127.2,412.1L126.6,413.2L125.3,414.7L124.0,416.0L121.4,416.2L119.5,414.7L118.9,414.3L117.0,412.1L116.3,411.3L115.1,409.5L113.7,407.3L113.5,406.9L112.7,404.4L111.8,401.8L111.3,399.2L111.7,396.7L113.7,394.2L113.8,394.1L116.3,392.1L117.3,391.5L118.9,390.6M52.0,388.2L54.6,387.0L57.2,386.8L59.7,387.8L61.4,388.9L62.3,389.6L64.5,391.5L64.9,391.9L66.8,394.1L67.4,395.0L68.5,396.7L69.1,399.2L68.9,401.8L68.5,404.4L67.9,406.9L67.4,408.0L66.8,409.5L65.3,412.1L64.9,412.7L63.1,414.7L62.3,415.4L59.7,417.0L58.5,417.2L57.2,417.4L56.7,417.2L54.6,416.2L53.1,414.7L52.0,413.4L51.2,412.1L50.0,409.5L49.4,408.1L49.1,406.9L48.5,404.4L48.0,401.8L47.7,399.2L48.0,396.7L48.7,394.1L49.4,392.0L49.7,391.5L51.3,388.9L52.0,388.2M118.9,393.9L121.4,393.2L124.0,393.1L126.2,394.1L126.6,394.4L127.6,396.7L128.1,399.2L127.8,401.8L127.2,404.4L126.6,405.8L126.0,406.9L124.4,409.5L124.0,410.1L121.4,410.1L120.8,409.5L118.9,407.5L118.5,406.9L116.9,404.4L116.3,403.4L115.5,401.8L114.8,399.2L115.6,396.7L116.3,395.9L118.6,394.1L118.9,393.9M54.6,390.3L57.2,390.0L59.7,390.9L60.7,391.5L62.3,392.6L63.9,394.1L64.9,395.3L65.8,396.7L66.5,399.2L65.9,401.8L64.9,404.3L64.8,404.4L63.9,406.9L62.3,409.3L62.2,409.5L59.7,411.7L59.0,412.1L57.2,413.0L56.0,412.1L54.6,411.0L53.5,409.5L52.3,406.9L52.0,406.4L51.1,404.4L50.4,401.8L50.1,399.2L50.4,396.7L51.2,394.1L52.0,392.5L52.9,391.5L54.6,390.3M121.4,397.7L124.0,398.7L124.3,399.2L124.4,401.8L124.0,403.3L121.4,404.0L120.0,401.8L119.7,399.2L121.4,397.7M54.6,394.1L57.2,393.3L59.7,393.9L59.9,394.1L62.3,395.9L62.9,396.7L63.7,399.2L63.3,401.8L62.3,403.8L62.0,404.4L60.2,406.9L59.7,407.5L57.2,409.0L54.6,407.0L54.6,406.9L53.4,404.4L52.7,401.8L52.4,399.2L53.0,396.7L54.6,394.1L54.6,394.1" fill="none" stroke="#555" stroke-width="0.42" stroke-opacity="0.85"/></g>
<circle cx="89.30" cy="410.80" r="72.4" fill="none" stroke="#2a2a2a" stroke-width="0.8"/>
<path d="M74.14,340.01L89.30,327.54L104.46,340.01M161.27,402.76L163.15,399.58L164.31,399.46L166.03,400.00L167.77,402.76L167.49,411.60L168.51,424.30L166.33,429.81L163.15,430.84L160.11,428.16M17.33,402.76L15.45,399.58L14.29,399.46L12.57,400.00L10.83,402.76L11.11,411.60L10.09,424.30L12.27,429.81L15.45,430.84L18.49,428.16" fill="none" stroke="#3a3a3a" stroke-width="0.7" stroke-linejoin="round"/>
<text x="69.9" y="332.7" class="el">Fp1</text>
<text x="109.9" y="332.7" class="el">Fp2</text>
<text x="89.9" y="331.7" class="el">Fpz</text>
<text x="52.9" y="342.2" class="el">AF7</text>
<text x="126.9" y="342.2" class="el">AF8</text>
<text x="69.9" y="343.2" class="el">AF3</text>
<text x="109.9" y="343.2" class="el">AF4</text>
<text x="89.9" y="343.2" class="el">AFz</text>
<text x="42.4" y="360.2" class="el">F7</text>
<text x="137.4" y="360.2" class="el">F8</text>
<text x="50.9" y="361.2" class="el">F5</text>
<text x="128.9" y="361.2" class="el">F6</text>
<text x="61.4" y="360.7" class="el">F3</text>
<text x="118.4" y="360.7" class="el">F4</text>
<text x="74.9" y="360.2" class="el">F1</text>
<text x="104.9" y="360.2" class="el">F2</text>
<text x="89.9" y="359.9" class="el">Fz</text>
<text x="36.9" y="379.2" class="el">FT7</text>
<text x="142.9" y="379.2" class="el">FT8</text>
<text x="45.9" y="379.2" class="el">FC5</text>
<text x="133.9" y="379.2" class="el">FC6</text>
<text x="57.4" y="378.7" class="el">FC3</text>
<text x="122.4" y="378.7" class="el">FC4</text>
<text x="72.9" y="378.2" class="el">FC1</text>
<text x="106.9" y="378.2" class="el">FC2</text>
<text x="89.9" y="377.7" class="el">FCz</text>
<text x="35.9" y="399.9" class="el">T7</text>
<text x="143.9" y="399.9" class="el">T8</text>
<text x="44.9" y="398.9" class="el">C5</text>
<text x="134.9" y="398.9" class="el">C6</text>
<text x="55.9" y="397.8" class="el">C3</text>
<text x="123.9" y="397.8" class="el">C4</text>
<text x="71.9" y="397.2" class="el">C1</text>
<text x="107.9" y="397.2" class="el">C2</text>
<text x="89.9" y="396.4" class="el">Cz</text>
<text x="36.9" y="419.0" class="el">TP7</text>
<text x="142.9" y="419.0" class="el">TP8</text>
<text x="45.4" y="416.9" class="el">CP5</text>
<text x="134.4" y="416.9" class="el">CP6</text>
<text x="56.9" y="415.8" class="el">CP3</text>
<text x="122.9" y="415.8" class="el">CP4</text>
<text x="72.4" y="415.3" class="el">CP1</text>
<text x="107.4" y="415.3" class="el">CP2</text>
<text x="89.9" y="415.1" class="el">CPz</text>
<text x="34.9" y="443.5" class="el">P9</text>
<text x="144.9" y="443.5" class="el">P10</text>
<text x="45.4" y="435.4" class="el">P7</text>
<text x="134.4" y="435.4" class="el">P8</text>
<text x="52.4" y="433.7" class="el">P5</text>
<text x="127.4" y="433.7" class="el">P6</text>
<text x="61.9" y="432.6" class="el">P3</text>
<text x="117.9" y="432.6" class="el">P4</text>
<text x="74.9" y="431.9" class="el">P1</text>
<text x="104.9" y="431.9" class="el">P2</text>
<text x="89.9" y="431.9" class="el">Pz</text>
<text x="56.9" y="448.9" class="el">PO7</text>
<text x="122.9" y="448.9" class="el">PO8</text>
<text x="70.4" y="445.4" class="el">PO3</text>
<text x="109.4" y="445.4" class="el">PO4</text>
<text x="89.9" y="444.6" class="el">POz</text>
<text x="72.4" y="456.6" class="el">O1</text>
<text x="107.4" y="456.6" class="el">O2</text>
<text x="89.9" y="457.1" class="el">Oz</text>
<text x="89.9" y="468.5" class="el">Iz</text>
<g clip-path="url(#cp4)"><g filter="url(#blr)"><rect x="177.6" y="327.8" width="166.0" height="166.0" fill="#f4f2f8"/><path d="M178.6,328.8L342.1,328.8L342.1,393.6L334.6,393.5L328.6,394.8L324.1,397.4L322.6,399.3L322.3,400.8L324.1,404.4L328.6,407.8L334.6,409.2L342.1,408.9L342.1,492.3L178.6,492.3Z" fill="#f0eef6" fill-rule="evenodd"/><path d="M178.6,328.8L342.1,328.8L342.1,389.6L331.6,389.9L324.1,391.7L319.6,394.8L317.7,397.8L317.1,400.8L318.6,406.8L322.6,411.8L330.0,415.8L332.3,418.8L334.6,420.0L337.6,420.8L342.1,420.9L342.1,492.3L178.6,492.3Z" fill="#ebe9f3" fill-rule="evenodd"/><path d="M178.6,328.8L342.1,328.8L342.1,386.0L328.6,386.6L324.1,387.4L320.2,388.8L317.9,390.3L315.1,393.4L313.6,397.1L313.3,400.8L313.6,406.7L315.1,411.3L322.6,422.8L327.1,426.8L331.6,429.1L336.1,430.4L342.1,430.9L342.1,492.3L178.6,492.3ZM298.6,460.1L297.9,463.8L298.6,467.9L300.1,472.2L303.1,477.6L304.6,479.2L307.6,481.0L310.6,481.3L313.2,480.3L314.0,477.3L313.5,474.3L311.9,469.8L309.4,465.3L306.6,462.3L303.1,460.1L300.1,459.3Z" fill="#e4e3f0" fill-rule="evenodd"/><path d="M178.6,328.8L234.7,328.8L241.6,339.3L246.1,342.0L249.1,342.5L252.1,341.9L255.5,339.3L254.9,337.8L250.9,333.3L251.8,328.8L272.2,328.8L272.0,331.8L272.9,334.8L274.6,335.8L276.1,335.8L285.1,334.8L288.1,333.9L291.6,331.8L294.5,328.8L342.1,328.8L342.1,378.8L334.6,380.3L319.6,384.4L316.6,385.8L313.6,388.6L312.0,391.8L310.6,397.8L310.9,409.8L315.5,429.3L315.9,433.8L315.2,438.3L313.6,441.3L311.7,442.8L292.6,448.0L289.2,451.8L289.0,456.3L290.9,463.8L297.1,479.5L303.1,492.3L178.6,492.3ZM193.6,415.7L187.9,418.8L184.3,421.8L182.2,424.8L182.1,426.3L183.1,427.3L187.6,428.7L190.6,428.6L193.6,427.8L198.1,425.1L202.4,420.3L202.6,417.3L201.1,415.5L198.1,414.8ZM328.7,492.3L342.1,478.9L342.1,492.3Z" fill="#dedeed" fill-rule="evenodd"/><path d="M178.6,328.8L226.0,328.8L234.1,343.1L237.2,346.8L241.6,349.9L244.6,351.2L255.1,352.6L264.1,349.9L271.6,345.5L277.6,343.3L283.6,342.4L294.1,342.1L300.1,340.4L304.6,337.8L307.6,335.1L310.3,331.8L311.9,328.8L342.1,328.8L342.1,368.7L334.6,371.0L327.1,374.2L315.1,380.6L312.6,382.8L310.4,387.3L308.7,396.3L309.0,427.8L308.3,432.3L307.2,435.3L304.6,438.5L300.1,440.6L295.6,440.8L291.1,438.5L289.6,438.4L288.1,439.1L285.6,441.3L283.4,445.8L278.3,451.8L279.8,456.3L285.1,464.6L289.6,473.7L296.7,492.3L178.6,492.3L178.6,456.2L183.1,462.0L187.6,464.9L190.6,465.4L193.6,465.2L196.6,463.8L198.1,461.9L199.4,457.8L199.2,450.3L197.8,444.3L194.1,439.8L193.6,438.3L194.3,436.8L201.1,429.7L205.6,423.3L209.0,415.8L210.4,408.3L210.1,405.1L208.8,402.3L207.1,401.5L205.6,401.9L202.6,404.6L199.6,409.0L189.1,413.5L178.6,421.9ZM267.7,441.3L258.1,441.8L256.4,442.8L254.1,448.8L254.9,450.3L260.1,451.8L271.6,453.5L274.6,453.7L276.1,453.3L277.1,451.8L276.8,450.3L275.1,447.3L272.2,444.3ZM178.6,437.3L178.6,434.4L179.5,435.3L179.5,436.8ZM329.2,492.3L342.1,479.4L342.1,492.3Z" fill="#d7d7e9" fill-rule="evenodd"/><path d="M178.6,328.8L219.6,328.8L223.6,335.0L229.6,347.9L232.6,352.5L234.1,353.9L246.1,361.0L252.1,362.6L256.6,362.2L262.6,360.2L270.1,356.7L276.1,352.8L279.1,351.7L286.6,350.5L295.6,351.5L301.6,350.3L310.6,344.7L322.6,335.4L330.2,331.8L330.1,330.3L328.7,328.8L342.1,328.8L342.1,342.2L338.7,339.3L338.4,346.8L335.7,351.3L331.9,355.8L322.2,364.8L312.1,371.8L310.6,372.0L306.1,369.5L303.9,370.8L303.2,373.8L303.5,376.8L305.9,381.3L306.7,385.8L307.1,406.8L306.0,424.8L305.0,429.3L303.1,433.6L300.1,435.8L297.1,436.4L291.1,434.8L288.1,434.8L285.1,435.8L279.1,439.5L277.6,439.6L270.1,437.8L255.1,438.3L252.2,439.8L250.8,442.8L248.6,450.3L248.4,453.3L250.6,454.6L267.1,456.7L271.6,458.4L274.6,460.3L283.6,475.8L289.9,492.3L178.6,492.3L178.6,472.4L181.6,474.7L186.1,476.6L192.1,478.3L195.1,478.4L198.2,475.8L202.9,466.8L205.0,459.3L205.5,453.3L205.1,448.8L202.9,441.3L202.9,438.3L204.3,433.8L211.1,418.8L213.2,411.3L213.7,403.8L213.1,399.8L211.6,397.8L210.1,397.0L207.1,396.8L201.7,399.3L195.8,406.8L187.6,410.9L178.6,417.9ZM222.1,387.0L223.0,390.3L225.1,392.5L226.0,391.8L226.3,390.3L225.3,387.3L223.6,385.9ZM243.1,387.3L240.1,387.6L238.9,388.8L239.0,390.3L240.0,391.8L241.6,393.0L249.1,393.2L250.2,391.8ZM295.6,369.2L294.1,369.4L292.8,370.8L292.6,372.8L294.1,375.0L296.0,373.8L296.5,372.3L296.5,370.8ZM329.7,492.3L342.1,479.9L342.1,492.3Z" fill="#cecfe5" fill-rule="evenodd"/><path d="M178.6,340.8L190.7,328.8L212.2,328.8L216.1,333.3L219.9,339.3L222.6,345.3L222.7,349.8L218.4,376.8L215.1,387.3L213.1,391.6L211.6,392.4L207.1,393.2L199.2,397.8L193.6,404.5L186.1,408.7L178.6,414.4ZM293.4,381.3L300.1,382.3L303.1,383.9L304.8,390.3L305.7,402.3L305.1,415.8L303.7,424.8L301.6,430.1L299.5,432.3L297.1,433.1L288.1,432.2L277.6,435.2L253.6,435.3L249.1,436.2L246.4,439.8L243.1,449.4L241.6,450.9L236.5,453.3L235.6,454.8L229.6,468.3L227.4,477.3L227.9,481.8L229.6,483.4L232.6,481.6L241.6,473.1L246.8,463.8L249.1,461.2L252.1,460.1L256.6,459.5L261.1,459.4L264.1,459.9L270.1,462.2L273.9,466.8L276.6,472.8L283.5,492.3L191.6,492.3L190.4,490.8L190.6,490.3L193.6,490.8L195.1,490.5L199.0,487.8L202.2,484.8L203.8,481.8L209.1,466.8L210.6,460.8L210.9,454.8L209.5,447.3L207.4,442.8L207.4,436.8L209.6,427.8L213.9,418.8L217.9,403.8L219.1,401.4L222.1,400.7L228.1,401.0L240.1,399.7L252.1,401.1L260.0,400.8L262.6,399.8L267.5,396.3L280.6,383.7L285.1,382.3Z" fill="#c6c7e1" fill-rule="evenodd"/><path d="M178.6,341.1L191.2,328.8L204.7,328.8L211.4,336.3L219.1,347.7L219.8,349.8L219.7,354.3L216.7,372.3L213.3,382.8L211.2,387.3L196.6,397.0L191.9,402.3L178.6,411.0ZM292.4,384.3L295.6,384.0L300.1,385.1L301.3,385.8L302.8,388.8L303.9,394.8L304.5,403.8L303.6,417.3L301.5,424.8L298.6,429.7L297.1,430.7L288.1,430.1L276.1,432.2L264.1,432.2L250.6,431.4L244.6,432.1L234.1,432.1L231.1,433.6L230.0,435.3L228.3,447.3L226.6,449.5L223.6,451.2L220.6,450.8L215.3,445.8L210.1,442.3L209.5,441.3L209.1,438.3L210.6,430.8L212.4,426.3L216.6,418.8L220.6,407.2L221.9,405.3L228.1,404.8L237.1,403.2L244.6,403.8L250.6,406.1L261.1,405.3L264.1,403.6L271.3,397.8L280.6,389.0L285.1,386.6ZM255.8,463.8L259.6,463.2L264.1,463.8L267.1,465.2L270.1,468.1L272.1,471.3L274.6,476.9L278.9,492.3L240.6,492.3L248.4,471.3L252.1,466.2Z" fill="#bdbedc" fill-rule="evenodd"/><path d="M178.6,341.3L191.7,328.8L197.4,328.8L205.6,337.4L215.9,349.8L217.5,354.3L216.3,364.8L214.1,373.8L209.8,384.3L201.1,391.8L194.2,396.3L189.6,400.8L178.6,407.7ZM290.3,387.3L294.1,386.2L299.4,387.3L301.6,390.3L302.7,394.8L303.4,405.3L302.6,415.8L300.4,423.3L298.6,426.8L297.1,428.4L295.6,428.9L286.6,428.4L277.6,429.7L261.1,428.0L252.1,424.2L244.6,427.2L234.1,426.8L228.1,429.7L225.6,432.3L224.9,433.8L224.4,442.8L223.6,444.9L220.6,444.8L216.1,443.4L213.1,441.9L211.6,440.3L211.0,436.8L212.7,430.8L216.1,425.0L218.4,423.3L219.1,422.2L220.6,416.1L223.6,409.3L234.1,406.6L241.6,406.6L244.6,407.0L255.1,411.6L259.6,410.5L264.1,407.8L280.6,392.4ZM257.8,468.3L261.1,467.8L264.1,468.6L268.6,472.8L272.9,481.8L275.7,492.3L244.5,492.3L247.6,482.4L250.6,475.7L253.7,471.3Z" fill="#b4b4d7" fill-rule="evenodd"/><path d="M190.5,330.3L192.3,330.3L213.6,352.8L215.1,357.3L214.4,364.8L210.9,376.8L208.8,381.3L206.5,384.3L201.1,389.4L187.6,399.2L178.6,404.4L178.6,341.5ZM291.2,388.8L294.1,388.2L298.6,389.3L300.1,391.0L301.7,396.3L302.3,406.8L301.6,414.3L299.5,421.8L297.1,426.1L295.6,427.0L286.6,426.7L277.6,427.4L264.7,421.8L263.2,420.3L262.7,418.8L262.7,415.8L266.4,409.8L271.7,403.8L280.6,395.1L286.6,391.0ZM226.5,412.8L232.6,410.7L240.1,410.2L244.6,410.8L249.7,414.3L250.6,415.8L250.3,417.3L246.8,420.3L243.1,422.3L238.6,421.8L232.6,422.7L226.6,425.1L225.1,424.1L224.1,421.8L224.1,417.3ZM215.9,430.8L217.6,430.3L219.8,432.3L221.1,438.3L221.2,439.8L220.6,441.2L219.1,441.4L216.1,440.6L213.6,438.3L213.6,435.3ZM258.1,474.3L259.6,473.9L262.6,474.2L264.1,475.0L266.4,477.3L270.1,484.6L271.8,492.3L248.4,492.3L250.0,486.3L252.1,481.3L255.1,476.8Z" fill="#aba9d0" fill-rule="evenodd"/><path d="M187.5,333.3L189.0,333.3L190.6,334.7L210.1,353.7L212.3,357.3L212.8,360.3L212.6,363.3L211.5,369.3L209.4,375.3L207.1,380.1L204.1,384.1L199.6,388.2L187.6,396.6L178.6,401.2L178.6,341.7ZM292.2,390.3L295.6,390.3L298.5,391.8L300.4,396.3L301.1,402.3L301.1,409.8L300.2,415.8L298.6,420.7L297.1,423.5L295.6,425.0L294.1,425.4L285.1,425.0L279.1,425.4L276.9,424.8L271.8,421.8L268.5,418.8L267.0,415.8L267.8,412.8L273.2,405.3L280.6,397.3L286.6,392.8Z" fill="#a29fcb" fill-rule="evenodd"/><path d="M184.6,336.3L185.8,336.3L189.1,339.0L207.7,355.8L210.1,359.9L210.3,363.3L207.7,373.8L205.6,378.4L202.6,382.9L198.1,387.0L187.6,394.1L178.6,397.8L178.6,341.9ZM288.5,393.3L291.1,392.3L294.1,392.0L297.1,393.1L298.6,395.2L299.7,399.3L300.2,405.3L299.9,411.3L298.6,417.2L296.5,421.8L295.6,422.9L294.1,423.6L289.6,423.9L279.1,423.3L274.6,420.9L271.6,418.2L270.3,415.8L270.5,412.8L273.1,408.3L277.6,402.5L283.9,396.3Z" fill="#9995c6" fill-rule="evenodd"/><path d="M181.6,339.3L186.1,341.9L203.0,355.8L207.1,360.3L207.8,363.3L207.2,367.8L205.3,373.8L203.2,378.3L199.8,382.8L196.4,385.8L187.6,391.5L183.1,393.3L178.6,394.3L178.6,342.1ZM288.8,394.8L291.1,394.0L294.1,393.9L296.1,394.8L298.0,397.8L298.9,402.3L299.0,408.3L298.6,412.8L297.3,417.3L295.6,420.5L294.1,421.7L292.6,422.1L288.1,422.3L279.1,421.0L275.7,418.8L273.2,415.8L272.9,414.3L273.6,411.3L276.2,406.8L280.0,402.3L285.1,397.1Z" fill="#908dc2" fill-rule="evenodd"/><path d="M178.6,391.0L178.6,342.6L181.6,344.2L198.1,355.6L204.1,361.7L205.0,364.8L204.3,369.3L202.1,375.3L199.6,379.4L196.6,382.8L187.6,388.8L183.1,390.4ZM289.3,396.3L292.6,395.6L295.6,396.9L297.4,400.8L298.0,406.8L297.1,413.8L294.9,418.8L292.6,420.3L288.1,420.9L279.1,418.4L276.3,415.8L275.6,412.8L276.6,409.8L279.6,405.3L285.1,399.2Z" fill="#8885be" fill-rule="evenodd"/><path d="M178.6,387.8L178.6,347.5L183.1,349.3L193.6,355.9L197.1,358.8L200.9,363.3L201.8,366.3L201.0,370.8L199.6,374.7L197.3,378.3L194.5,381.3L187.6,386.0L183.1,387.4ZM290.9,397.8L292.6,397.7L294.1,398.3L295.9,400.8L296.8,405.3L296.3,411.3L295.6,414.3L294.0,417.3L291.1,419.1L286.6,419.2L282.1,417.5L279.8,415.8L278.7,414.3L278.5,411.3L280.7,406.8L284.4,402.3L288.1,399.0Z" fill="#7f7bb9" fill-rule="evenodd"/><path d="M178.6,384.6L178.6,352.4L180.1,352.5L183.1,353.3L190.6,357.5L196.4,363.3L198.0,366.3L198.2,367.8L196.8,373.8L193.6,378.4L190.6,381.0L187.6,382.7L181.6,384.5ZM289.0,400.8L291.1,400.1L292.6,400.3L294.1,401.6L295.3,405.3L295.4,408.3L294.4,412.8L292.8,415.8L291.1,417.1L288.1,417.6L286.3,417.3L283.5,415.8L281.2,412.8L281.1,411.3L282.1,408.3L283.6,405.9L286.6,402.5Z" fill="#796eb2" fill-rule="evenodd"/><path d="M178.6,380.1L178.6,358.1L181.6,357.9L186.1,359.1L190.6,362.4L193.3,366.3L193.9,369.3L193.4,372.3L190.6,376.4L187.6,378.4L181.6,380.1ZM288.5,403.8L291.1,403.0L292.5,403.8L293.4,406.8L292.6,412.4L291.1,414.3L289.6,414.8L286.5,414.3L284.1,411.3L284.7,408.3Z" fill="#7261ab" fill-rule="evenodd"/></g><path d="M238.7,329.8L238.7,329.9L240.6,332.4L241.3,333.4L243.3,334.9L243.9,335.4L246.5,335.8L247.0,334.9L246.5,333.1L246.1,332.4L246.5,332.1L247.7,329.8M275.5,329.8L277.0,332.4L277.3,332.6L279.9,333.2L282.5,333.1L285.0,332.5L285.4,332.4L287.6,331.4L289.9,329.8M341.6,380.5L339.0,380.9L337.2,381.2L336.5,381.4L333.9,381.9L331.3,382.5L328.7,383.1L326.2,383.7L325.8,383.8L323.6,384.2L321.0,384.8L318.5,385.8L317.4,386.4L315.9,387.4L314.5,388.9L313.3,390.5L312.8,391.5L311.9,394.1L311.3,396.7L311.1,399.2L311.2,401.8L311.3,404.4L311.4,406.9L311.5,409.5L311.9,412.1L312.6,414.7L313.3,417.2L313.3,417.2L314.3,419.8L315.3,422.4L315.9,424.3L316.1,424.9L317.0,427.5L317.8,430.1L318.5,432.5L318.5,432.7L319.2,435.2L319.6,437.8L319.6,440.4L318.5,442.3L318.0,442.9L315.9,444.3L313.3,445.2L311.6,445.5L310.7,445.7L308.2,446.1L305.6,446.7L303.0,447.2L300.5,447.7L298.3,448.1L297.9,448.2L295.3,449.2L292.7,450.4L292.5,450.7L291.0,453.2L290.6,455.8L290.8,458.4L291.3,460.9L292.0,463.5L292.7,465.9L292.8,466.1L293.7,468.7L294.6,471.2L295.3,473.0L295.7,473.8L296.7,476.4L297.8,478.9L297.9,479.2L299.0,481.5L300.1,484.1L300.5,484.8L301.5,486.7L302.8,489.2L303.0,489.7L304.6,491.8M195.0,416.5L192.6,417.2L192.5,417.3L189.9,418.7L188.2,419.8L187.3,420.6L185.3,422.4L184.7,423.6L184.1,424.9L184.7,425.9L187.3,427.1L189.9,427.2L192.5,426.7L195.0,425.7L196.3,424.9L197.6,424.1L199.5,422.4L200.2,421.4L201.1,419.8L200.5,417.2L200.2,417.0L197.6,416.2L195.0,416.5M216.7,329.8L218.2,331.7L218.7,332.4L220.4,334.9L220.7,335.6L221.8,337.5L223.1,340.1L223.3,340.6L224.2,342.7L225.1,345.2L225.6,347.8L225.6,350.4L224.8,352.9L223.5,355.5L223.3,355.9L223.0,358.1L222.6,360.7L222.3,363.2L222.2,365.8L222.1,368.4L222.1,370.9L222.3,373.5L222.6,376.1L221.6,378.7L220.7,379.3L219.8,381.2L218.8,383.8L218.4,386.4L218.2,388.9L218.2,388.9L218.1,391.5L218.2,392.0L218.6,394.1L220.7,395.7L222.2,396.7L223.3,397.1L225.9,398.0L228.5,398.3L231.0,398.3L233.6,397.9L236.2,397.6L238.7,397.3L241.3,397.3L243.9,397.8L246.5,398.2L249.0,398.5L251.6,398.6L254.2,398.6L256.7,398.3L259.3,397.7L261.7,396.7L261.9,396.6L264.5,394.6L265.1,394.1L267.0,392.2L267.8,391.5L269.6,389.4L270.0,388.9L272.0,386.4L272.2,386.1L273.6,383.8L274.7,381.9L275.3,381.2L277.3,379.0L278.8,378.7L279.9,378.2L282.5,378.2L284.9,378.7L285.0,378.7L287.6,378.8L290.2,379.0L292.7,379.1L295.3,379.2L297.9,379.6L300.5,380.3L302.0,381.2L303.0,381.7L304.5,383.8L305.2,386.4L305.5,388.9L305.6,389.9L305.8,391.5L306.0,394.1L306.2,396.7L306.3,399.2L306.3,401.8L306.3,404.4L306.3,406.9L306.2,409.5L306.1,412.1L305.9,414.7L305.7,417.2L305.6,418.7L305.5,419.8L305.2,422.4L304.7,424.9L304.1,427.5L303.2,430.1L303.0,430.5L301.4,432.7L300.5,433.5L297.9,434.5L295.3,434.3L292.7,433.7L290.2,433.3L287.6,433.5L285.0,434.1L282.5,435.1L282.2,435.2L279.9,436.5L277.3,437.2L274.7,436.9L272.2,436.5L269.6,436.3L267.0,436.4L264.5,436.5L261.9,436.6L259.3,436.6L256.7,436.6L254.2,436.7L251.6,437.3L250.8,437.8L249.0,440.2L248.9,440.4L248.0,442.9L247.3,445.5L246.6,448.1L246.5,448.6L245.7,450.7L244.7,453.2L243.9,455.8L246.5,457.9L249.0,457.8L251.6,457.6L254.2,457.5L256.7,457.5L259.3,457.6L261.9,457.8L264.5,458.2L264.9,458.4L267.0,458.9L269.6,459.9L271.7,460.9L272.2,461.3L274.1,463.5L274.7,464.5L275.7,466.1L276.9,468.7L277.3,469.8L278.0,471.2L279.1,473.8L279.9,475.9L280.1,476.4L281.5,478.9L282.5,481.1L282.7,481.5L283.7,484.1L284.7,486.7L285.0,487.5L285.6,489.2L286.4,491.8M181.3,480.6L182.2,481.1L183.2,481.5L184.7,482.2L187.3,483.0L189.9,483.7L191.5,484.1L192.5,484.3L195.0,484.3L195.3,484.1L197.6,482.1L198.1,481.5L200.0,478.9L200.2,478.6L201.6,476.4L202.7,474.2L202.9,473.8L204.2,471.2L205.2,468.7L205.3,468.4L206.2,466.1L207.0,463.5L207.5,460.9L207.9,458.5L207.9,458.4L208.1,455.8L208.1,453.2L207.9,451.2L207.8,450.7L207.4,448.1L206.7,445.5L205.7,442.9L205.4,440.4L205.5,437.8L206.0,435.2L206.9,432.7L207.9,430.5L208.0,430.1L208.7,427.5L209.6,424.9L210.5,423.1L210.8,422.4L212.2,419.8L213.0,417.3L213.1,417.2L213.8,414.7L214.4,412.1L214.9,409.5L215.3,406.9L215.6,404.4L215.6,404.2L216.0,401.8L216.4,399.2L216.4,396.7L215.6,395.1L213.0,395.3L210.5,394.6L207.9,394.6L205.3,395.7L203.7,396.7L202.7,397.1L200.2,398.7L199.5,399.2L197.8,401.8L197.6,402.1L195.9,404.4L195.0,405.2L192.5,406.6L191.7,406.9L189.9,407.9L187.3,409.3L187.1,409.5L184.7,411.1L183.5,412.1L182.2,413.1L180.2,414.7L179.6,415.2M313.3,352.2L315.9,351.6L318.5,352.5L318.7,352.9L318.5,353.7L317.8,355.5L315.9,357.4L315.1,358.1L313.3,359.3L310.7,360.4L309.3,360.7L308.2,360.7L305.6,361.0L303.0,361.4L300.5,361.6L297.9,360.9L297.0,360.7L297.9,360.1L299.7,358.1L300.5,357.9L303.0,357.9L304.5,358.1L305.6,358.8L306.1,358.1L308.2,356.5L308.9,355.5L310.7,353.9L312.0,352.9L313.3,352.2M277.3,360.2L279.9,359.2L282.5,358.8L285.0,358.9L287.6,359.6L289.6,360.7L288.2,363.2L287.6,364.8L286.7,365.8L285.0,367.4L283.7,368.4L282.5,369.1L280.4,370.9L279.9,371.4L277.3,373.5L277.2,373.5L274.7,374.9L272.2,375.8L271.5,376.1L269.6,377.4L267.0,378.4L265.0,378.7L264.5,378.7L263.7,378.7L261.9,378.4L259.3,376.7L256.7,376.5L254.2,376.7L251.6,377.1L249.0,377.6L246.5,378.2L245.0,378.7L243.9,378.8L241.3,379.3L238.7,380.0L236.2,380.5L233.6,380.7L231.0,380.4L228.5,378.8L228.3,378.7L227.7,376.1L228.3,373.5L228.5,373.2L229.1,370.9L229.7,368.4L230.5,365.8L231.0,364.2L231.8,363.2L233.6,360.8L236.2,361.0L238.7,362.6L239.5,363.2L241.3,364.9L242.4,365.8L243.9,367.5L245.0,368.4L246.5,369.9L248.2,370.9L249.0,371.8L251.6,373.2L252.6,373.5L254.2,375.0L256.7,375.7L259.3,375.5L260.3,373.5L261.9,371.9L262.7,370.9L264.5,369.8L266.1,368.4L267.0,367.8L269.4,365.8L269.6,365.7L272.2,363.8L272.9,363.2L274.7,362.0L276.5,360.7L277.3,360.2M196.7,329.8L197.6,330.7L199.2,332.4L200.2,333.3L201.7,334.9L202.7,336.0L204.1,337.5L205.3,338.8L206.4,340.1L207.9,341.7L208.7,342.7L210.5,344.7L210.9,345.2L213.0,347.7L213.1,347.8L215.1,350.4L215.6,351.1L216.4,352.9L216.8,355.5L216.7,358.1L216.4,360.7L216.1,363.2L215.7,365.8L215.6,366.4L215.2,368.4L214.5,370.9L213.7,373.5L213.0,375.2L212.7,376.1L211.7,378.7L210.7,381.2L210.5,381.8L209.3,383.8L207.9,385.3L206.9,386.4L205.3,387.7L203.9,388.9L202.7,389.9L200.7,391.5L200.2,391.9L197.6,393.4L196.6,394.1L195.0,395.2L193.1,396.7L192.5,397.3L190.3,399.2L189.9,399.7L187.3,401.5L186.8,401.8L184.7,403.0L182.6,404.4L182.2,404.7L179.6,406.3M245.5,491.8L246.2,489.2L246.5,488.3L247.0,486.7L247.9,484.1L248.9,481.5L249.0,481.1L250.0,478.9L251.4,476.4L251.6,475.9L253.1,473.8L254.2,472.4L255.6,471.2L256.7,470.3L259.3,469.2L261.9,469.2L264.5,470.3L265.6,471.2L267.0,472.5L268.0,473.8L269.6,476.2L269.7,476.4L270.9,478.9L272.0,481.5L272.2,482.1L272.8,484.1L273.6,486.7L274.2,489.2L274.7,491.5L274.8,491.8M290.2,387.8L292.7,386.9L295.3,386.7L297.9,387.3L300.5,388.9L300.5,388.9L301.5,391.5L302.2,394.1L302.7,396.7L302.9,399.2L303.0,401.8L303.0,402.2L303.1,404.4L303.1,406.9L303.0,407.8L302.9,409.5L302.7,412.1L302.4,414.7L302.0,417.2L301.3,419.8L300.5,422.3L300.4,422.4L299.3,424.9L297.9,427.1L297.3,427.5L295.3,428.4L292.7,428.3L290.2,428.1L287.6,428.0L285.0,428.2L282.5,428.6L279.9,429.0L277.3,429.1L274.7,428.5L272.2,427.9L269.6,427.8L267.0,427.6L266.4,427.5L264.5,427.2L261.9,426.7L259.3,425.8L257.8,424.9L256.7,423.9L255.0,422.4L254.2,421.9L252.5,422.4L251.6,422.6L249.0,423.8L246.8,424.9L246.5,425.1L243.9,426.2L241.3,426.2L238.7,425.8L236.2,425.5L233.6,425.8L231.0,426.9L229.9,427.5L228.5,428.3L226.1,430.1L225.9,430.3L224.0,432.7L223.6,435.2L223.5,437.8L223.7,440.4L223.7,442.9L223.3,443.5L220.7,444.1L218.2,443.5L216.5,442.9L215.6,442.6L213.0,441.0L212.4,440.4L211.6,437.8L211.8,435.2L212.6,432.7L213.0,431.4L213.7,430.1L215.2,427.5L215.6,426.8L218.2,425.3L218.9,424.9L220.2,422.4L220.5,419.8L220.7,418.8L221.1,417.2L222.1,414.7L223.2,412.1L223.3,411.8L225.8,409.5L225.9,409.5L228.5,409.1L231.0,408.2L233.6,407.6L236.2,407.7L238.7,407.7L241.3,407.5L243.9,407.7L246.5,408.6L248.2,409.5L249.0,410.0L251.6,411.4L253.4,412.1L254.2,412.5L256.7,413.0L259.0,412.1L259.3,412.0L261.9,410.8L263.2,409.5L264.5,408.5L266.0,406.9L267.0,406.0L268.6,404.4L269.6,403.5L271.3,401.8L272.2,401.0L274.1,399.2L274.7,398.6L276.9,396.7L277.3,396.2L279.5,394.1L279.9,393.7L282.5,391.8L283.0,391.5L285.0,390.3L287.6,389.1L287.8,388.9L290.2,387.8M186.0,336.3L187.3,337.3L187.6,337.5L189.9,339.4L190.6,340.1L192.5,341.8L193.4,342.7L195.0,344.2L196.2,345.2L197.6,346.5L199.0,347.8L200.2,348.9L201.8,350.4L202.7,351.2L204.8,352.9L205.3,353.4L207.6,355.5L207.9,355.9L209.4,358.1L210.4,360.7L210.4,363.2L210.1,365.8L209.5,368.4L208.8,370.9L207.9,373.5L207.9,373.6L206.8,376.1L205.6,378.7L205.3,379.1L204.0,381.2L202.7,382.7L201.8,383.8L200.2,385.4L199.0,386.4L197.6,387.4L195.3,388.9L195.0,389.1L192.5,390.8L191.4,391.5L189.9,392.6L187.6,394.1L187.3,394.3L184.7,395.5L182.2,396.5L181.8,396.7L179.6,397.5M287.6,393.7L290.2,392.5L292.7,391.9L295.3,392.2L297.9,393.8L298.1,394.1L299.1,396.7L299.7,399.2L300.0,401.8L300.2,404.4L300.2,406.9L300.1,409.5L299.8,412.1L299.3,414.7L298.6,417.2L297.9,419.2L297.6,419.8L296.0,422.4L295.3,423.2L292.7,423.8L290.2,423.9L287.6,423.8L285.0,423.5L282.5,423.4L279.9,423.4L277.3,422.7L276.8,422.4L274.7,421.1L273.1,419.8L272.2,418.9L270.8,417.2L270.0,414.7L270.7,412.1L272.2,409.6L272.2,409.5L274.0,406.9L274.7,406.0L276.0,404.4L277.3,402.8L278.3,401.8L279.9,400.1L280.7,399.2L282.5,397.5L283.4,396.7L285.0,395.4L287.0,394.1L287.6,393.7M179.6,346.4L182.2,347.6L182.4,347.8L184.7,349.0L187.0,350.4L187.3,350.5L189.9,352.1L191.1,352.9L192.5,353.9L194.7,355.5L195.0,355.8L197.6,357.9L197.8,358.1L200.1,360.7L200.2,360.7L202.2,363.2L202.7,365.2L202.9,365.8L202.7,366.7L202.5,368.4L201.9,370.9L201.0,373.5L200.2,375.3L199.8,376.1L198.1,378.7L197.6,379.2L195.8,381.2L195.0,381.9L192.8,383.8L192.5,384.1L189.9,385.6L188.5,386.4L187.3,387.0L184.7,387.9L182.2,388.6L179.6,388.8M287.6,398.7L290.2,397.4L292.7,397.1L295.3,398.6L295.7,399.2L296.6,401.8L297.0,404.4L297.1,406.9L296.9,409.5L296.6,412.1L295.9,414.7L295.3,416.0L294.6,417.2L292.7,418.9L290.2,419.8L290.2,419.8L287.6,419.9L287.3,419.8L285.0,419.3L282.5,418.3L280.4,417.2L279.9,416.8L277.8,414.7L277.5,412.1L278.4,409.5L279.9,407.0L279.9,406.9L281.8,404.4L282.5,403.6L284.1,401.8L285.0,400.9L286.9,399.2L287.6,398.7M179.6,360.6L182.2,360.5L183.3,360.7L184.7,361.0L187.3,362.3L188.4,363.2L189.9,364.8L190.6,365.8L191.4,368.4L191.3,370.9L190.2,373.5L189.9,373.9L187.3,376.1L187.2,376.1L184.7,376.8L182.2,377.0L179.6,376.8M287.6,406.3L290.2,404.4L292.2,406.9L292.3,409.5L291.3,412.1L290.2,413.2L287.6,413.1L286.4,412.1L285.7,409.5L287.1,406.9L287.6,406.3" fill="none" stroke="#555" stroke-width="0.42" stroke-opacity="0.85"/></g>
<circle cx="260.60" cy="410.80" r="72.4" fill="none" stroke="#2a2a2a" stroke-width="0.8"/>
<path d="M245.44,340.01L260.60,327.54L275.76,340.01M332.57,402.76L334.45,399.58L335.61,399.46L337.33,400.00L339.07,402.76L338.79,411.60L339.81,424.30L337.63,429.81L334.45,430.84L331.41,428.16M188.63,402.76L186.75,399.58L185.59,399.46L183.87,400.00L182.13,402.76L182.41,411.60L181.39,424.30L183.57,429.81L186.75,430.84L189.79,428.16" fill="none" stroke="#3a3a3a" stroke-width="0.7" stroke-linejoin="round"/>
<text x="241.2" y="332.7" class="el">Fp1</text>
<text x="281.2" y="332.7" class="el">Fp2</text>
<text x="261.2" y="331.7" class="el">Fpz</text>
<text x="224.2" y="342.2" class="el">AF7</text>
<text x="298.2" y="342.2" class="el">AF8</text>
<text x="241.2" y="343.2" class="el">AF3</text>
<text x="281.2" y="343.2" class="el">AF4</text>
<text x="261.2" y="343.2" class="el">AFz</text>
<text x="213.7" y="360.2" class="el">F7</text>
<text x="308.7" y="360.2" class="el">F8</text>
<text x="222.2" y="361.2" class="el">F5</text>
<text x="300.2" y="361.2" class="el">F6</text>
<text x="232.7" y="360.7" class="el">F3</text>
<text x="289.7" y="360.7" class="el">F4</text>
<text x="246.2" y="360.2" class="el">F1</text>
<text x="276.2" y="360.2" class="el">F2</text>
<text x="261.2" y="359.9" class="el">Fz</text>
<text x="208.2" y="379.2" class="el">FT7</text>
<text x="314.2" y="379.2" class="el">FT8</text>
<text x="217.2" y="379.2" class="el">FC5</text>
<text x="305.2" y="379.2" class="el">FC6</text>
<text x="228.7" y="378.7" class="el">FC3</text>
<text x="293.7" y="378.7" class="el">FC4</text>
<text x="244.2" y="378.2" class="el">FC1</text>
<text x="278.2" y="378.2" class="el">FC2</text>
<text x="261.2" y="377.7" class="el">FCz</text>
<text x="207.2" y="399.9" class="el">T7</text>
<text x="315.2" y="399.9" class="el">T8</text>
<text x="216.2" y="398.9" class="el">C5</text>
<text x="306.2" y="398.9" class="el">C6</text>
<text x="227.2" y="397.8" class="el">C3</text>
<text x="295.2" y="397.8" class="el">C4</text>
<text x="243.2" y="397.2" class="el">C1</text>
<text x="279.2" y="397.2" class="el">C2</text>
<text x="261.2" y="396.4" class="el">Cz</text>
<text x="208.2" y="419.0" class="el">TP7</text>
<text x="314.2" y="419.0" class="el">TP8</text>
<text x="216.7" y="416.9" class="el">CP5</text>
<text x="305.7" y="416.9" class="el">CP6</text>
<text x="228.2" y="415.8" class="el">CP3</text>
<text x="294.2" y="415.8" class="el">CP4</text>
<text x="243.7" y="415.3" class="el">CP1</text>
<text x="278.7" y="415.3" class="el">CP2</text>
<text x="261.2" y="415.1" class="el">CPz</text>
<text x="206.2" y="443.5" class="el">P9</text>
<text x="316.2" y="443.5" class="el">P10</text>
<text x="216.7" y="435.4" class="el">P7</text>
<text x="305.7" y="435.4" class="el">P8</text>
<text x="223.7" y="433.7" class="el">P5</text>
<text x="298.7" y="433.7" class="el">P6</text>
<text x="233.2" y="432.6" class="el">P3</text>
<text x="289.2" y="432.6" class="el">P4</text>
<text x="246.2" y="431.9" class="el">P1</text>
<text x="276.2" y="431.9" class="el">P2</text>
<text x="261.2" y="431.9" class="el">Pz</text>
<text x="228.2" y="448.9" class="el">PO7</text>
<text x="294.2" y="448.9" class="el">PO8</text>
<text x="241.7" y="445.4" class="el">PO3</text>
<text x="280.7" y="445.4" class="el">PO4</text>
<text x="261.2" y="444.6" class="el">POz</text>
<text x="243.7" y="456.6" class="el">O1</text>
<text x="278.7" y="456.6" class="el">O2</text>
<text x="261.2" y="457.1" class="el">Oz</text>
<text x="261.2" y="468.5" class="el">Iz</text>
<g clip-path="url(#cp5)"><g filter="url(#blr)"><rect x="349.3" y="327.8" width="166.0" height="166.0" fill="#f1f0f6"/><path d="M350.3,328.8L513.8,328.8L513.8,492.3L350.3,492.3ZM420.8,360.2L416.3,361.4L414.8,362.6L413.5,364.8L411.2,376.8L407.3,386.8L407.7,390.3L410.1,394.8L413.3,397.3L416.3,398.1L422.3,397.5L425.4,396.3L430.3,393.3L434.4,388.8L436.2,384.3L436.6,369.3L435.2,364.8L432.8,362.7L429.8,361.3L425.3,360.3Z" fill="#eeecf4" fill-rule="evenodd"/><path d="M350.3,328.8L513.8,328.8L513.8,492.3L350.3,492.3ZM416.3,357.1L412.9,358.8L410.3,361.9L407.0,375.3L404.3,382.8L403.8,385.8L404.8,391.8L406.9,396.3L410.3,400.4L413.3,401.2L423.8,400.4L427.8,399.3L434.5,396.3L437.3,394.2L440.3,390.7L442.0,387.3L443.0,382.8L442.5,366.3L441.8,363.2L440.0,360.3L435.8,357.9L429.8,356.5L420.8,356.0ZM471.8,446.7L467.3,448.3L464.7,450.3L463.6,451.8L463.4,453.3L464.3,454.6L465.8,455.0L467.3,454.6L473.1,450.3L474.0,448.8L473.8,447.3Z" fill="#e8e7f2" fill-rule="evenodd"/><path d="M350.3,328.8L513.8,328.8L513.8,492.3L350.3,492.3ZM380.3,463.5L374.6,466.8L370.7,471.3L370.9,474.3L372.8,476.9L375.8,477.5L378.8,476.3L383.3,472.7L387.0,468.3L387.9,465.3L387.3,463.8L386.3,463.1L383.3,462.7ZM420.8,352.6L413.3,355.1L408.8,358.8L407.2,361.8L401.5,381.3L401.0,387.3L402.5,394.8L405.2,400.8L407.3,403.4L408.8,404.2L419.3,403.6L428.3,401.8L436.2,399.3L439.5,397.8L443.0,394.8L444.8,391.8L445.7,388.8L446.6,381.3L446.8,367.8L446.3,362.9L444.7,358.8L441.4,355.8L435.8,353.7L423.8,352.4ZM477.8,439.7L473.3,440.9L464.3,445.7L456.6,451.8L455.3,453.3L454.9,454.8L456.4,456.3L459.7,457.8L464.3,459.0L467.3,458.1L472.9,454.8L478.8,450.3L482.4,445.8L482.5,444.3L481.3,441.3L479.3,439.9ZM431.3,453.2L429.3,454.8L429.1,456.3L431.3,457.5L436.6,457.8L440.8,456.3L440.0,454.8L437.3,453.3L434.3,452.6Z" fill="#e3e2ef" fill-rule="evenodd"/><path d="M350.3,328.8L513.8,328.8L513.8,421.9L506.9,420.3L500.3,421.3L498.8,421.9L492.8,427.1L489.8,429.0L486.8,430.4L482.3,430.8L479.3,432.3L471.2,438.3L464.3,441.5L458.3,446.5L452.3,450.2L449.3,451.3L441.8,451.9L435.8,450.5L432.8,450.3L429.8,451.3L426.6,453.3L424.7,454.8L423.9,456.3L425.0,457.8L430.3,459.3L435.8,459.6L447.8,458.4L461.3,461.5L464.3,461.6L477.8,455.1L483.8,455.0L489.2,453.3L493.1,450.3L494.2,447.3L494.8,442.8L498.8,438.3L504.8,435.3L513.8,433.2L513.8,455.4L510.8,458.2L509.9,460.8L509.6,463.8L510.8,471.3L513.4,478.8L513.8,478.8L513.8,492.3L372.9,492.3L387.8,476.0L395.8,463.8L396.3,460.8L395.3,458.9L392.3,457.1L386.3,455.9L380.3,457.2L374.3,460.6L366.4,466.8L360.8,472.8L359.7,475.8L358.9,481.8L357.4,484.8L357.8,486.3L363.6,492.3L350.3,492.3ZM420.8,349.6L413.3,351.8L410.3,353.6L407.3,356.5L405.2,360.3L399.1,379.8L398.2,387.3L399.7,397.8L402.0,403.8L404.3,406.4L405.8,407.2L408.8,407.4L420.8,405.7L439.7,400.8L445.5,397.8L448.0,394.8L449.2,391.8L449.7,387.3L449.5,364.8L448.7,358.8L447.5,355.8L444.8,352.8L438.8,350.3L426.8,349.0Z" fill="#dedded" fill-rule="evenodd"/><path d="M350.3,328.8L513.8,328.8L513.8,413.9L501.8,414.4L492.8,416.7L488.8,418.8L483.8,422.9L471.8,434.1L462.8,438.7L453.8,445.9L447.8,448.1L431.3,448.8L420.8,453.9L418.1,456.3L418.9,457.8L428.3,460.3L434.3,460.9L444.8,460.0L450.8,462.3L461.3,464.0L464.3,463.8L471.8,460.6L473.3,460.4L494.3,466.1L497.3,468.0L501.8,472.3L509.3,483.2L513.8,479.3L513.8,492.3L379.5,492.3L389.3,480.0L395.3,470.1L402.5,463.8L403.8,462.3L405.0,459.3L404.4,457.8L399.2,454.8L384.8,451.5L381.8,451.9L377.3,453.8L362.8,463.8L354.5,471.3L351.2,475.8L350.3,477.9ZM428.3,345.2L416.3,347.4L411.8,349.2L406.4,352.8L403.7,357.3L399.8,372.1L395.8,381.3L395.0,393.3L396.0,403.8L396.8,406.2L398.6,408.3L402.8,410.3L405.8,410.5L420.8,407.8L440.3,402.9L448.4,399.3L450.8,396.9L451.8,394.8L452.5,388.8L451.6,379.8L451.7,360.3L450.4,352.8L447.8,349.2L441.8,346.3L435.8,345.1ZM350.3,492.3L350.3,478.8L363.2,492.3Z" fill="#d8d8ea" fill-rule="evenodd"/><path d="M350.3,328.8L422.0,328.8L421.9,333.3L424.8,337.8L423.8,339.1L419.3,342.3L407.3,346.9L404.3,348.9L402.8,350.7L401.5,354.3L401.1,361.8L399.0,369.3L397.7,372.3L393.0,379.8L390.8,386.8L390.5,391.8L391.0,402.3L392.4,409.8L393.8,412.0L395.0,412.8L398.3,413.7L401.3,413.7L423.8,409.2L444.8,403.8L452.3,399.9L453.8,397.8L454.6,391.8L453.6,379.8L454.0,358.8L453.4,349.8L452.3,345.4L449.8,342.3L447.8,340.7L441.7,337.8L445.5,328.8L513.8,328.8L513.8,409.1L495.8,409.8L491.3,410.6L486.8,412.4L485.3,413.5L480.2,420.3L471.8,429.6L468.8,431.9L461.3,436.1L453.3,442.8L449.3,444.8L444.7,445.8L432.8,446.7L414.8,451.9L410.3,452.5L402.8,452.1L384.8,447.9L380.3,447.7L350.3,462.2ZM488.3,343.5L483.8,347.2L480.9,351.3L480.4,354.3L480.7,355.8L482.3,357.2L486.8,357.4L491.3,356.0L496.3,352.8L498.5,349.8L498.3,346.8L495.5,343.8L491.3,342.6ZM504.8,376.1L503.3,376.9L502.4,378.3L502.8,379.8L506.3,380.4L508.2,379.8L508.5,378.3L507.8,377.2L506.3,376.1ZM411.8,462.2L420.8,460.2L432.8,461.9L443.3,461.4L450.8,464.5L461.3,466.1L468.8,464.1L470.3,464.1L487.3,471.3L495.8,475.7L500.3,479.6L505.7,486.3L506.3,486.5L507.8,485.3L513.8,479.8L513.8,492.3L384.3,492.3L389.3,485.1L395.3,474.3L398.3,470.3L408.8,463.6ZM350.3,492.3L350.3,479.6L362.7,492.3Z" fill="#d0d1e6" fill-rule="evenodd"/><path d="M350.3,328.8L380.0,328.8L381.3,333.3L383.5,336.3L389.2,340.8L395.3,344.1L397.5,346.8L398.9,352.8L399.6,358.8L398.3,366.1L396.8,369.8L393.8,374.0L390.8,377.1L387.8,378.9L386.3,379.2L384.8,378.2L380.3,366.9L374.5,357.3L372.6,351.3L370.8,348.3L368.3,345.8L365.3,344.6L362.3,344.8L360.8,345.4L359.5,346.8L359.4,349.8L357.5,354.3L357.6,357.3L359.1,361.8L361.7,366.3L365.3,371.1L372.8,378.0L383.0,382.8L384.2,384.3L386.0,390.3L387.3,399.3L386.0,409.8L386.3,415.8L386.7,417.3L387.8,418.7L388.6,418.8L393.8,418.3L413.3,413.3L441.8,406.9L450.8,403.1L453.8,403.0L455.2,402.3L456.9,399.3L457.6,396.3L455.5,379.8L455.6,367.8L456.8,354.3L458.2,351.3L459.8,349.4L464.3,346.7L467.3,346.3L468.3,348.3L468.9,355.8L470.3,360.5L473.3,364.3L478.5,367.8L483.0,375.3L484.3,379.8L482.8,385.8L476.1,400.8L475.9,405.3L477.5,409.8L477.8,412.8L476.4,417.3L473.3,421.8L467.8,427.8L461.3,432.1L452.3,440.2L446.3,442.8L429.8,445.4L413.3,449.3L407.3,449.7L401.3,449.3L395.3,448.0L389.3,445.8L381.8,441.7L380.3,441.7L363.8,448.3L350.3,452.8ZM405.0,328.8L405.8,328.8L406.2,328.8L405.8,329.1ZM455.6,331.8L455.3,328.8L470.2,328.8L467.3,335.7L465.9,337.8L464.3,338.9L462.8,338.9L460.6,337.8L458.3,335.8ZM501.8,328.8L513.8,328.8L513.8,340.9L506.3,333.4ZM497.6,396.3L506.3,395.1L510.6,396.3L510.2,397.8L508.2,399.3L503.6,400.8L500.3,401.1L496.8,400.8L494.1,399.3L494.7,397.8ZM420.3,462.3L423.8,461.8L432.8,462.9L441.8,462.5L452.3,466.8L461.3,468.1L467.3,467.0L482.1,474.3L491.3,479.7L498.8,485.3L503.3,490.6L513.8,480.3L513.8,492.3L387.9,492.3L395.8,477.3L400.3,471.3L408.8,466.1ZM350.3,492.3L350.3,480.3L362.3,492.3Z" fill="#c9c9e2" fill-rule="evenodd"/><path d="M384.7,348.3L392.3,350.0L395.3,349.8L396.9,352.8L397.8,358.8L396.8,364.8L393.8,370.0L390.8,372.1L389.3,371.6L386.3,369.3L383.1,360.3L381.8,350.6L383.3,348.5ZM461.2,357.3L464.3,355.9L467.9,363.3L476.9,373.8L478.7,379.8L478.2,384.3L476.3,390.0L469.1,402.3L468.5,406.8L469.1,415.8L468.3,418.8L465.8,423.1L452.3,436.8L449.3,438.8L444.8,440.4L414.8,446.7L408.8,447.4L402.8,447.4L398.3,446.7L390.6,442.8L389.0,441.3L387.4,438.3L386.4,429.3L390.4,423.3L392.1,421.8L414.8,415.1L440.3,409.4L450.8,405.4L456.8,406.6L459.3,405.3L461.0,402.3L461.7,397.8L458.5,387.3L457.4,379.8L458.4,364.8L459.8,359.2ZM350.3,446.5L350.3,357.9L356.3,367.8L362.8,375.3L369.8,380.9L380.3,387.6L383.4,394.8L384.3,400.8L381.3,423.3L378.2,433.8L375.8,438.3L362.3,443.0ZM421.4,463.8L425.3,463.1L432.8,463.9L440.3,463.6L452.3,468.6L459.8,469.9L464.3,469.5L465.6,469.8L485.3,481.1L492.8,486.5L499.5,492.3L390.4,492.3L396.8,479.2L401.5,472.8L408.8,468.3Z" fill="#c1c2df" fill-rule="evenodd"/><path d="M390.6,355.8L392.3,354.7L393.8,354.4L395.1,355.8L395.5,357.3L395.3,362.0L393.8,365.1L392.3,366.4L390.8,366.4L389.3,365.0L387.9,361.8L388.2,358.8ZM461.8,366.3L462.8,364.8L464.3,365.1L468.8,369.1L473.4,375.3L475.0,379.8L474.2,384.3L471.8,389.4L467.8,393.3L465.8,394.1L464.3,393.3L462.2,390.3L459.6,381.3L460.3,372.3ZM350.3,441.4L350.3,367.3L354.7,372.3L361.5,378.3L374.3,388.5L378.8,391.3L380.8,394.8L381.6,400.8L380.3,410.9L376.0,429.3L374.3,434.0L368.3,436.7ZM447.6,408.3L452.3,407.7L455.3,409.0L460.8,412.8L462.8,415.8L463.0,417.3L461.3,421.8L458.3,426.7L452.3,433.1L447.8,436.3L435.8,440.1L416.3,444.3L405.8,445.5L398.3,444.8L396.8,444.0L392.3,440.4L390.0,436.8L389.8,432.3L390.9,427.8L392.3,425.1L394.9,423.3L411.8,417.9L438.8,411.7ZM421.6,465.3L426.8,464.2L432.8,464.8L438.8,464.7L443.3,466.0L452.3,470.3L459.8,471.8L462.8,471.8L479.8,481.8L493.5,492.3L392.3,492.3L398.2,480.3L402.8,474.1L408.8,470.3Z" fill="#bbbbdb" fill-rule="evenodd"/><path d="M462.6,375.3L464.3,371.2L465.8,371.5L469.9,375.3L471.4,378.3L471.3,381.3L470.3,383.6L467.3,387.2L465.8,387.8L464.3,386.8L462.3,381.3ZM350.3,436.9L350.3,372.4L372.8,391.4L375.8,393.3L378.2,396.3L379.1,400.8L378.3,406.8L376.1,414.3L374.0,426.3L372.8,429.9L369.8,431.9L365.3,433.6ZM431.3,416.0L449.3,410.0L452.3,410.2L456.8,413.3L458.6,415.8L458.9,417.3L457.6,421.8L454.8,426.3L450.8,430.6L446.0,433.8L435.8,437.6L419.3,441.5L407.3,443.6L398.3,442.8L395.3,440.8L392.2,436.8L391.7,433.8L392.6,429.3L393.8,427.1L396.8,425.1L405.8,421.5ZM421.5,466.8L428.3,465.3L438.8,465.9L444.8,468.0L452.3,471.9L461.3,473.9L476.4,483.3L488.1,492.3L394.0,492.3L399.3,481.8L404.3,475.2L408.8,472.3Z" fill="#b3b3d6" fill-rule="evenodd"/><path d="M350.3,433.2L350.3,375.8L362.7,385.8L371.3,394.0L374.3,396.3L375.8,398.5L376.4,400.8L375.9,405.3L373.6,412.8L372.4,421.8L371.3,425.9L368.3,428.2L363.8,430.2ZM447.0,412.8L450.8,412.7L453.2,414.3L454.7,417.3L454.3,420.3L452.9,423.3L450.8,426.3L441.2,432.3L434.3,434.9L419.3,439.0L407.3,441.6L404.3,441.7L398.3,440.5L396.7,439.8L394.4,436.8L393.8,433.8L395.3,429.4L404.3,424.1L408.8,422.7L414.8,422.2L434.3,418.2L442.3,414.3ZM426.7,466.8L435.8,466.6L438.8,467.2L444.8,469.3L453.8,474.1L459.8,475.9L474.8,485.6L482.8,492.3L395.9,492.3L400.3,483.3L405.8,476.2L417.8,469.7Z" fill="#acaad1" fill-rule="evenodd"/><path d="M350.3,429.7L350.3,378.9L363.8,390.3L372.6,399.3L373.5,402.3L373.1,405.3L371.1,411.3L370.1,420.3L368.4,423.3L365.3,425.4L360.8,427.3ZM445.4,417.3L447.8,417.2L448.7,418.8L447.8,421.2L446.3,422.2L444.8,422.3L443.8,421.8L443.0,420.3L443.4,418.8ZM414.8,425.4L435.8,423.4L438.6,424.8L438.6,426.3L437.5,427.8L432.3,430.8L417.8,436.3L407.3,439.1L404.3,439.2L398.3,437.6L396.5,435.3L396.4,433.8L398.0,430.8L399.8,429.3L405.8,425.9L408.8,425.2ZM425.5,468.3L429.8,467.6L435.8,467.8L440.3,468.8L444.8,470.7L453.8,475.8L458.3,477.7L464.7,481.8L472.9,487.8L477.5,492.3L397.8,492.3L402.3,483.3L407.3,477.4L417.8,471.1Z" fill="#a4a1cc" fill-rule="evenodd"/><path d="M350.3,426.3L350.3,382.2L353.3,384.4L361.6,391.8L369.3,400.8L370.2,403.8L368.6,409.8L368.2,415.8L366.8,419.0L363.8,421.6L360.7,423.3ZM406.0,429.3L411.8,430.0L413.5,430.8L413.7,432.3L411.9,433.8L405.8,435.8L402.6,435.3L401.3,434.5L400.8,433.8L401.3,432.3ZM424.5,469.8L429.8,468.8L434.3,468.8L438.8,469.6L443.3,471.3L448.8,474.3L462.7,483.3L468.1,487.8L472.3,492.3L399.9,492.3L403.5,484.8L408.5,478.8L417.3,472.8Z" fill="#9d99c7" fill-rule="evenodd"/><path d="M350.3,422.5L350.3,385.9L359.3,393.5L363.8,399.3L366.3,403.8L366.4,405.3L365.5,412.8L363.7,415.8L360.8,418.4L357.8,420.1ZM424.0,471.3L429.8,470.1L434.3,470.1L438.8,471.0L443.3,472.8L448.5,475.8L458.5,483.3L463.6,487.8L467.6,492.3L402.3,492.3L405.8,484.9L411.4,478.8L417.4,474.3Z" fill="#9591c4" fill-rule="evenodd"/><path d="M350.3,418.2L350.3,390.4L354.8,393.7L358.6,397.8L361.1,402.3L361.9,406.8L360.8,411.0L358.1,414.3L354.8,416.5ZM424.0,472.8L429.8,471.5L434.3,471.6L438.8,472.5L442.8,474.3L457.9,486.3L463.1,492.3L405.0,492.3L407.3,487.2L411.7,481.8L418.1,475.8Z" fill="#8e8ac0" fill-rule="evenodd"/><path d="M350.3,397.8L353.5,400.8L354.8,405.3L354.3,408.3L353.4,409.8L350.3,411.7ZM425.2,474.3L432.8,473.4L437.3,474.2L440.3,475.5L452.6,486.3L458.0,492.3L408.5,492.3L410.8,487.8L414.2,483.3L420.0,477.3Z" fill="#8683bd" fill-rule="evenodd"/><path d="M426.3,477.3L431.3,476.1L436.5,477.3L446.1,486.3L450.5,492.3L413.9,492.3L415.1,489.3L417.8,485.2Z" fill="#7f7bb9" fill-rule="evenodd"/></g><path d="M367.6,491.8L369.3,490.5L370.8,489.2L371.9,488.5L374.1,486.7L374.4,486.4L377.0,484.2L377.1,484.1L379.6,481.9L379.9,481.5L382.2,479.4L382.5,478.9L384.7,476.6L385.0,476.4L387.1,473.8L387.3,473.6L389.0,471.2L389.9,470.0L390.7,468.7L392.2,466.1L392.4,465.4L393.1,463.5L392.7,460.9L392.4,460.6L389.9,459.0L387.8,458.4L387.3,458.3L384.7,458.3L384.3,458.4L382.2,458.9L379.6,459.9L377.5,460.9L377.0,461.2L374.4,462.9L373.6,463.5L371.9,464.8L370.2,466.1L369.3,466.9L367.4,468.7L366.7,469.4L365.2,471.2L364.2,473.2L363.9,473.8L363.7,476.4L363.8,478.9L364.0,481.5L363.9,484.1L363.4,486.7L362.2,489.2L362.2,489.8M415.6,352.2L413.8,352.9L413.0,353.3L410.4,355.0L409.8,355.5L407.9,357.6L407.5,358.1L406.2,360.7L405.4,363.2L405.3,363.5L404.7,365.8L404.0,368.4L403.2,370.9L402.7,372.4L402.4,373.5L401.6,376.1L400.7,378.7L400.2,380.2L399.9,381.2L399.5,383.8L399.4,386.4L399.5,388.9L399.8,391.5L400.2,393.3L400.3,394.1L401.0,396.7L401.8,399.2L402.7,401.3L403.0,401.8L404.8,404.4L405.3,404.9L407.9,406.1L410.4,406.0L413.0,405.6L415.6,405.4L418.2,405.1L420.7,404.7L422.1,404.4L423.3,404.1L425.9,403.5L428.4,403.0L431.0,402.4L433.1,401.8L433.6,401.7L436.2,400.9L438.7,400.0L440.7,399.2L441.3,398.9L443.9,397.1L444.5,396.7L446.4,394.1L446.5,394.1L447.5,391.5L448.0,388.9L448.2,386.4L448.2,383.8L448.2,381.2L448.2,378.7L448.2,376.1L448.3,373.5L448.4,370.9L448.5,368.4L448.4,365.8L448.2,363.2L447.8,360.7L446.9,358.1L446.4,357.3L445.0,355.5L443.9,354.5L441.3,353.0L441.2,352.9L438.7,352.1L436.2,351.5L433.6,351.1L431.0,350.8L428.4,350.7L425.9,350.4L423.3,350.5L420.7,350.9L418.2,351.4L415.6,352.2M479.9,434.7L479.0,435.2L477.3,436.1L474.7,437.7L474.5,437.8L472.2,439.2L470.2,440.4L469.6,440.7L467.0,442.0L464.8,442.9L464.4,443.1L461.9,445.2L461.6,445.5L459.3,447.3L458.3,448.1L456.7,449.2L454.5,450.7L454.2,451.0L451.6,452.8L450.1,453.2L449.0,454.5L446.4,455.0L443.9,454.3L441.3,453.3L441.2,453.2L438.7,452.4L436.2,451.6L433.6,451.2L431.0,451.8L428.4,453.1L428.3,453.2L426.0,455.8L428.4,458.0L429.2,458.4L431.0,458.7L433.6,458.9L436.2,458.8L438.7,458.6L441.0,458.4L441.3,458.3L443.9,457.1L446.4,456.0L449.0,456.2L451.6,457.3L454.2,458.3L454.2,458.4L456.7,459.0L459.3,459.7L461.9,460.4L464.4,460.6L467.0,459.6L469.6,458.4L469.6,458.4L472.2,456.8L473.8,455.8L474.7,455.2L477.3,453.6L478.1,453.2L479.9,452.1L482.4,450.7L482.4,450.6L485.0,449.1L486.1,448.1L487.5,445.5L487.6,445.3L488.1,442.9L488.1,440.4L487.6,439.1L487.2,437.8L485.0,435.4L484.7,435.2L482.4,434.3L479.9,434.7M383.5,329.8L384.2,332.4L384.7,333.3L385.7,334.9L387.3,336.8L388.0,337.5L389.9,339.0L391.3,340.1L392.4,340.8L395.0,342.3L395.7,342.7L397.6,344.2L398.3,345.2L398.8,347.8L399.2,350.4L399.4,352.9L399.6,355.5L399.9,358.1L399.8,360.7L399.4,363.2L398.7,365.8L397.8,368.4L397.6,369.0L396.5,370.9L395.0,373.2L394.7,373.5L392.5,376.1L392.4,376.2L390.0,378.7L389.9,378.9L387.4,381.2L387.3,381.5L386.2,383.8L386.4,386.4L386.7,388.9L387.1,391.5L387.3,393.1L387.4,394.1L387.7,396.7L387.9,399.2L387.9,401.8L387.6,404.4L387.3,406.0L387.2,406.9L386.8,409.5L386.7,412.1L386.9,414.7L387.3,415.9L388.4,417.2L389.9,417.8L392.4,417.8L395.0,417.4L395.8,417.2L397.6,416.8L400.2,416.3L402.7,415.8L405.3,415.1L406.9,414.7L407.9,414.4L410.4,413.7L413.0,413.0L415.6,412.4L417.4,412.1L418.2,411.9L420.7,411.4L423.3,410.9L425.9,410.3L428.4,409.5L428.6,409.5L431.0,409.0L433.6,408.5L436.2,407.8L438.7,407.1L439.7,406.9L441.3,406.6L443.9,405.9L446.4,404.9L447.5,404.4L449.0,403.5L451.6,402.5L454.2,402.2L454.7,401.8L456.2,399.2L456.7,397.6L457.0,396.7L456.9,394.1L456.7,393.0L456.6,391.5L456.2,388.9L455.9,386.4L455.5,383.8L455.2,381.2L455.2,378.7L455.4,376.1L455.4,373.5L455.3,370.9L455.3,368.4L455.4,365.8L455.7,363.2L456.0,360.7L456.1,358.1L456.2,355.5L456.4,352.9L456.7,351.6L457.4,350.4L459.3,347.8L459.3,347.8L461.9,345.2L461.9,345.2L461.9,345.2L461.5,342.7L459.3,340.8L458.6,340.1L456.7,338.3L456.1,337.5L454.2,335.2L453.9,334.9L452.7,332.4L452.5,329.8M413.1,329.8L413.0,331.5L413.0,332.4L412.4,334.9L411.1,337.5L410.4,337.9L409.5,337.5L407.9,336.5L405.9,334.9L405.3,334.6L402.8,332.4L402.7,332.3L400.3,329.8M476.0,329.8L474.7,332.2L474.6,332.4L473.2,334.9L472.2,337.2L472.0,337.5L470.9,340.1L469.9,342.7L469.6,344.1L469.4,345.2L469.1,347.8L469.1,350.4L469.2,352.9L469.4,355.5L469.6,356.2L470.1,358.1L471.3,360.7L472.2,362.0L473.4,363.2L474.7,364.3L477.3,365.7L477.5,365.8L479.9,368.1L480.1,368.4L482.0,370.9L482.4,371.8L484.1,373.5L485.0,375.7L485.2,376.1L485.9,378.7L486.0,381.2L486.0,383.8L486.3,386.4L486.9,388.9L487.6,390.2L488.7,391.5L490.2,392.5L492.7,392.8L495.3,392.8L497.9,392.6L500.4,392.4L503.0,392.2L505.6,392.0L508.2,391.7L510.7,391.5L510.9,391.5L513.3,391.4M513.3,401.9L510.7,402.6L508.2,403.1L505.6,403.5L503.0,403.6L500.4,403.7L497.9,403.6L495.3,403.4L492.7,403.0L490.2,402.5L488.2,401.8L487.6,401.0L486.6,399.2L485.8,396.7L485.0,395.2L484.5,394.1L482.4,391.7L480.9,394.1L479.9,395.0L479.4,396.7L478.3,399.2L477.6,401.8L478.2,404.4L479.9,406.9L479.9,406.9L480.7,409.5L480.1,412.1L479.9,412.5L478.8,414.7L477.5,417.2L477.3,417.6L475.9,419.8L474.7,421.4L474.0,422.4L472.2,424.5L471.8,424.9L469.6,427.1L469.2,427.5L467.0,429.2L465.6,430.1L464.4,430.7L461.9,432.4L461.6,432.7L459.3,434.6L458.6,435.2L456.7,437.0L455.8,437.8L454.2,439.3L452.8,440.4L451.6,441.3L449.0,442.5L447.6,442.9L446.4,443.3L443.9,443.8L441.3,444.2L438.7,444.5L436.2,444.8L433.6,445.1L431.0,445.5L431.0,445.5L428.4,446.1L425.9,446.6L423.3,447.3L420.7,447.9L420.1,448.1L418.2,448.7L415.6,449.4L413.0,449.9L410.4,450.1L407.9,450.2L405.3,450.1L402.7,449.9L400.2,449.6L397.6,449.1L395.0,448.4L394.0,448.1L392.4,447.5L389.9,446.6L387.3,445.6L387.0,445.5L384.7,444.4L382.2,443.4L379.6,443.4L377.0,444.5L374.4,445.4L374.3,445.5L371.9,446.4L369.3,447.5L367.6,448.1L366.7,448.4L364.2,449.4L361.6,450.4L360.9,450.7L359.0,451.4L356.4,452.3L353.9,453.2L353.7,453.2L351.3,454.0M387.6,491.8L389.1,489.2L389.9,488.0L390.5,486.7L391.9,484.1L392.4,483.0L393.2,481.5L394.5,478.9L395.0,478.0L396.0,476.4L397.6,473.9L397.6,473.8L399.8,471.2L400.2,470.9L402.7,469.1L403.4,468.7L405.3,467.5L407.9,466.1L408.0,466.1L410.4,464.9L413.0,464.2L415.6,463.5L415.7,463.5L418.2,462.5L420.7,461.8L423.3,461.6L425.9,461.8L428.4,462.2L431.0,462.6L433.6,462.7L436.2,462.6L438.7,462.4L441.3,462.4L443.9,462.8L445.4,463.5L446.4,463.9L449.0,465.3L451.0,466.1L451.6,466.3L454.2,466.5L456.7,466.9L459.3,467.5L461.9,467.7L464.4,467.1L467.0,466.5L469.6,467.3L472.2,468.6L472.3,468.7L474.7,469.8L477.3,471.0L477.7,471.2L479.9,472.3L482.4,473.6L482.8,473.8L485.0,475.0L487.5,476.4L487.6,476.4L490.2,477.9L491.8,478.9L492.7,479.5L495.3,481.3L495.6,481.5L497.9,483.2L498.7,484.1L500.4,485.8L501.2,486.7L503.0,488.8L503.2,489.0M366.7,350.2L366.1,350.4L364.9,352.9L364.2,353.1L361.6,354.6L360.8,355.5L360.0,358.1L360.4,360.7L361.4,363.2L361.6,363.7L362.8,365.8L364.2,367.9L364.5,368.4L366.6,370.9L366.7,371.1L369.0,373.5L369.3,373.8L371.9,376.0L372.0,376.1L374.4,377.7L376.3,378.7L377.0,379.0L379.6,379.6L382.2,378.7L382.2,378.7L382.2,376.1L382.2,375.7L381.7,373.5L380.8,370.9L379.8,368.4L379.6,367.8L378.4,365.8L377.0,363.5L376.8,363.2L374.7,360.7L374.4,360.2L372.4,358.1L371.9,357.2L370.1,355.5L369.3,353.3L368.7,352.9L367.0,350.4L366.7,350.2M351.3,373.5L353.9,375.7L354.4,376.1L356.4,377.8L357.5,378.7L359.0,379.8L360.7,381.2L361.6,381.9L363.9,383.8L364.2,384.0L366.7,386.1L367.1,386.4L369.3,388.4L370.0,388.9L371.9,390.8L372.8,391.5L374.4,392.7L376.3,394.1L377.0,394.8L378.1,396.7L378.8,399.2L378.8,401.8L378.6,404.4L378.1,406.9L377.4,409.5L377.0,410.6L376.6,412.1L375.8,414.7L375.4,417.2L375.0,419.8L374.6,422.4L374.4,423.2L374.1,424.9L373.5,427.5L372.1,430.1L371.9,430.4L369.3,431.8L367.3,432.7L366.7,432.9L364.2,433.7L361.6,434.3L359.0,434.9L357.3,435.2L356.4,435.4L353.9,436.0L351.3,436.5M394.4,491.8L395.0,490.3L395.5,489.2L396.7,486.7L397.6,485.0L398.1,484.1L399.6,481.5L400.2,480.6L401.3,478.9L402.7,477.0L403.3,476.4L405.3,474.5L406.4,473.8L407.9,472.9L410.4,471.7L411.5,471.2L413.0,470.6L415.6,469.4L417.1,468.7L418.2,468.2L420.7,467.1L423.3,466.3L424.4,466.1L425.9,465.7L428.4,465.5L431.0,465.7L433.6,465.8L436.2,465.7L438.7,466.0L439.2,466.1L441.3,466.7L443.9,467.7L445.9,468.7L446.4,468.9L449.0,470.3L450.8,471.2L451.6,471.7L454.2,472.5L456.7,473.1L459.2,473.8L459.3,473.8L461.9,474.4L464.4,475.9L465.2,476.4L467.0,477.5L469.4,478.9L469.6,479.1L472.2,480.7L473.4,481.5L474.7,482.4L477.2,484.1L477.3,484.1L479.9,486.0L480.8,486.7L482.4,487.9L484.2,489.2L485.0,489.9L487.2,491.8M464.4,371.7L467.0,372.9L467.7,373.5L469.6,375.3L470.1,376.1L471.2,378.7L470.9,381.2L469.9,383.8L469.6,384.3L467.6,386.4L467.0,386.9L464.4,386.5L464.4,386.4L463.3,383.8L462.6,381.2L462.6,378.7L462.9,376.1L463.5,373.5L464.4,371.7M443.9,411.7L446.4,410.9L449.0,410.2L451.6,410.2L454.2,411.4L455.2,412.1L456.7,413.6L457.7,414.7L458.6,417.2L458.2,419.8L457.1,422.4L456.7,423.1L455.6,424.9L454.2,426.8L453.6,427.5L451.6,429.6L451.0,430.1L449.0,431.7L447.6,432.7L446.4,433.3L443.9,434.6L442.4,435.2L441.3,435.6L438.7,436.5L436.2,437.3L434.2,437.8L433.6,437.9L431.0,438.4L428.4,439.0L425.9,439.6L423.4,440.4L423.3,440.4L420.7,441.0L418.2,441.6L415.6,442.1L413.0,442.5L411.3,442.9L410.4,443.1L407.9,443.4L405.3,443.6L402.7,443.4L400.3,442.9L400.2,442.9L397.6,442.4L395.0,440.4L394.9,440.4L392.9,437.8L392.4,436.7L391.9,435.2L391.9,432.7L392.4,430.4L392.5,430.1L393.9,427.5L395.0,426.3L397.6,425.1L398.0,424.9L400.2,424.2L402.7,422.8L403.7,422.4L405.3,421.8L407.9,421.1L410.4,420.4L413.0,419.9L413.8,419.8L415.6,419.6L418.2,419.0L420.7,418.5L423.3,418.0L425.9,417.4L426.7,417.2L428.4,416.9L431.0,416.3L433.6,415.6L436.0,414.7L436.2,414.6L438.7,413.8L441.3,412.7L442.8,412.1L443.9,411.7M351.3,384.0L353.9,385.9L354.4,386.4L356.4,388.1L357.4,388.9L359.0,390.5L360.1,391.5L361.6,393.1L362.5,394.1L364.2,396.1L364.6,396.7L366.4,399.2L366.7,399.7L368.5,401.8L369.1,404.4L368.4,406.9L367.8,409.5L367.6,412.1L367.4,414.7L366.7,416.9L366.5,417.2L364.2,419.7L364.0,419.8L361.6,421.4L359.7,422.4L359.0,422.7L356.4,423.6L353.9,424.4L351.5,424.9L351.3,425.0M400.8,491.8L401.8,489.2L402.7,487.4L403.1,486.7L404.7,484.1L405.3,483.2L406.7,481.5L407.9,480.3L409.2,478.9L410.4,478.0L412.5,476.4L413.0,476.0L415.6,474.3L416.4,473.8L418.2,472.8L420.7,471.6L421.6,471.2L423.3,470.6L425.9,469.9L428.4,469.4L431.0,469.2L433.6,469.2L436.2,469.5L438.7,470.1L441.3,470.9L442.1,471.2L443.9,472.1L446.4,473.4L447.2,473.8L449.0,475.0L451.2,476.4L451.6,476.7L454.2,478.5L455.0,478.9L456.7,480.1L458.9,481.5L459.3,481.8L461.9,483.7L462.4,484.1L464.4,485.8L465.4,486.7L467.0,488.2L468.1,489.2L469.6,490.9L470.4,491.8M405.3,432.5L406.5,432.7L405.3,432.8L405.1,432.7L405.3,432.5M411.5,491.8L412.6,489.2L413.0,488.5L414.2,486.7L415.6,484.8L416.2,484.1L418.2,482.2L418.9,481.5L420.7,479.6L421.3,478.9L423.3,477.2L424.4,476.4L425.9,475.8L428.4,475.1L431.0,474.8L433.6,474.9L436.2,475.5L438.4,476.4L438.7,476.6L441.3,478.9L441.3,479.0L443.5,481.5L443.9,481.8L446.4,483.8L446.8,484.1L449.0,486.1L449.6,486.7L451.6,488.8L451.9,489.2L453.9,491.8" fill="none" stroke="#555" stroke-width="0.42" stroke-opacity="0.85"/></g>
<circle cx="432.30" cy="410.80" r="72.4" fill="none" stroke="#2a2a2a" stroke-width="0.8"/>
<path d="M417.14,340.01L432.30,327.54L447.46,340.01M504.27,402.76L506.15,399.58L507.31,399.46L509.03,400.00L510.77,402.76L510.49,411.60L511.51,424.30L509.33,429.81L506.15,430.84L503.11,428.16M360.33,402.76L358.45,399.58L357.29,399.46L355.57,400.00L353.83,402.76L354.11,411.60L353.09,424.30L355.27,429.81L358.45,430.84L361.49,428.16" fill="none" stroke="#3a3a3a" stroke-width="0.7" stroke-linejoin="round"/>
<text x="412.9" y="332.7" class="el">Fp1</text>
<text x="452.9" y="332.7" class="el">Fp2</text>
<text x="432.9" y="331.7" class="el">Fpz</text>
<text x="395.9" y="342.2" class="el">AF7</text>
<text x="469.9" y="342.2" class="el">AF8</text>
<text x="412.9" y="343.2" class="el">AF3</text>
<text x="452.9" y="343.2" class="el">AF4</text>
<text x="432.9" y="343.2" class="el">AFz</text>
<text x="385.4" y="360.2" class="el">F7</text>
<text x="480.4" y="360.2" class="el">F8</text>
<text x="393.9" y="361.2" class="el">F5</text>
<text x="471.9" y="361.2" class="el">F6</text>
<text x="404.4" y="360.7" class="el">F3</text>
<text x="461.4" y="360.7" class="el">F4</text>
<text x="417.9" y="360.2" class="el">F1</text>
<text x="447.9" y="360.2" class="el">F2</text>
<text x="432.9" y="359.9" class="el">Fz</text>
<text x="379.9" y="379.2" class="el">FT7</text>
<text x="485.9" y="379.2" class="el">FT8</text>
<text x="388.9" y="379.2" class="el">FC5</text>
<text x="476.9" y="379.2" class="el">FC6</text>
<text x="400.4" y="378.7" class="el">FC3</text>
<text x="465.4" y="378.7" class="el">FC4</text>
<text x="415.9" y="378.2" class="el">FC1</text>
<text x="449.9" y="378.2" class="el">FC2</text>
<text x="432.9" y="377.7" class="el">FCz</text>
<text x="378.9" y="399.9" class="el">T7</text>
<text x="486.9" y="399.9" class="el">T8</text>
<text x="387.9" y="398.9" class="el">C5</text>
<text x="477.9" y="398.9" class="el">C6</text>
<text x="398.9" y="397.8" class="el">C3</text>
<text x="466.9" y="397.8" class="el">C4</text>
<text x="414.9" y="397.2" class="el">C1</text>
<text x="450.9" y="397.2" class="el">C2</text>
<text x="432.9" y="396.4" class="el">Cz</text>
<text x="379.9" y="419.0" class="el">TP7</text>
<text x="485.9" y="419.0" class="el">TP8</text>
<text x="388.4" y="416.9" class="el">CP5</text>
<text x="477.4" y="416.9" class="el">CP6</text>
<text x="399.9" y="415.8" class="el">CP3</text>
<text x="465.9" y="415.8" class="el">CP4</text>
<text x="415.4" y="415.3" class="el">CP1</text>
<text x="450.4" y="415.3" class="el">CP2</text>
<text x="432.9" y="415.1" class="el">CPz</text>
<text x="377.9" y="443.5" class="el">P9</text>
<text x="487.9" y="443.5" class="el">P10</text>
<text x="388.4" y="435.4" class="el">P7</text>
<text x="477.4" y="435.4" class="el">P8</text>
<text x="395.4" y="433.7" class="el">P5</text>
<text x="470.4" y="433.7" class="el">P6</text>
<text x="404.9" y="432.6" class="el">P3</text>
<text x="460.9" y="432.6" class="el">P4</text>
<text x="417.9" y="431.9" class="el">P1</text>
<text x="447.9" y="431.9" class="el">P2</text>
<text x="432.9" y="431.9" class="el">Pz</text>
<text x="399.9" y="448.9" class="el">PO7</text>
<text x="465.9" y="448.9" class="el">PO8</text>
<text x="413.4" y="445.4" class="el">PO3</text>
<text x="452.4" y="445.4" class="el">PO4</text>
<text x="432.9" y="444.6" class="el">POz</text>
<text x="415.4" y="456.6" class="el">O1</text>
<text x="450.4" y="456.6" class="el">O2</text>
<text x="432.9" y="457.1" class="el">Oz</text>
<text x="432.9" y="468.5" class="el">Iz</text>
<defs><linearGradient id="cbg" x1="0" y1="0" x2="1" y2="0"><stop offset="0.0000" stop-color="#fcfbfd"/><stop offset="0.0312" stop-color="#f9f7fb"/><stop offset="0.0625" stop-color="#f5f4f9"/><stop offset="0.0938" stop-color="#f2f0f7"/><stop offset="0.1250" stop-color="#efedf5"/><stop offset="0.1562" stop-color="#eae8f2"/><stop offset="0.1875" stop-color="#e4e3f0"/><stop offset="0.2188" stop-color="#dfdfed"/><stop offset="0.2500" stop-color="#dadaeb"/><stop offset="0.2812" stop-color="#d2d2e7"/><stop offset="0.3125" stop-color="#cbcbe3"/><stop offset="0.3438" stop-color="#c3c4e0"/><stop offset="0.3750" stop-color="#bcbddc"/><stop offset="0.4062" stop-color="#b4b4d7"/><stop offset="0.4375" stop-color="#adabd2"/><stop offset="0.4688" stop-color="#a5a2cd"/><stop offset="0.5000" stop-color="#9e9ac8"/><stop offset="0.5312" stop-color="#9692c4"/><stop offset="0.5625" stop-color="#8e8bc1"/><stop offset="0.5938" stop-color="#8784bd"/><stop offset="0.6250" stop-color="#807cba"/><stop offset="0.6562" stop-color="#7a71b4"/><stop offset="0.6875" stop-color="#7566ae"/><stop offset="0.7188" stop-color="#6f5ba8"/><stop offset="0.7500" stop-color="#6950a3"/><stop offset="0.7812" stop-color="#64459e"/><stop offset="0.8125" stop-color="#5e3b98"/><stop offset="0.8438" stop-color="#593093"/><stop offset="0.8750" stop-color="#53268f"/><stop offset="0.9062" stop-color="#4e1c8a"/><stop offset="0.9375" stop-color="#491285"/><stop offset="0.9688" stop-color="#440981"/><stop offset="1.0000" stop-color="#3f007d"/></linearGradient></defs>
<rect x="15.6" y="493.6" width="523.50" height="26.00" fill="url(#cbg)" stroke="#000" stroke-width="1"/>
<line x1="15.60" y1="519.6" x2="15.60" y2="525.1" stroke="#000" stroke-width="1"/>
<text x="15.60" y="537.9" class="cb">0.0</text>
<line x1="120.30" y1="519.6" x2="120.30" y2="525.1" stroke="#000" stroke-width="1"/>
<text x="120.30" y="537.9" class="cb">0.2</text>
<line x1="225.00" y1="519.6" x2="225.00" y2="525.1" stroke="#000" stroke-width="1"/>
<text x="225.00" y="537.9" class="cb">0.4</text>
<line x1="329.70" y1="519.6" x2="329.70" y2="525.1" stroke="#000" stroke-width="1"/>
<text x="329.70" y="537.9" class="cb">0.6</text>
<line x1="434.40" y1="519.6" x2="434.40" y2="525.1" stroke="#000" stroke-width="1"/>
<text x="434.40" y="537.9" class="cb">0.8</text>
<line x1="539.10" y1="519.6" x2="539.10" y2="525.1" stroke="#000" stroke-width="1"/>
<text x="539.10" y="537.9" class="cb">1.0</text>
</svg></body></html>
